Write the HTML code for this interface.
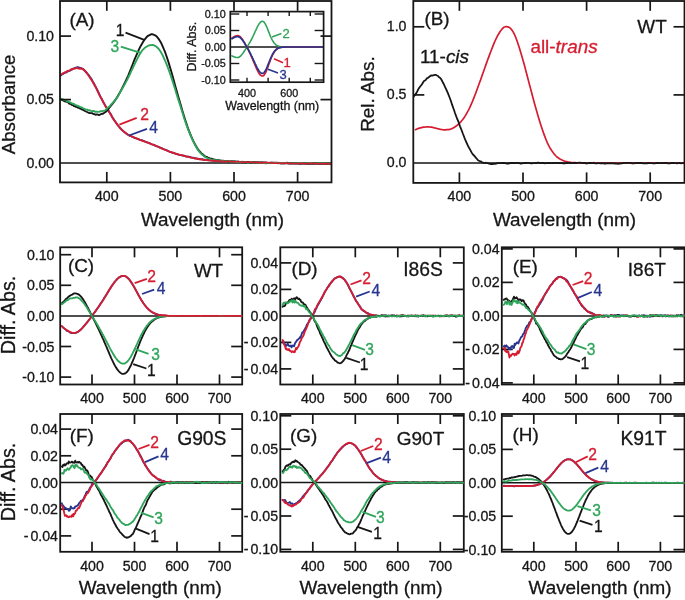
<!DOCTYPE html>
<html><head><meta charset="utf-8"><title>Figure</title>
<style>html,body{margin:0;padding:0;background:#fff}svg{display:block}</style>
</head><body>
<svg width="685" height="600" viewBox="0 0 685 600" font-family='"Liberation Sans", Arial, sans-serif'>
<rect width="685" height="600" fill="#fff"/>
<defs>
<clipPath id="cA"><rect x="60" y="1.0" width="271.5" height="181.4"/></clipPath>
<clipPath id="cB"><rect x="413.3" y="1.0" width="271.2" height="181.9"/></clipPath>
<clipPath id="cI"><rect x="230.3" y="11.6" width="93.30000000000001" height="70.60000000000001"/></clipPath>
<clipPath id="cC"><rect x="60.2" y="247.3" width="182.0" height="137.2"/></clipPath>
<clipPath id="cD"><rect x="280.3" y="247.3" width="183.5" height="137.2"/></clipPath>
<clipPath id="cE"><rect x="501.8" y="247.3" width="182.7" height="137.2"/></clipPath>
<clipPath id="cF"><rect x="60.2" y="414" width="182.0" height="137.79999999999995"/></clipPath>
<clipPath id="cG"><rect x="280.3" y="414" width="183.5" height="137.79999999999995"/></clipPath>
<clipPath id="cH"><rect x="501.8" y="414" width="182.7" height="137.79999999999995"/></clipPath>
<filter id="soft" x="0" y="0" width="100%" height="100%" filterUnits="userSpaceOnUse"><feGaussianBlur stdDeviation="0.45"/></filter>
</defs>
<g filter="url(#soft)">
<rect width="685" height="600" fill="#fff"/>
<line x1="60" x2="331.5" y1="163.1" y2="163.1" stroke="#161616" stroke-width="1.5"/>
<polyline points="60.0,75.6 61.0,75.3 62.0,74.3 63.0,74.0 64.0,73.3 65.0,72.6 66.0,72.6 67.0,72.0 68.0,71.3 69.0,70.9 70.0,70.6 71.0,69.9 72.0,69.5 73.0,68.7 74.0,68.4 75.0,68.0 76.0,67.6 77.0,67.3 78.0,67.2 79.0,67.6 80.0,67.8 81.0,68.1 82.0,68.7 83.0,69.0 84.0,70.0 85.0,71.1 86.0,72.3 87.0,73.2 88.0,74.4 89.0,75.4 90.0,77.1 91.0,78.3 92.0,79.9 93.0,82.2 94.0,83.4 95.0,85.6 96.0,87.5 97.0,89.4 98.0,91.5 99.0,93.6 100.0,95.9 101.0,97.7 102.0,99.6 103.0,101.5 104.0,103.2 105.0,105.2 106.0,106.7 107.0,108.8 108.0,109.9 109.0,111.4 110.0,113.1 111.0,114.4 112.0,116.9 113.0,118.3 114.0,119.8 115.0,121.3 116.0,122.8 117.0,124.0 118.0,125.5 119.0,126.7 120.0,127.8 121.0,128.9 122.0,130.0 123.0,130.9 124.0,131.7 125.0,132.6 126.0,133.4 127.0,133.9 128.0,134.7 129.0,135.3 130.0,135.7 131.0,136.2 132.0,136.6 133.0,137.2 134.0,137.6 135.0,138.0 136.0,138.3 137.0,138.7 138.0,139.1 139.0,139.4 140.0,140.0 141.0,140.1 142.0,140.2 143.0,140.7 144.0,141.1 145.0,141.6 146.0,141.9 147.0,142.3 148.0,142.7 149.0,143.1 150.0,143.4 151.0,143.8 152.0,144.3 153.0,144.7 154.0,145.0 155.0,145.7 156.0,146.1 157.0,146.4 158.0,146.7 159.0,147.2 160.0,147.6 161.0,148.0 162.0,148.4 163.0,148.8 164.0,149.3 165.0,149.7 166.0,150.0 167.0,150.5 168.0,150.9 169.0,151.4 170.0,151.8 171.0,152.1 172.0,152.5 173.0,152.8 174.0,153.0 175.0,153.5 176.0,153.9 177.0,154.2 178.0,154.4 179.0,154.7 180.0,154.9 181.0,155.1 182.0,155.4 183.0,155.6 184.0,155.8 185.0,156.0 186.0,156.3 187.0,156.6 188.0,156.7 189.0,156.8 190.0,157.1 191.0,157.5 192.0,157.6 193.0,157.8 194.0,158.0 195.0,158.3 196.0,158.4 197.0,158.7 198.0,158.8 199.0,159.0 200.0,159.2 201.0,159.3 202.0,159.3 203.0,159.4 204.0,159.6 205.0,159.8 206.0,160.0 207.0,160.0 208.0,160.2 209.0,160.4 210.0,160.4 211.0,160.4 212.0,160.5 213.0,160.6 214.0,160.8 215.0,160.7 216.0,160.8 217.0,160.8 218.0,160.8 219.0,161.1 220.0,161.2 221.0,161.1 222.0,161.2 223.0,161.3 224.0,161.2 225.0,161.3 226.0,161.4 227.0,161.3 228.0,161.4 229.0,161.6 230.0,161.7 231.0,161.5 232.0,161.6 233.0,161.6 234.0,161.7 235.0,161.8 236.0,161.9 237.0,161.8 238.0,161.8 239.0,162.0 240.0,161.9 241.0,162.0 242.0,162.1 243.0,162.1 244.0,162.4 245.0,162.3 246.0,162.5 247.0,162.2 248.0,161.9 249.0,162.2 250.0,162.3 251.0,162.3 252.0,162.3 253.0,162.1 254.0,162.2 255.0,162.2 256.0,162.3 257.0,162.5 258.0,162.5 259.0,162.6 260.0,162.5 261.0,162.5 262.0,162.6 263.0,162.6 264.0,162.8 265.0,162.7 266.0,162.9 267.0,162.8 268.0,162.9 269.0,162.8 270.0,163.0 271.0,163.0 272.0,163.0 273.0,163.1 274.0,163.0 275.0,162.9 276.0,162.7 277.0,163.0 278.0,162.9 279.0,162.9 280.0,163.0 281.0,163.3 282.0,163.1 283.0,163.1 284.0,163.1 285.0,163.2 286.0,163.0 287.0,163.1 288.0,163.3 289.0,163.5 290.0,163.6 291.0,163.4 292.0,163.4 293.0,163.4 294.0,163.2 295.0,163.1 296.0,163.3 297.0,163.4 298.0,163.4 299.0,163.6 300.0,163.4 301.0,163.5 302.0,163.5 303.0,163.5 304.0,163.6 305.0,163.6 306.0,163.6 307.0,163.6 308.0,163.8 309.0,163.7 310.0,163.8 311.0,163.8 312.0,163.7 313.0,163.8 314.0,163.6 315.0,163.8 316.0,163.6 317.0,163.6 318.0,163.7 319.0,163.8 320.0,163.9 321.0,163.9 322.0,163.8 323.0,163.7 324.0,163.8 325.0,163.8 326.0,163.7 327.0,163.8 328.0,163.8 329.0,163.7 330.0,163.8 331.0,163.6 332.0,163.6" fill="none" stroke="#28368f" stroke-width="1.9" stroke-linejoin="round" stroke-linecap="round" clip-path="url(#cA)"/>
<polyline points="60.0,75.7 61.0,74.6 62.0,74.2 63.0,73.3 64.0,73.1 65.0,72.4 66.0,72.0 67.0,71.2 68.0,70.8 69.0,70.7 70.0,70.3 71.0,69.3 72.0,69.2 73.0,69.0 74.0,68.5 75.0,68.6 76.0,68.0 77.0,68.0 78.0,68.3 79.0,68.6 80.0,68.8 81.0,68.5 82.0,68.5 83.0,69.3 84.0,69.8 85.0,70.9 86.0,71.7 87.0,73.3 88.0,74.8 89.0,76.3 90.0,77.7 91.0,79.3 92.0,80.8 93.0,82.5 94.0,84.2 95.0,86.0 96.0,87.6 97.0,90.0 98.0,91.8 99.0,94.1 100.0,96.2 101.0,97.7 102.0,99.3 103.0,101.8 104.0,103.6 105.0,105.4 106.0,107.0 107.0,108.7 108.0,110.0 109.0,111.8 110.0,113.4 111.0,115.1 112.0,116.7 113.0,118.4 114.0,120.0 115.0,121.3 116.0,122.6 117.0,124.1 118.0,125.5 119.0,126.7 120.0,128.0 121.0,129.1 122.0,130.0 123.0,130.9 124.0,131.8 125.0,132.5 126.0,133.3 127.0,134.1 128.0,134.7 129.0,135.3 130.0,135.8 131.0,136.2 132.0,136.6 133.0,137.0 134.0,137.4 135.0,137.8 136.0,138.2 137.0,138.5 138.0,139.0 139.0,139.4 140.0,139.8 141.0,140.3 142.0,140.7 143.0,141.1 144.0,141.3 145.0,141.5 146.0,142.0 147.0,142.4 148.0,142.7 149.0,143.1 150.0,143.5 151.0,143.9 152.0,144.3 153.0,144.6 154.0,144.8 155.0,145.3 156.0,145.9 157.0,146.2 158.0,146.8 159.0,147.2 160.0,147.6 161.0,148.1 162.0,148.5 163.0,148.9 164.0,149.3 165.0,149.7 166.0,150.2 167.0,150.5 168.0,151.0 169.0,151.5 170.0,152.0 171.0,152.1 172.0,152.5 173.0,152.7 174.0,153.1 175.0,153.5 176.0,153.7 177.0,153.9 178.0,154.3 179.0,154.7 180.0,154.9 181.0,155.1 182.0,155.2 183.0,155.5 184.0,155.8 185.0,156.1 186.0,156.5 187.0,156.6 188.0,156.7 189.0,157.0 190.0,157.2 191.0,157.4 192.0,157.7 193.0,157.9 194.0,158.2 195.0,158.5 196.0,158.4 197.0,158.6 198.0,159.0 199.0,159.0 200.0,159.3 201.0,159.4 202.0,159.5 203.0,159.8 204.0,160.0 205.0,160.0 206.0,160.1 207.0,160.0 208.0,160.0 209.0,160.3 210.0,160.4 211.0,160.3 212.0,160.5 213.0,160.6 214.0,160.8 215.0,161.0 216.0,160.9 217.0,160.9 218.0,160.9 219.0,161.0 220.0,161.2 221.0,161.4 222.0,161.5 223.0,161.5 224.0,161.4 225.0,161.5 226.0,161.5 227.0,161.5 228.0,161.3 229.0,161.4 230.0,161.7 231.0,161.5 232.0,161.4 233.0,161.5 234.0,161.8 235.0,162.0 236.0,161.9 237.0,161.9 238.0,161.9 239.0,161.8 240.0,161.9 241.0,161.9 242.0,161.8 243.0,161.9 244.0,161.9 245.0,161.9 246.0,161.9 247.0,162.2 248.0,162.4 249.0,162.3 250.0,162.3 251.0,162.4 252.0,162.4 253.0,162.3 254.0,162.5 255.0,162.4 256.0,162.3 257.0,162.3 258.0,162.3 259.0,162.4 260.0,162.6 261.0,162.8 262.0,162.8 263.0,162.8 264.0,162.6 265.0,162.7 266.0,162.6 267.0,162.7 268.0,162.9 269.0,162.9 270.0,162.9 271.0,162.8 272.0,162.8 273.0,162.9 274.0,162.8 275.0,162.8 276.0,163.0 277.0,162.8 278.0,162.9 279.0,162.8 280.0,163.1 281.0,163.2 282.0,163.3 283.0,163.3 284.0,163.3 285.0,163.3 286.0,163.1 287.0,163.2 288.0,163.3 289.0,163.1 290.0,163.3 291.0,163.4 292.0,163.2 293.0,163.2 294.0,163.2 295.0,163.2 296.0,163.4 297.0,163.2 298.0,163.3 299.0,163.4 300.0,163.5 301.0,163.5 302.0,163.5 303.0,163.6 304.0,163.3 305.0,163.5 306.0,163.5 307.0,163.4 308.0,163.4 309.0,163.3 310.0,163.2 311.0,163.3 312.0,163.4 313.0,163.6 314.0,163.5 315.0,163.4 316.0,163.4 317.0,163.7 318.0,163.7 319.0,163.6 320.0,163.6 321.0,163.5 322.0,163.6 323.0,163.7 324.0,163.9 325.0,164.0 326.0,163.9 327.0,163.8 328.0,163.7 329.0,163.4 330.0,163.5 331.0,163.7 332.0,163.7" fill="none" stroke="#d61d30" stroke-width="1.9" stroke-linejoin="round" stroke-linecap="round" clip-path="url(#cA)"/>
<polyline points="60.0,99.0 61.0,99.1 62.0,99.9 63.0,100.4 64.0,100.9 65.0,101.5 66.0,101.3 67.0,101.9 68.0,102.3 69.0,103.5 70.0,103.9 71.0,104.2 72.0,105.0 73.0,105.1 74.0,106.1 75.0,106.3 76.0,106.8 77.0,107.0 78.0,107.8 79.0,107.7 80.0,108.6 81.0,108.9 82.0,109.5 83.0,109.7 84.0,110.4 85.0,111.0 86.0,111.5 87.0,112.0 88.0,112.5 89.0,113.0 90.0,113.1 91.0,113.1 92.0,113.1 93.0,113.8 94.0,114.0 95.0,114.5 96.0,114.7 97.0,114.4 98.0,114.7 99.0,115.1 100.0,114.7 101.0,114.2 102.0,113.8 103.0,113.7 104.0,113.0 105.0,112.3 106.0,111.6 107.0,110.5 108.0,109.4 109.0,108.1 110.0,106.8 111.0,105.7 112.0,104.5 113.0,103.2 114.0,101.8 115.0,100.5 116.0,99.0 117.0,97.4 118.0,95.8 119.0,94.1 120.0,92.3 121.0,90.4 122.0,88.4 123.0,86.5 124.0,84.5 125.0,82.4 126.0,80.3 127.0,78.2 128.0,76.2 129.0,73.7 130.0,71.2 131.0,68.7 132.0,66.0 133.0,63.5 134.0,60.9 135.0,58.4 136.0,56.1 137.0,53.8 138.0,51.6 139.0,49.4 140.0,47.4 141.0,45.4 142.0,43.7 143.0,42.0 144.0,40.4 145.0,39.1 146.0,37.9 147.0,36.7 148.0,35.8 149.0,35.3 150.0,34.8 151.0,34.3 152.0,34.2 153.0,34.4 154.0,34.8 155.0,35.3 156.0,35.9 157.0,36.8 158.0,38.1 159.0,39.4 160.0,41.0 161.0,42.7 162.0,44.9 163.0,47.1 164.0,49.5 165.0,51.9 166.0,54.7 167.0,57.6 168.0,60.6 169.0,63.9 170.0,67.2 171.0,70.6 172.0,74.0 173.0,77.6 174.0,81.3 175.0,84.9 176.0,88.4 177.0,92.1 178.0,95.7 179.0,99.1 180.0,102.6 181.0,105.9 182.0,109.4 183.0,112.7 184.0,116.1 185.0,119.3 186.0,122.3 187.0,125.4 188.0,128.2 189.0,130.9 190.0,133.4 191.0,135.9 192.0,138.2 193.0,140.3 194.0,142.3 195.0,144.2 196.0,146.0 197.0,147.7 198.0,149.3 199.0,150.6 200.0,151.6 201.0,152.8 202.0,153.8 203.0,154.6 204.0,155.4 205.0,156.3 206.0,156.7 207.0,157.0 208.0,157.6 209.0,157.9 210.0,158.5 211.0,158.6 212.0,158.8 213.0,159.2 214.0,159.5 215.0,159.7 216.0,159.9 217.0,160.0 218.0,160.1 219.0,160.2 220.0,160.5 221.0,160.6 222.0,160.7 223.0,160.8 224.0,161.0 225.0,161.2 226.0,161.2 227.0,161.2 228.0,161.3 229.0,161.7 230.0,161.6 231.0,161.8 232.0,161.5 233.0,161.7 234.0,161.5 235.0,161.5 236.0,161.6 237.0,161.7 238.0,161.8 239.0,161.9 240.0,162.0 241.0,162.0 242.0,162.3 243.0,162.3 244.0,162.4 245.0,162.6 246.0,162.6 247.0,162.5 248.0,162.5 249.0,162.7 250.0,162.5 251.0,162.3 252.0,162.4 253.0,162.2 254.0,162.3 255.0,162.5 256.0,162.5 257.0,162.6 258.0,162.7 259.0,162.6 260.0,162.7 261.0,162.6 262.0,162.5 263.0,162.6 264.0,162.7 265.0,162.7 266.0,162.7 267.0,162.9 268.0,163.0 269.0,163.0 270.0,163.0 271.0,162.8 272.0,162.8 273.0,162.7 274.0,162.9 275.0,163.0 276.0,163.1 277.0,163.1 278.0,163.0 279.0,163.1 280.0,163.1 281.0,163.2 282.0,163.3 283.0,163.2 284.0,163.4 285.0,163.1 286.0,162.9 287.0,162.8 288.0,162.9 289.0,163.0 290.0,163.3 291.0,163.2 292.0,163.3 293.0,163.3 294.0,163.3 295.0,163.2 296.0,163.5 297.0,163.4 298.0,163.3 299.0,163.6 300.0,163.5 301.0,163.5 302.0,163.4 303.0,163.3 304.0,163.2 305.0,163.2 306.0,163.5 307.0,163.5 308.0,163.5 309.0,163.6 310.0,163.4 311.0,163.6 312.0,163.5 313.0,163.4 314.0,163.5 315.0,163.6 316.0,163.5 317.0,163.5 318.0,163.6 319.0,163.8 320.0,163.6 321.0,163.2 322.0,163.6 323.0,163.6 324.0,163.5 325.0,163.6 326.0,163.5 327.0,163.7 328.0,163.5 329.0,163.5 330.0,163.4 331.0,163.7 332.0,163.6" fill="none" stroke="#161616" stroke-width="1.9" stroke-linejoin="round" stroke-linecap="round" clip-path="url(#cA)"/>
<polyline points="60.0,98.8 61.0,99.3 62.0,99.1 63.0,99.4 64.0,99.9 65.0,100.2 66.0,100.5 67.0,101.1 68.0,101.7 69.0,101.9 70.0,102.3 71.0,102.9 72.0,103.4 73.0,103.8 74.0,104.0 75.0,104.9 76.0,105.2 77.0,105.6 78.0,106.0 79.0,106.4 80.0,106.9 81.0,107.1 82.0,107.6 83.0,108.3 84.0,108.7 85.0,109.1 86.0,109.4 87.0,109.6 88.0,110.3 89.0,110.2 90.0,110.5 91.0,110.9 92.0,111.1 93.0,111.0 94.0,111.0 95.0,111.8 96.0,111.6 97.0,111.7 98.0,111.9 99.0,111.9 100.0,111.4 101.0,111.1 102.0,111.2 103.0,110.9 104.0,110.7 105.0,110.4 106.0,109.8 107.0,108.6 108.0,107.4 109.0,107.0 110.0,105.8 111.0,104.5 112.0,103.6 113.0,102.5 114.0,101.3 115.0,100.1 116.0,98.9 117.0,97.5 118.0,96.0 119.0,94.3 120.0,92.5 121.0,90.8 122.0,89.1 123.0,87.3 124.0,85.6 125.0,83.8 126.0,81.9 127.0,80.1 128.0,78.1 129.0,76.0 130.0,74.0 131.0,71.7 132.0,69.7 133.0,67.6 134.0,65.3 135.0,63.3 136.0,61.3 137.0,59.3 138.0,57.4 139.0,55.5 140.0,53.8 141.0,52.2 142.0,50.7 143.0,49.7 144.0,48.7 145.0,47.7 146.0,47.0 147.0,46.5 148.0,45.8 149.0,45.4 150.0,45.2 151.0,45.1 152.0,45.0 153.0,45.0 154.0,45.4 155.0,45.8 156.0,46.3 157.0,47.3 158.0,48.2 159.0,49.4 160.0,50.8 161.0,52.3 162.0,54.1 163.0,56.0 164.0,58.3 165.0,60.5 166.0,62.9 167.0,65.4 168.0,68.0 169.0,70.6 170.0,73.5 171.0,76.5 172.0,79.4 173.0,82.5 174.0,85.7 175.0,88.8 176.0,92.3 177.0,95.4 178.0,98.6 179.0,101.6 180.0,104.8 181.0,108.0 182.0,111.2 183.0,114.4 184.0,117.7 185.0,120.7 186.0,123.7 187.0,126.5 188.0,129.3 189.0,131.7 190.0,134.0 191.0,136.4 192.0,138.7 193.0,140.8 194.0,142.8 195.0,144.8 196.0,146.8 197.0,148.4 198.0,150.0 199.0,151.4 200.0,152.6 201.0,153.6 202.0,154.6 203.0,155.2 204.0,156.3 205.0,156.9 206.0,157.5 207.0,158.0 208.0,158.4 209.0,158.6 210.0,159.2 211.0,159.5 212.0,159.6 213.0,160.2 214.0,160.0 215.0,160.2 216.0,160.3 217.0,160.2 218.0,160.6 219.0,160.5 220.0,160.6 221.0,160.8 222.0,160.9 223.0,160.9 224.0,161.2 225.0,161.3 226.0,161.2 227.0,161.2 228.0,161.4 229.0,161.3 230.0,161.5 231.0,161.7 232.0,161.7 233.0,161.5 234.0,161.5 235.0,161.7 236.0,161.8 237.0,162.1 238.0,162.1 239.0,162.1 240.0,162.2 241.0,162.3 242.0,162.3 243.0,162.4 244.0,162.4 245.0,162.4 246.0,162.4 247.0,162.7 248.0,162.6 249.0,162.7 250.0,162.3 251.0,162.3 252.0,162.3 253.0,162.5 254.0,162.5 255.0,162.5 256.0,162.5 257.0,162.7 258.0,162.9 259.0,162.8 260.0,162.9 261.0,162.8 262.0,162.9 263.0,162.8 264.0,163.0 265.0,163.2 266.0,163.1 267.0,163.2 268.0,162.9 269.0,162.9 270.0,163.2 271.0,163.1 272.0,163.1 273.0,162.9 274.0,163.0 275.0,162.9 276.0,163.1 277.0,163.0 278.0,163.4 279.0,163.1 280.0,163.2 281.0,162.9 282.0,162.9 283.0,163.2 284.0,163.2 285.0,163.0 286.0,163.1 287.0,163.3 288.0,163.3 289.0,163.4 290.0,163.1 291.0,163.4 292.0,163.4 293.0,163.1 294.0,163.4 295.0,163.3 296.0,163.3 297.0,163.1 298.0,163.1 299.0,163.0 300.0,163.2 301.0,163.2 302.0,163.1 303.0,163.2 304.0,163.4 305.0,163.3 306.0,163.4 307.0,163.2 308.0,163.1 309.0,163.1 310.0,163.2 311.0,163.3 312.0,163.5 313.0,163.4 314.0,163.4 315.0,163.5 316.0,163.5 317.0,163.5 318.0,163.5 319.0,163.2 320.0,163.2 321.0,163.1 322.0,163.2 323.0,163.4 324.0,163.2 325.0,163.5 326.0,163.4 327.0,163.4 328.0,163.4 329.0,163.5 330.0,163.4 331.0,163.2 332.0,163.4" fill="none" stroke="#2fa55a" stroke-width="1.9" stroke-linejoin="round" stroke-linecap="round" clip-path="url(#cA)"/>
<polyline points="205.5,159.9 206.5,160.1 207.5,160.2 208.5,160.1 209.5,160.3 210.5,160.4 211.5,160.4 212.5,160.5 213.5,160.7 214.5,160.6 215.5,160.7 216.5,160.9 217.5,160.8 218.5,160.9 219.5,160.9 220.5,160.9 221.5,161.0 222.5,161.1 223.5,161.4 224.5,161.4 225.5,161.5 226.5,161.6 227.5,161.6 228.5,161.2 229.5,161.4 230.5,161.5 231.5,161.5 232.5,161.6 233.5,161.8 234.5,161.7 235.5,161.7 236.5,161.9 237.5,161.7 238.5,161.7 239.5,161.8 240.5,162.0 241.5,162.2 242.5,162.2 243.5,162.5 244.5,162.4 245.5,162.2 246.5,162.2 247.5,162.3 248.5,162.3 249.5,162.1 250.5,162.2 251.5,162.2 252.5,162.3 253.5,162.5 254.5,162.5 255.5,162.4 256.5,162.4 257.5,162.4 258.5,162.7 259.5,162.8 260.5,162.8 261.5,162.7 262.5,162.6 263.5,162.7 264.5,162.4 265.5,162.7 266.5,162.6 267.5,162.7 268.5,162.8 269.5,162.7 270.5,162.8 271.5,163.0 272.5,163.2 273.5,163.1 274.5,163.3 275.5,163.3 276.5,163.2 277.5,163.2 278.5,163.1 279.5,163.1 280.5,163.2 281.5,163.3 282.5,163.3 283.5,163.1 284.5,163.3 285.5,163.3 286.5,163.3 287.5,163.2 288.5,163.3 289.5,163.3 290.5,163.4 291.5,163.4 292.5,163.6 293.5,163.5 294.5,163.5 295.5,163.5 296.5,163.6 297.5,163.4 298.5,163.4 299.5,163.4 300.5,163.4 301.5,163.3 302.5,163.3 303.5,163.5 304.5,163.7 305.5,163.5 306.5,163.6 307.5,163.5 308.5,163.4 309.5,163.5 310.5,163.5 311.5,163.6 312.5,163.4 313.5,163.4 314.5,163.5 315.5,163.5 316.5,163.9 317.5,163.8 318.5,163.7 319.5,163.8 320.5,163.5 321.5,163.4 322.5,163.8 323.5,163.7 324.5,163.8 325.5,163.7 326.5,163.6 327.5,163.7 328.5,163.6 329.5,163.8 330.5,163.9 331.5,163.9" fill="none" stroke="#d61d30" stroke-width="1.5" stroke-linejoin="round" stroke-linecap="round" clip-path="url(#cA)"/>
<rect x="60" y="1.0" width="271.5" height="181.4" fill="none" stroke="#161616" stroke-width="1.8"/>
<line x1="106.8" x2="106.8" y1="182.4" y2="171.9" stroke="#161616" stroke-width="1.7"/>
<line x1="106.8" x2="106.8" y1="1.0" y2="10.8" stroke="#161616" stroke-width="1.7"/>
<line x1="170.4" x2="170.4" y1="182.4" y2="171.9" stroke="#161616" stroke-width="1.7"/>
<line x1="170.4" x2="170.4" y1="1.0" y2="10.8" stroke="#161616" stroke-width="1.7"/>
<line x1="234.0" x2="234.0" y1="182.4" y2="171.9" stroke="#161616" stroke-width="1.7"/>
<line x1="234.0" x2="234.0" y1="1.0" y2="10.8" stroke="#161616" stroke-width="1.7"/>
<line x1="297.6" x2="297.6" y1="182.4" y2="171.9" stroke="#161616" stroke-width="1.7"/>
<line x1="297.6" x2="297.6" y1="1.0" y2="10.8" stroke="#161616" stroke-width="1.7"/>
<line x1="60" x2="71" y1="99.6" y2="99.6" stroke="#161616" stroke-width="1.7"/>
<line x1="331.5" x2="320.5" y1="99.6" y2="99.6" stroke="#161616" stroke-width="1.7"/>
<line x1="60" x2="71" y1="36.1" y2="36.1" stroke="#161616" stroke-width="1.7"/>
<line x1="331.5" x2="320.5" y1="36.1" y2="36.1" stroke="#161616" stroke-width="1.7"/>
<text x="106.8" y="201.3" font-size="14.2" text-anchor="middle" fill="#161616" stroke="#161616" stroke-width="0.3" >400</text>
<text x="170.4" y="201.3" font-size="14.2" text-anchor="middle" fill="#161616" stroke="#161616" stroke-width="0.3" >500</text>
<text x="234.0" y="201.3" font-size="14.2" text-anchor="middle" fill="#161616" stroke="#161616" stroke-width="0.3" >600</text>
<text x="297.6" y="201.3" font-size="14.2" text-anchor="middle" fill="#161616" stroke="#161616" stroke-width="0.3" >700</text>
<text x="54.0" y="167.9" font-size="14.2" text-anchor="end" fill="#161616" stroke="#161616" stroke-width="0.3" >0.00</text>
<text x="54.0" y="104.4" font-size="14.2" text-anchor="end" fill="#161616" stroke="#161616" stroke-width="0.3" >0.05</text>
<text x="54.0" y="40.9" font-size="14.2" text-anchor="end" fill="#161616" stroke="#161616" stroke-width="0.3" >0.10</text>
<text x="212.5" y="226.0" font-size="18.9" text-anchor="middle" fill="#161616" stroke="#161616" stroke-width="0.3" >Wavelength (nm)</text>
<text x="15.4" y="104.4" font-size="18.7" text-anchor="middle" fill="#161616" stroke="#161616" stroke-width="0.3" transform="rotate(-90 15.4 104.4)">Absorbance</text>
<text x="82.0" y="25.5" font-size="18.9" text-anchor="middle" fill="#161616" stroke="#161616" stroke-width="0.3" >(A)</text>
<text x="120.2" y="36.2" font-size="15.6" text-anchor="middle" fill="#161616" stroke="#161616" stroke-width="0.3" >1</text>
<line x1="125.5" y1="32.7" x2="144.3" y2="39.8" stroke="#161616" stroke-width="1.8"/>
<text x="114.9" y="52.0" font-size="15.6" text-anchor="middle" fill="#2fa55a" stroke="#2fa55a" stroke-width="0.3" >3</text>
<line x1="120.8" y1="46.6" x2="139.8" y2="52.7" stroke="#2fa55a" stroke-width="1.8"/>
<text x="144.5" y="119.7" font-size="15.6" text-anchor="middle" fill="#d61d30" stroke="#d61d30" stroke-width="0.3" >2</text>
<line x1="119.4" y1="124.6" x2="136.7" y2="117.9" stroke="#d61d30" stroke-width="1.8"/>
<text x="153.7" y="132.6" font-size="15.6" text-anchor="middle" fill="#28368f" stroke="#28368f" stroke-width="0.3" >4</text>
<line x1="129" y1="135.5" x2="147" y2="128.9" stroke="#28368f" stroke-width="1.8"/>
<line x1="230.3" x2="323.6" y1="47.0" y2="47.0" stroke="#161616" stroke-width="1.4"/>
<polyline points="232.0,55.8 232.3,56.0 232.7,56.2 233.0,56.3 233.3,56.5 233.6,56.6 233.9,56.8 234.2,56.9 234.6,57.0 234.9,57.1 235.2,57.2 235.5,57.3 235.8,57.4 236.1,57.5 236.4,57.5 236.8,57.5 237.1,57.5 237.4,57.5 237.7,57.5 238.0,57.5 238.3,57.4 238.7,57.3 239.0,57.2 239.3,57.0 239.6,56.8 239.9,56.5 240.2,56.3 240.6,56.0 240.9,55.7 241.2,55.3 241.5,55.0 241.8,54.6 242.1,54.2 242.5,53.8 242.8,53.4 243.1,52.9 243.4,52.5 243.7,52.0 244.0,51.5 244.4,51.1 244.7,50.6 245.0,50.1 245.3,49.6 245.6,49.2 245.9,48.7 246.3,48.2 246.6,47.7 246.9,47.2 247.2,46.7 247.5,46.2 247.8,45.7 248.2,45.2 248.5,44.7 248.8,44.2 249.1,43.7 249.4,43.1 249.7,42.6 250.1,42.0 250.4,41.5 250.7,40.9 251.0,40.3 251.3,39.7 251.6,39.1 252.0,38.5 252.3,37.8 252.6,37.2 252.9,36.5 253.2,35.9 253.5,35.2 253.9,34.5 254.2,33.8 254.5,33.1 254.8,32.4 255.1,31.7 255.4,31.0 255.8,30.3 256.1,29.6 256.4,28.9 256.7,28.3 257.0,27.6 257.3,27.0 257.7,26.3 258.0,25.7 258.3,25.2 258.6,24.6 258.9,24.1 259.2,23.7 259.6,23.2 259.9,22.8 260.2,22.5 260.5,22.1 260.8,21.9 261.1,21.7 261.5,21.5 261.8,21.4 262.1,21.3 262.4,21.3 262.7,21.3 263.0,21.4 263.4,21.6 263.7,21.8 264.0,22.1 264.3,22.5 264.6,22.9 264.9,23.4 265.3,23.9 265.6,24.5 265.9,25.1 266.2,25.8 266.5,26.5 266.8,27.2 267.2,28.0 267.5,28.7 267.8,29.5 268.1,30.3 268.4,31.1 268.7,31.9 269.0,32.7 269.4,33.5 269.7,34.3 270.0,35.1 270.3,35.8 270.6,36.6 270.9,37.3 271.3,38.0 271.6,38.6 271.9,39.3 272.2,39.9 272.5,40.5 272.8,41.0 273.2,41.5 273.5,42.0 273.8,42.5 274.1,42.9 274.4,43.3 274.7,43.6 275.1,44.0 275.4,44.3 275.7,44.6 276.0,44.8 276.3,45.1 276.6,45.3 277.0,45.5 277.3,45.7 277.6,45.8 277.9,46.0 278.2,46.1 278.5,46.2 278.9,46.3 279.2,46.4 279.5,46.5 279.8,46.5 280.1,46.6 280.4,46.7 280.8,46.7 281.1,46.8 281.4,46.8 281.7,46.8 282.0,46.8 282.3,46.9 282.7,46.9 283.0,46.9 283.3,46.9 283.6,46.9 283.9,46.9 284.2,47.0 284.6,47.0 284.9,47.0 285.2,47.0 285.5,47.0 285.8,47.0 286.1,47.0 286.5,47.0 286.8,47.0 287.1,47.0 287.4,47.0 287.7,47.0 288.0,47.0 288.4,47.0 288.7,47.0 289.0,47.0 289.3,47.0 289.6,47.0 289.9,47.0 290.3,47.0 290.6,47.0 290.9,47.0 291.2,47.0 291.5,47.0 291.8,47.0 292.2,47.0 292.5,47.0 292.8,47.0 293.1,47.0 293.4,47.0 293.7,47.0 294.1,47.0 294.4,47.0 294.7,47.0 295.0,47.0 295.3,47.0 295.6,47.0 296.0,47.0 296.3,47.0 296.6,47.0 296.9,47.0 297.2,47.0 297.5,47.0 297.9,47.0 298.2,47.0 298.5,47.0 298.8,47.0 299.1,47.0 299.4,47.0 299.8,47.0 300.1,47.0 300.4,47.0 300.7,47.0 301.0,47.0 301.3,47.0 301.6,47.0 302.0,47.0 302.3,47.0 302.6,47.0 302.9,47.0 303.2,47.0 303.5,47.0 303.9,47.0 304.2,47.0 304.5,47.0 304.8,47.0 305.1,47.0 305.4,47.0 305.8,47.0 306.1,47.0 306.4,47.0 306.7,47.0 307.0,47.0 307.3,47.0 307.7,47.0 308.0,47.0 308.3,47.0 308.6,47.0 308.9,47.0 309.2,47.0 309.6,47.0 309.9,47.0 310.2,47.0 310.5,47.0 310.8,47.0 311.1,47.0 311.5,47.0 311.8,47.0 312.1,47.0 312.4,47.0 312.7,47.0 313.0,47.0 313.4,47.0 313.7,47.0 314.0,47.0 314.3,47.0 314.6,47.0 314.9,47.0 315.3,47.0 315.6,47.0 315.9,47.0 316.2,47.0 316.5,47.0 316.8,47.0 317.2,47.0 317.5,47.0 317.8,47.0 318.1,47.0 318.4,47.0 318.7,47.0 319.1,47.0 319.4,47.0 319.7,47.0 320.0,47.0 320.3,47.0 320.6,47.0 321.0,47.0 321.3,47.0 321.6,47.0 321.9,47.0 322.2,47.0 322.5,47.0 322.9,47.0 323.2,47.0 323.5,47.0 323.8,47.0" fill="none" stroke="#2fa55a" stroke-width="1.6" stroke-linejoin="round" stroke-linecap="round" clip-path="url(#cI)"/>
<polyline points="232.0,38.1 232.3,37.8 232.7,37.6 233.0,37.4 233.3,37.2 233.6,37.0 233.9,36.8 234.2,36.6 234.6,36.5 234.9,36.3 235.2,36.2 235.5,36.1 235.8,36.0 236.1,35.9 236.4,35.8 236.8,35.8 237.1,35.7 237.4,35.7 237.7,35.7 238.0,35.7 238.3,35.8 238.7,35.9 239.0,36.0 239.3,36.2 239.6,36.3 239.9,36.6 240.2,36.8 240.6,37.1 240.9,37.5 241.2,37.8 241.5,38.2 241.8,38.6 242.1,39.0 242.5,39.5 242.8,39.9 243.1,40.4 243.4,40.9 243.7,41.5 244.0,42.0 244.4,42.5 244.7,43.1 245.0,43.7 245.3,44.2 245.6,44.8 245.9,45.4 246.3,46.0 246.6,46.6 246.9,47.2 247.2,47.8 247.5,48.4 247.8,49.0 248.2,49.6 248.5,50.2 248.8,50.9 249.1,51.5 249.4,52.2 249.7,52.8 250.1,53.5 250.4,54.2 250.7,54.9 251.0,55.6 251.3,56.3 251.6,57.0 252.0,57.7 252.3,58.4 252.6,59.2 252.9,59.9 253.2,60.7 253.5,61.4 253.9,62.2 254.2,62.9 254.5,63.7 254.8,64.5 255.1,65.2 255.4,66.0 255.8,66.7 256.1,67.4 256.4,68.2 256.7,68.9 257.0,69.6 257.3,70.2 257.7,70.9 258.0,71.5 258.3,72.1 258.6,72.6 258.9,73.1 259.2,73.6 259.6,74.1 259.9,74.5 260.2,74.8 260.5,75.1 260.8,75.4 261.1,75.6 261.5,75.8 261.8,75.9 262.1,76.0 262.4,76.0 262.7,76.0 263.0,75.9 263.4,75.7 263.7,75.5 264.0,75.1 264.3,74.8 264.6,74.3 264.9,73.8 265.3,73.2 265.6,72.6 265.9,72.0 266.2,71.3 266.5,70.5 266.8,69.7 267.2,68.9 267.5,68.1 267.8,67.2 268.1,66.4 268.4,65.5 268.7,64.6 269.0,63.7 269.4,62.9 269.7,62.0 270.0,61.1 270.3,60.3 270.6,59.5 270.9,58.7 271.3,57.9 271.6,57.1 271.9,56.4 272.2,55.7 272.5,55.1 272.8,54.4 273.2,53.8 273.5,53.3 273.8,52.7 274.1,52.2 274.4,51.8 274.7,51.3 275.1,50.9 275.4,50.6 275.7,50.2 276.0,49.9 276.3,49.6 276.6,49.3 277.0,49.1 277.3,48.8 277.6,48.6 277.9,48.4 278.2,48.3 278.5,48.1 278.9,48.0 279.2,47.9 279.5,47.8 279.8,47.7 280.1,47.6 280.4,47.5 280.8,47.4 281.1,47.4 281.4,47.3 281.7,47.3 282.0,47.2 282.3,47.2 282.7,47.2 283.0,47.1 283.3,47.1 283.6,47.1 283.9,47.1 284.2,47.1 284.6,47.1 284.9,47.1 285.2,47.0 285.5,47.0 285.8,47.0 286.1,47.0 286.5,47.0 286.8,47.0 287.1,47.0 287.4,47.0 287.7,47.0 288.0,47.0 288.4,47.0 288.7,47.0 289.0,47.0 289.3,47.0 289.6,47.0 289.9,47.0 290.3,47.0 290.6,47.0 290.9,47.0 291.2,47.0 291.5,47.0 291.8,47.0 292.2,47.0 292.5,47.0 292.8,47.0 293.1,47.0 293.4,47.0 293.7,47.0 294.1,47.0 294.4,47.0 294.7,47.0 295.0,47.0 295.3,47.0 295.6,47.0 296.0,47.0 296.3,47.0 296.6,47.0 296.9,47.0 297.2,47.0 297.5,47.0 297.9,47.0 298.2,47.0 298.5,47.0 298.8,47.0 299.1,47.0 299.4,47.0 299.8,47.0 300.1,47.0 300.4,47.0 300.7,47.0 301.0,47.0 301.3,47.0 301.6,47.0 302.0,47.0 302.3,47.0 302.6,47.0 302.9,47.0 303.2,47.0 303.5,47.0 303.9,47.0 304.2,47.0 304.5,47.0 304.8,47.0 305.1,47.0 305.4,47.0 305.8,47.0 306.1,47.0 306.4,47.0 306.7,47.0 307.0,47.0 307.3,47.0 307.7,47.0 308.0,47.0 308.3,47.0 308.6,47.0 308.9,47.0 309.2,47.0 309.6,47.0 309.9,47.0 310.2,47.0 310.5,47.0 310.8,47.0 311.1,47.0 311.5,47.0 311.8,47.0 312.1,47.0 312.4,47.0 312.7,47.0 313.0,47.0 313.4,47.0 313.7,47.0 314.0,47.0 314.3,47.0 314.6,47.0 314.9,47.0 315.3,47.0 315.6,47.0 315.9,47.0 316.2,47.0 316.5,47.0 316.8,47.0 317.2,47.0 317.5,47.0 317.8,47.0 318.1,47.0 318.4,47.0 318.7,47.0 319.1,47.0 319.4,47.0 319.7,47.0 320.0,47.0 320.3,47.0 320.6,47.0 321.0,47.0 321.3,47.0 321.6,47.0 321.9,47.0 322.2,47.0 322.5,47.0 322.9,47.0 323.2,47.0 323.5,47.0 323.8,47.0" fill="none" stroke="#d61d30" stroke-width="1.7" stroke-linejoin="round" stroke-linecap="round" clip-path="url(#cI)"/>
<polyline points="232.0,38.8 232.3,38.6 232.7,38.4 233.0,38.2 233.3,38.0 233.6,37.8 233.9,37.7 234.2,37.5 234.6,37.4 234.9,37.2 235.2,37.1 235.5,37.0 235.8,36.9 236.1,36.8 236.4,36.8 236.8,36.7 237.1,36.7 237.4,36.7 237.7,36.7 238.0,36.7 238.3,36.8 238.7,36.8 239.0,37.0 239.3,37.1 239.6,37.3 239.9,37.5 240.2,37.7 240.6,38.0 240.9,38.3 241.2,38.6 241.5,39.0 241.8,39.3 242.1,39.7 242.5,40.1 242.8,40.6 243.1,41.0 243.4,41.5 243.7,41.9 244.0,42.4 244.4,42.9 244.7,43.4 245.0,43.9 245.3,44.5 245.6,45.0 245.9,45.5 246.3,46.1 246.6,46.6 246.9,47.1 247.2,47.7 247.5,48.2 247.8,48.8 248.2,49.4 248.5,49.9 248.8,50.5 249.1,51.1 249.4,51.7 249.7,52.3 250.1,52.9 250.4,53.5 250.7,54.1 251.0,54.8 251.3,55.4 251.6,56.1 252.0,56.7 252.3,57.4 252.6,58.1 252.9,58.7 253.2,59.4 253.5,60.1 253.9,60.8 254.2,61.5 254.5,62.2 254.8,62.9 255.1,63.6 255.4,64.2 255.8,64.9 256.1,65.6 256.4,66.2 256.7,66.9 257.0,67.5 257.3,68.1 257.7,68.7 258.0,69.2 258.3,69.8 258.6,70.3 258.9,70.8 259.2,71.2 259.6,71.6 259.9,72.0 260.2,72.3 260.5,72.6 260.8,72.8 261.1,73.0 261.5,73.2 261.8,73.3 262.1,73.4 262.4,73.4 262.7,73.4 263.0,73.3 263.4,73.1 263.7,72.9 264.0,72.6 264.3,72.2 264.6,71.8 264.9,71.4 265.3,70.9 265.6,70.3 265.9,69.7 266.2,69.1 266.5,68.4 266.8,67.7 267.2,66.9 267.5,66.2 267.8,65.4 268.1,64.6 268.4,63.8 268.7,63.0 269.0,62.2 269.4,61.4 269.7,60.6 270.0,59.9 270.3,59.1 270.6,58.3 270.9,57.6 271.3,56.9 271.6,56.2 271.9,55.6 272.2,54.9 272.5,54.3 272.8,53.8 273.2,53.2 273.5,52.7 273.8,52.2 274.1,51.8 274.4,51.3 274.7,50.9 275.1,50.6 275.4,50.2 275.7,49.9 276.0,49.6 276.3,49.3 276.6,49.1 277.0,48.9 277.3,48.7 277.6,48.5 277.9,48.3 278.2,48.2 278.5,48.0 278.9,47.9 279.2,47.8 279.5,47.7 279.8,47.6 280.1,47.5 280.4,47.5 280.8,47.4 281.1,47.3 281.4,47.3 281.7,47.3 282.0,47.2 282.3,47.2 282.7,47.2 283.0,47.1 283.3,47.1 283.6,47.1 283.9,47.1 284.2,47.1 284.6,47.1 284.9,47.0 285.2,47.0 285.5,47.0 285.8,47.0 286.1,47.0 286.5,47.0 286.8,47.0 287.1,47.0 287.4,47.0 287.7,47.0 288.0,47.0 288.4,47.0 288.7,47.0 289.0,47.0 289.3,47.0 289.6,47.0 289.9,47.0 290.3,47.0 290.6,47.0 290.9,47.0 291.2,47.0 291.5,47.0 291.8,47.0 292.2,47.0 292.5,47.0 292.8,47.0 293.1,47.0 293.4,47.0 293.7,47.0 294.1,47.0 294.4,47.0 294.7,47.0 295.0,47.0 295.3,47.0 295.6,47.0 296.0,47.0 296.3,47.0 296.6,47.0 296.9,47.0 297.2,47.0 297.5,47.0 297.9,47.0 298.2,47.0 298.5,47.0 298.8,47.0 299.1,47.0 299.4,47.0 299.8,47.0 300.1,47.0 300.4,47.0 300.7,47.0 301.0,47.0 301.3,47.0 301.6,47.0 302.0,47.0 302.3,47.0 302.6,47.0 302.9,47.0 303.2,47.0 303.5,47.0 303.9,47.0 304.2,47.0 304.5,47.0 304.8,47.0 305.1,47.0 305.4,47.0 305.8,47.0 306.1,47.0 306.4,47.0 306.7,47.0 307.0,47.0 307.3,47.0 307.7,47.0 308.0,47.0 308.3,47.0 308.6,47.0 308.9,47.0 309.2,47.0 309.6,47.0 309.9,47.0 310.2,47.0 310.5,47.0 310.8,47.0 311.1,47.0 311.5,47.0 311.8,47.0 312.1,47.0 312.4,47.0 312.7,47.0 313.0,47.0 313.4,47.0 313.7,47.0 314.0,47.0 314.3,47.0 314.6,47.0 314.9,47.0 315.3,47.0 315.6,47.0 315.9,47.0 316.2,47.0 316.5,47.0 316.8,47.0 317.2,47.0 317.5,47.0 317.8,47.0 318.1,47.0 318.4,47.0 318.7,47.0 319.1,47.0 319.4,47.0 319.7,47.0 320.0,47.0 320.3,47.0 320.6,47.0 321.0,47.0 321.3,47.0 321.6,47.0 321.9,47.0 322.2,47.0 322.5,47.0 322.9,47.0 323.2,47.0 323.5,47.0 323.8,47.0" fill="none" stroke="#28368f" stroke-width="1.7" stroke-linejoin="round" stroke-linecap="round" clip-path="url(#cI)"/>
<rect x="230.3" y="11.6" width="93.30000000000001" height="70.60000000000001" fill="none" stroke="#161616" stroke-width="1.7"/>
<line x1="247.0" x2="247.0" y1="82.2" y2="77.7" stroke="#161616" stroke-width="1.4"/>
<line x1="247.0" x2="247.0" y1="11.6" y2="16.1" stroke="#161616" stroke-width="1.4"/>
<line x1="268.1" x2="268.1" y1="82.2" y2="77.7" stroke="#161616" stroke-width="1.4"/>
<line x1="268.1" x2="268.1" y1="11.6" y2="16.1" stroke="#161616" stroke-width="1.4"/>
<line x1="289.2" x2="289.2" y1="82.2" y2="77.7" stroke="#161616" stroke-width="1.4"/>
<line x1="289.2" x2="289.2" y1="11.6" y2="16.1" stroke="#161616" stroke-width="1.4"/>
<line x1="310.3" x2="310.3" y1="82.2" y2="77.7" stroke="#161616" stroke-width="1.4"/>
<line x1="310.3" x2="310.3" y1="11.6" y2="16.1" stroke="#161616" stroke-width="1.4"/>
<line x1="230.3" x2="239.3" y1="14.0" y2="14.0" stroke="#161616" stroke-width="1.4"/>
<line x1="323.6" x2="314.6" y1="14.0" y2="14.0" stroke="#161616" stroke-width="1.4"/>
<line x1="230.3" x2="239.3" y1="30.5" y2="30.5" stroke="#161616" stroke-width="1.4"/>
<line x1="323.6" x2="314.6" y1="30.5" y2="30.5" stroke="#161616" stroke-width="1.4"/>
<line x1="230.3" x2="239.3" y1="63.5" y2="63.5" stroke="#161616" stroke-width="1.4"/>
<line x1="323.6" x2="314.6" y1="63.5" y2="63.5" stroke="#161616" stroke-width="1.4"/>
<line x1="230.3" x2="239.3" y1="80.0" y2="80.0" stroke="#161616" stroke-width="1.4"/>
<line x1="323.6" x2="314.6" y1="80.0" y2="80.0" stroke="#161616" stroke-width="1.4"/>
<text x="247.0" y="96.5" font-size="10.8" text-anchor="middle" fill="#161616" stroke="#161616" stroke-width="0.3" >400</text>
<text x="289.2" y="96.5" font-size="10.8" text-anchor="middle" fill="#161616" stroke="#161616" stroke-width="0.3" >600</text>
<text x="225.8" y="17.9" font-size="10.8" text-anchor="end" fill="#161616" stroke="#161616" stroke-width="0.3" >0.10</text>
<text x="225.8" y="34.4" font-size="10.8" text-anchor="end" fill="#161616" stroke="#161616" stroke-width="0.3" >0.05</text>
<text x="225.8" y="50.9" font-size="10.8" text-anchor="end" fill="#161616" stroke="#161616" stroke-width="0.3" >0.00</text>
<text x="225.8" y="67.4" font-size="10.8" text-anchor="end" fill="#161616" stroke="#161616" stroke-width="0.3" >-0.05</text>
<text x="225.8" y="83.9" font-size="10.8" text-anchor="end" fill="#161616" stroke="#161616" stroke-width="0.3" >-0.10</text>
<text x="272.3" y="110.3" font-size="12.4" text-anchor="middle" fill="#161616" stroke="#161616" stroke-width="0.3" >Wavelength (nm)</text>
<text x="196.0" y="46.7" font-size="12.5" text-anchor="middle" fill="#161616" stroke="#161616" stroke-width="0.3" transform="rotate(-90 196 46.7)">Diff. Abs.</text>
<text x="286.0" y="37.5" font-size="13" text-anchor="middle" fill="#2fa55a" stroke="#2fa55a" stroke-width="0.3" >2</text>
<line x1="272" y1="37" x2="281.5" y2="33.5" stroke="#2fa55a" stroke-width="1.5"/>
<text x="287.0" y="66.7" font-size="13" text-anchor="middle" fill="#d61d30" stroke="#d61d30" stroke-width="0.3" >1</text>
<line x1="274" y1="58.8" x2="283" y2="62.8" stroke="#d61d30" stroke-width="1.5"/>
<text x="283.0" y="79.0" font-size="13" text-anchor="middle" fill="#28368f" stroke="#28368f" stroke-width="0.3" >3</text>
<line x1="268" y1="69.2" x2="278" y2="73" stroke="#28368f" stroke-width="1.5"/>
<line x1="413.3" x2="684.5" y1="163.0" y2="163.0" stroke="#161616" stroke-width="1.5"/>
<polyline points="415.5,129.7 416.5,129.2 417.5,128.7 418.5,128.4 419.5,128.1 420.5,127.8 421.5,127.6 422.5,127.4 423.5,127.2 424.5,127.1 425.5,127.0 426.5,126.9 427.5,126.9 428.5,126.9 429.5,127.0 430.5,127.1 431.5,127.2 432.5,127.3 433.5,127.6 434.5,127.8 435.5,128.1 436.5,128.3 437.5,128.6 438.5,128.8 439.5,129.1 440.5,129.3 441.5,129.5 442.5,129.7 443.5,129.8 444.5,129.8 445.5,129.8 446.5,129.7 447.5,129.7 448.5,129.6 449.5,129.4 450.5,129.1 451.5,128.8 452.5,128.4 453.5,127.8 454.5,127.2 455.5,126.5 456.5,125.8 457.5,125.0 458.5,124.1 459.5,123.2 460.5,122.2 461.5,121.0 462.5,119.8 463.5,118.4 464.5,117.0 465.5,115.4 466.5,113.7 467.5,111.9 468.5,110.1 469.5,108.1 470.5,105.9 471.5,103.7 472.5,101.4 473.5,98.9 474.5,96.3 475.5,93.7 476.5,91.0 477.5,88.2 478.5,85.5 479.5,82.8 480.5,80.1 481.5,77.2 482.5,74.4 483.5,71.5 484.5,68.7 485.5,65.9 486.5,63.1 487.5,60.3 488.5,57.6 489.5,54.9 490.5,52.3 491.5,49.7 492.5,47.1 493.5,44.6 494.5,42.2 495.5,40.0 496.5,37.9 497.5,35.9 498.5,34.2 499.5,32.5 500.5,31.0 501.5,29.8 502.5,28.5 503.5,27.6 504.5,27.0 505.5,26.7 506.5,26.6 507.5,26.8 508.5,27.1 509.5,27.6 510.5,28.4 511.5,29.5 512.5,30.9 513.5,32.6 514.5,34.5 515.5,36.8 516.5,39.5 517.5,42.2 518.5,45.2 519.5,48.3 520.5,51.7 521.5,55.1 522.5,58.5 523.5,62.1 524.5,65.6 525.5,69.4 526.5,73.2 527.5,77.0 528.5,80.9 529.5,84.7 530.5,88.4 531.5,92.2 532.5,96.0 533.5,99.8 534.5,103.5 535.5,107.1 536.5,110.6 537.5,114.0 538.5,117.4 539.5,120.7 540.5,123.9 541.5,127.0 542.5,130.0 543.5,132.9 544.5,135.6 545.5,138.2 546.5,140.7 547.5,143.1 548.5,145.2 549.5,147.1 550.5,148.7 551.5,150.3 552.5,151.7 553.5,153.1 554.5,154.4 555.5,155.5 556.5,156.5 557.5,157.3 558.5,158.0 559.5,158.7 560.5,159.3 561.5,159.8 562.5,160.3 563.5,160.7 564.5,161.1 565.5,161.4 566.5,161.6 567.5,161.9 568.5,162.1 569.5,162.2 570.5,162.4 571.5,162.5 572.5,162.5 573.5,162.6 574.5,162.7 575.5,162.7 576.5,162.8 577.5,162.8 578.5,162.9 579.5,162.9 580.5,162.9 581.5,162.9 582.5,162.9 583.5,162.9 584.5,162.9 585.5,162.9 586.5,163.0 587.5,163.0 588.5,163.0 589.5,163.0 590.5,163.0 591.5,163.0 592.5,163.0 593.5,163.0 594.5,163.0 595.5,163.0 596.5,163.0 597.5,163.0 598.5,163.0 599.5,163.0 600.5,163.0 601.5,163.0 602.5,163.0 603.5,163.0 604.5,163.0 605.5,163.0 606.5,163.0 607.5,163.0 608.5,163.0 609.5,163.0 610.5,163.0 611.5,163.0 612.5,163.0 613.5,163.0 614.5,163.0 615.5,163.0 616.5,163.0 617.5,163.0 618.5,163.0 619.5,163.0 620.5,163.0 621.5,163.0 622.5,163.0 623.5,163.0 624.5,163.0 625.5,163.0 626.5,163.0 627.5,163.0 628.5,163.0 629.5,163.0 630.5,163.0 631.5,163.0 632.5,163.0 633.5,163.0 634.5,163.0 635.5,163.0 636.5,163.0 637.5,163.0 638.5,163.0 639.5,163.0 640.5,163.0 641.5,163.0 642.5,163.0 643.5,163.0 644.5,163.0 645.5,163.0 646.5,163.0 647.5,163.0 648.5,163.0 649.5,163.0 650.5,163.0 651.5,163.0 652.5,163.0 653.5,163.0 654.5,163.0 655.5,163.0 656.5,163.0 657.5,163.0 658.5,163.0 659.5,163.0 660.5,163.0 661.5,163.0 662.5,163.0 663.5,163.0 664.5,163.0 665.5,163.0 666.5,163.0 667.5,163.0 668.5,163.0 669.5,163.0 670.5,163.0 671.5,163.0 672.5,163.0 673.5,163.0 674.5,163.0 675.5,163.0 676.5,163.0 677.5,163.0 678.5,163.0 679.5,163.0 680.5,163.0 681.5,163.0 682.5,163.0 683.5,163.0 684.5,163.0 685.5,163.0" fill="none" stroke="#d61d30" stroke-width="1.7" stroke-linejoin="round" stroke-linecap="round" clip-path="url(#cB)"/>
<polyline points="413.0,97.6 414.0,96.1 415.0,95.0 416.0,93.4 417.0,91.9 418.0,89.8 419.0,88.1 420.0,86.8 421.0,85.5 422.0,84.2 423.0,82.5 424.0,81.1 425.0,80.5 426.0,79.6 427.0,78.2 428.0,77.9 429.0,77.0 430.0,76.3 431.0,75.5 432.0,75.7 433.0,75.3 434.0,75.1 435.0,74.9 436.0,74.9 437.0,75.5 438.0,76.0 439.0,77.2 440.0,77.8 441.0,78.9 442.0,80.7 443.0,82.8 444.0,84.5 445.0,86.9 446.0,88.8 447.0,91.1 448.0,93.4 449.0,96.0 450.0,98.5 451.0,101.2 452.0,104.4 453.0,107.2 454.0,110.0 455.0,113.0 456.0,115.7 457.0,118.5 458.0,120.6 459.0,123.3 460.0,126.3 461.0,128.7 462.0,131.3 463.0,134.0 464.0,136.5 465.0,139.1 466.0,141.5 467.0,143.6 468.0,145.9 469.0,147.7 470.0,149.4 471.0,151.3 472.0,153.2 473.0,154.5 474.0,155.5 475.0,156.7 476.0,157.9 477.0,159.0 478.0,160.3 479.0,160.8 480.0,161.3 481.0,161.4 482.0,162.2 483.0,162.7 484.0,162.9 485.0,163.0 486.0,162.7 487.0,163.2 488.0,163.2 489.0,163.7 490.0,163.8 491.0,164.0 492.0,163.9 493.0,164.0 494.0,163.6 495.0,163.8 496.0,163.6 497.0,163.3 498.0,163.2 499.0,163.1 500.0,163.2 501.0,163.1 502.0,162.9 503.0,163.0 504.0,163.0 505.0,163.1 506.0,163.3 507.0,163.5 508.0,163.4 509.0,163.6 510.0,163.0 511.0,163.0 512.0,163.2 513.0,162.9 514.0,163.0 515.0,163.1 516.0,162.8 517.0,162.8 518.0,163.0 519.0,163.0 520.0,163.3 521.0,163.6 522.0,163.4 523.0,163.1 524.0,163.1 525.0,163.0 526.0,162.8 527.0,162.8 528.0,162.9 529.0,162.9 530.0,163.1 531.0,163.3 532.0,163.3 533.0,163.2 534.0,163.2 535.0,163.2 536.0,163.2 537.0,163.0 538.0,162.5 539.0,162.9 540.0,162.9 541.0,162.9 542.0,163.0 543.0,163.0 544.0,163.0 545.0,163.3 546.0,163.2 547.0,163.2 548.0,163.0 549.0,163.0 550.0,163.1 551.0,163.1 552.0,163.2 553.0,163.0 554.0,163.1 555.0,162.9 556.0,162.9 557.0,162.9 558.0,163.0 559.0,163.2 560.0,163.2 561.0,163.0 562.0,163.1 563.0,163.3 564.0,163.3 565.0,163.3 566.0,163.0 567.0,163.0 568.0,162.9 569.0,162.9 570.0,163.0 571.0,163.1 572.0,163.0 573.0,163.1 574.0,163.0 575.0,163.0 576.0,163.0 577.0,162.8 578.0,162.8 579.0,162.7 580.0,162.7 581.0,162.8 582.0,162.9 583.0,163.0 584.0,163.1 585.0,162.9 586.0,163.3 587.0,163.5 588.0,163.1 589.0,163.0 590.0,162.9 591.0,163.0 592.0,163.2 593.0,163.1 594.0,162.7 595.0,163.3 596.0,163.4 597.0,163.4 598.0,163.2 599.0,163.2 600.0,163.3 601.0,163.1 602.0,163.3 603.0,163.2 604.0,163.5 605.0,163.3 606.0,163.5 607.0,163.1 608.0,163.3 609.0,163.3 610.0,163.2 611.0,163.3 612.0,163.2 613.0,163.3 614.0,163.4 615.0,163.5 616.0,163.7 617.0,163.7 618.0,163.9 619.0,163.7 620.0,163.5 621.0,163.4 622.0,163.3 623.0,163.0 624.0,163.1 625.0,162.9 626.0,162.9 627.0,162.9 628.0,162.9 629.0,162.8 630.0,162.9 631.0,163.0 632.0,163.3 633.0,163.3 634.0,163.4 635.0,163.2 636.0,163.1 637.0,162.9 638.0,162.8 639.0,163.1 640.0,163.0 641.0,163.0 642.0,163.0 643.0,163.3 644.0,163.2 645.0,163.4 646.0,163.2 647.0,163.4 648.0,163.1 649.0,162.9 650.0,163.1 651.0,163.1 652.0,163.1 653.0,163.3 654.0,163.3 655.0,163.3 656.0,163.0 657.0,162.9 658.0,163.0 659.0,163.1 660.0,163.2 661.0,163.2 662.0,163.0 663.0,163.1 664.0,163.2 665.0,163.0 666.0,163.0 667.0,163.2 668.0,163.4 669.0,163.4 670.0,163.3 671.0,163.0 672.0,163.0 673.0,162.9 674.0,163.0 675.0,163.2 676.0,163.2 677.0,163.4 678.0,163.1 679.0,162.9 680.0,163.2 681.0,163.3 682.0,163.1 683.0,163.1 684.0,162.9 685.0,163.0 686.0,163.1" fill="none" stroke="#161616" stroke-width="1.8" stroke-linejoin="round" stroke-linecap="round" clip-path="url(#cB)"/>
<rect x="413.3" y="1.0" width="271.2" height="181.9" fill="none" stroke="#161616" stroke-width="1.8"/>
<line x1="459.4" x2="459.4" y1="182.9" y2="172.4" stroke="#161616" stroke-width="1.7"/>
<line x1="459.4" x2="459.4" y1="1.0" y2="10.8" stroke="#161616" stroke-width="1.7"/>
<line x1="523.0" x2="523.0" y1="182.9" y2="172.4" stroke="#161616" stroke-width="1.7"/>
<line x1="523.0" x2="523.0" y1="1.0" y2="10.8" stroke="#161616" stroke-width="1.7"/>
<line x1="586.6" x2="586.6" y1="182.9" y2="172.4" stroke="#161616" stroke-width="1.7"/>
<line x1="586.6" x2="586.6" y1="1.0" y2="10.8" stroke="#161616" stroke-width="1.7"/>
<line x1="650.2" x2="650.2" y1="182.9" y2="172.4" stroke="#161616" stroke-width="1.7"/>
<line x1="650.2" x2="650.2" y1="1.0" y2="10.8" stroke="#161616" stroke-width="1.7"/>
<line x1="413.3" x2="424.3" y1="94.9" y2="94.9" stroke="#161616" stroke-width="1.7"/>
<line x1="684.5" x2="673.5" y1="94.9" y2="94.9" stroke="#161616" stroke-width="1.7"/>
<line x1="413.3" x2="424.3" y1="26.8" y2="26.8" stroke="#161616" stroke-width="1.7"/>
<line x1="684.5" x2="673.5" y1="26.8" y2="26.8" stroke="#161616" stroke-width="1.7"/>
<text x="459.4" y="201.3" font-size="14.2" text-anchor="middle" fill="#161616" stroke="#161616" stroke-width="0.3" >400</text>
<text x="523.0" y="201.3" font-size="14.2" text-anchor="middle" fill="#161616" stroke="#161616" stroke-width="0.3" >500</text>
<text x="586.6" y="201.3" font-size="14.2" text-anchor="middle" fill="#161616" stroke="#161616" stroke-width="0.3" >600</text>
<text x="650.2" y="201.3" font-size="14.2" text-anchor="middle" fill="#161616" stroke="#161616" stroke-width="0.3" >700</text>
<text x="406.5" y="167.4" font-size="14.2" text-anchor="end" fill="#161616" stroke="#161616" stroke-width="0.3" >0.0</text>
<text x="406.5" y="99.3" font-size="14.2" text-anchor="end" fill="#161616" stroke="#161616" stroke-width="0.3" >0.5</text>
<text x="406.5" y="31.2" font-size="14.2" text-anchor="end" fill="#161616" stroke="#161616" stroke-width="0.3" >1.0</text>
<text x="564.5" y="226.0" font-size="18.9" text-anchor="middle" fill="#161616" stroke="#161616" stroke-width="0.3" >Wavelength (nm)</text>
<text x="374.0" y="94.0" font-size="18.9" text-anchor="middle" fill="#161616" stroke="#161616" stroke-width="0.3" transform="rotate(-90 374 94)">Rel. Abs.</text>
<text x="437.0" y="25.0" font-size="18.9" text-anchor="middle" fill="#161616" stroke="#161616" stroke-width="0.3" >(B)</text>
<text x="652.0" y="32.5" font-size="18.9" text-anchor="middle" fill="#161616" stroke="#161616" stroke-width="0.3" >WT</text>
<text x="444.5" y="62.5" font-size="18.9" text-anchor="middle" fill="#161616" stroke="#161616" stroke-width="0.3" >11-<tspan font-style="italic">cis</tspan></text>
<text x="564.0" y="53.0" font-size="18.9" text-anchor="middle" fill="#d61d30" stroke="#d61d30" stroke-width="0.3" >all-<tspan font-style="italic">trans</tspan></text>
<rect x="60.2" y="247.3" width="182.0" height="137.2" fill="none" stroke="#161616" stroke-width="1.8"/>
<line x1="92.0" x2="92.0" y1="384.5" y2="374.5" stroke="#161616" stroke-width="1.7"/>
<line x1="92.0" x2="92.0" y1="247.3" y2="257.3" stroke="#161616" stroke-width="1.7"/>
<line x1="134.5" x2="134.5" y1="384.5" y2="374.5" stroke="#161616" stroke-width="1.7"/>
<line x1="134.5" x2="134.5" y1="247.3" y2="257.3" stroke="#161616" stroke-width="1.7"/>
<line x1="177.0" x2="177.0" y1="384.5" y2="374.5" stroke="#161616" stroke-width="1.7"/>
<line x1="177.0" x2="177.0" y1="247.3" y2="257.3" stroke="#161616" stroke-width="1.7"/>
<line x1="219.5" x2="219.5" y1="384.5" y2="374.5" stroke="#161616" stroke-width="1.7"/>
<line x1="219.5" x2="219.5" y1="247.3" y2="257.3" stroke="#161616" stroke-width="1.7"/>
<line x1="60.2" x2="71.2" y1="254.7" y2="254.7" stroke="#161616" stroke-width="1.7"/>
<line x1="242.2" x2="231.2" y1="254.7" y2="254.7" stroke="#161616" stroke-width="1.7"/>
<line x1="60.2" x2="71.2" y1="285.3" y2="285.3" stroke="#161616" stroke-width="1.7"/>
<line x1="242.2" x2="231.2" y1="285.3" y2="285.3" stroke="#161616" stroke-width="1.7"/>
<line x1="60.2" x2="71.2" y1="346.5" y2="346.5" stroke="#161616" stroke-width="1.7"/>
<line x1="242.2" x2="231.2" y1="346.5" y2="346.5" stroke="#161616" stroke-width="1.7"/>
<line x1="60.2" x2="71.2" y1="377.1" y2="377.1" stroke="#161616" stroke-width="1.7"/>
<line x1="242.2" x2="231.2" y1="377.1" y2="377.1" stroke="#161616" stroke-width="1.7"/>
<line x1="60.2" x2="242.2" y1="315.9" y2="315.9" stroke="#161616" stroke-width="1.5"/>
<polyline points="61.8,326.2 62.5,326.9 63.1,327.6 63.7,328.0 64.4,328.5 65.0,328.9 65.7,329.6 66.3,330.1 66.9,330.9 67.6,331.0 68.2,331.2 68.8,331.6 69.5,332.0 70.1,332.6 70.8,332.9 71.4,333.0 72.0,332.8 72.7,332.9 73.3,333.1 73.9,333.1 74.6,333.0 75.2,332.9 75.8,332.9 76.5,332.7 77.1,332.3 77.8,331.9 78.4,331.6 79.0,331.0 79.7,330.5 80.3,330.1 81.0,329.4 81.6,328.8 82.2,328.2 82.9,327.4 83.5,326.7 84.1,326.0 84.8,325.2 85.4,324.4 86.0,323.7 86.7,322.9 87.3,322.1 88.0,321.3 88.6,320.4 89.2,319.7 89.9,318.8 90.5,318.0 91.2,317.1 91.8,316.2 92.4,315.2 93.1,314.3 93.7,313.5 94.3,312.7 95.0,311.9 95.6,311.0 96.2,310.1 96.9,309.1 97.5,308.2 98.2,307.3 98.8,306.4 99.4,305.5 100.1,304.6 100.7,303.6 101.3,302.7 102.0,301.7 102.6,300.7 103.3,299.7 103.9,298.6 104.5,297.6 105.2,296.5 105.8,295.5 106.5,294.5 107.1,293.4 107.7,292.4 108.4,291.4 109.0,290.3 109.6,289.3 110.3,288.4 110.9,287.3 111.5,286.3 112.2,285.4 112.8,284.5 113.5,283.5 114.1,282.7 114.7,281.8 115.4,281.0 116.0,280.3 116.7,279.6 117.3,279.0 117.9,278.4 118.6,277.8 119.2,277.3 119.8,277.0 120.5,276.6 121.1,276.3 121.8,276.1 122.4,275.9 123.0,275.8 123.7,275.8 124.3,275.8 124.9,276.1 125.6,276.3 126.2,276.7 126.8,277.2 127.5,277.7 128.1,278.3 128.8,279.0 129.4,279.7 130.0,280.6 130.7,281.4 131.3,282.4 131.9,283.4 132.6,284.4 133.2,285.5 133.9,286.6 134.5,287.6 135.1,288.8 135.8,289.9 136.4,291.1 137.1,292.3 137.7,293.5 138.3,294.7 139.0,295.9 139.6,297.0 140.2,298.1 140.9,299.2 141.5,300.3 142.2,301.3 142.8,302.3 143.4,303.2 144.1,304.1 144.7,305.0 145.3,305.8 146.0,306.7 146.6,307.3 147.2,308.1 147.9,308.7 148.5,309.4 149.2,309.9 149.8,310.4 150.4,310.9 151.1,311.4 151.7,311.9 152.3,312.3 153.0,312.7 153.6,313.0 154.3,313.3 154.9,313.5 155.5,313.8 156.2,314.0 156.8,314.2 157.4,314.4 158.1,314.6 158.7,314.8 159.4,315.0 160.0,315.1 160.6,315.2 161.3,315.3 161.9,315.3 162.6,315.4 163.2,315.4 163.8,315.5 164.5,315.6 165.1,315.6 165.7,315.7 166.4,315.7 167.0,315.8 167.7,315.8 168.3,315.8 168.9,315.8 169.6,315.8 170.2,315.9 170.8,315.9 171.5,315.8 172.1,315.8 172.8,315.8 173.4,315.9 174.0,315.9 174.7,315.9 175.3,315.9 175.9,315.9 176.6,315.9 177.2,315.9 177.8,315.9 178.5,315.9 179.1,315.9 179.8,315.9 180.4,315.9 181.0,315.9 181.7,315.9 182.3,315.9 182.9,315.9 183.6,315.9 184.2,315.9 184.9,315.9 185.5,315.9 186.1,315.9 186.8,315.9 187.4,315.9 188.1,315.9 188.7,315.9 189.3,316.0 190.0,316.0 190.6,316.0 191.2,316.0 191.9,315.9 192.5,315.9 193.1,315.9 193.8,315.9 194.4,315.9 195.1,315.9 195.7,315.9 196.3,315.9 197.0,315.9 197.6,315.9 198.2,315.9 198.9,315.9 199.5,315.9 200.2,315.9 200.8,315.9 201.4,315.9 202.1,315.9 202.7,315.9 203.4,315.8 204.0,315.9 204.6,315.9 205.3,315.9 205.9,315.9 206.5,315.9 207.2,315.9 207.8,315.9 208.4,315.9 209.1,315.9 209.7,315.9 210.4,315.9 211.0,315.9 211.6,315.9 212.3,315.9 212.9,315.9 213.6,315.9 214.2,315.9 214.8,315.9 215.5,315.9 216.1,315.9 216.7,315.9 217.4,315.9 218.0,315.9 218.7,315.9 219.3,315.9 219.9,315.9 220.6,315.9 221.2,315.9 221.8,315.9 222.5,315.9 223.1,315.9 223.8,315.9 224.4,315.9 225.0,315.9 225.7,315.9 226.3,315.9 226.9,315.9 227.6,315.9 228.2,315.9 228.8,315.9 229.5,315.9 230.1,315.9 230.8,315.9 231.4,315.9 232.0,316.0 232.7,315.9 233.3,315.8 233.9,315.8 234.6,315.8 235.2,315.9 235.9,315.9 236.5,316.0 237.1,315.9 237.8,315.9 238.4,315.9 239.1,315.9 239.7,315.9 240.3,315.8 241.0,315.8 241.6,315.8 242.2,315.9" fill="none" stroke="#28368f" stroke-width="1.85" stroke-linejoin="round" stroke-linecap="round" clip-path="url(#cC)"/>
<polyline points="61.8,326.1 62.5,326.7 63.1,327.5 63.7,327.9 64.4,328.5 65.0,328.9 65.7,329.3 66.3,330.0 66.9,330.3 67.6,330.5 68.2,331.1 68.8,331.3 69.5,331.8 70.1,332.1 70.8,332.2 71.4,332.5 72.0,332.9 72.7,333.0 73.3,332.8 73.9,332.9 74.6,332.9 75.2,332.8 75.8,332.6 76.5,332.4 77.1,332.1 77.8,331.7 78.4,331.3 79.0,331.0 79.7,330.5 80.3,329.9 81.0,329.4 81.6,328.6 82.2,328.1 82.9,327.4 83.5,326.6 84.1,325.8 84.8,325.3 85.4,324.5 86.0,323.7 86.7,322.9 87.3,322.0 88.0,321.1 88.6,320.2 89.2,319.6 89.9,318.8 90.5,318.0 91.2,317.0 91.8,316.1 92.4,315.3 93.1,314.5 93.7,313.6 94.3,312.8 95.0,311.9 95.6,311.1 96.2,310.1 96.9,309.2 97.5,308.3 98.2,307.4 98.8,306.5 99.4,305.6 100.1,304.6 100.7,303.6 101.3,302.7 102.0,301.7 102.6,300.7 103.3,299.7 103.9,298.7 104.5,297.7 105.2,296.7 105.8,295.6 106.5,294.6 107.1,293.5 107.7,292.5 108.4,291.5 109.0,290.5 109.6,289.4 110.3,288.4 110.9,287.4 111.5,286.4 112.2,285.4 112.8,284.5 113.5,283.6 114.1,282.7 114.7,281.9 115.4,281.1 116.0,280.3 116.7,279.6 117.3,278.9 117.9,278.4 118.6,277.9 119.2,277.4 119.8,277.0 120.5,276.6 121.1,276.3 121.8,276.0 122.4,275.9 123.0,275.9 123.7,275.8 124.3,275.9 124.9,276.0 125.6,276.3 126.2,276.7 126.8,277.1 127.5,277.7 128.1,278.3 128.8,279.0 129.4,279.7 130.0,280.5 130.7,281.4 131.3,282.3 131.9,283.4 132.6,284.3 133.2,285.4 133.9,286.5 134.5,287.7 135.1,288.8 135.8,290.0 136.4,291.2 137.1,292.4 137.7,293.6 138.3,294.8 139.0,295.9 139.6,297.1 140.2,298.2 140.9,299.2 141.5,300.3 142.2,301.3 142.8,302.2 143.4,303.2 144.1,304.1 144.7,305.0 145.3,305.8 146.0,306.5 146.6,307.3 147.2,308.0 147.9,308.7 148.5,309.3 149.2,309.9 149.8,310.5 150.4,310.9 151.1,311.5 151.7,311.9 152.3,312.2 153.0,312.6 153.6,313.0 154.3,313.2 154.9,313.5 155.5,313.8 156.2,314.1 156.8,314.3 157.4,314.5 158.1,314.7 158.7,314.8 159.4,315.0 160.0,315.0 160.6,315.2 161.3,315.3 161.9,315.3 162.6,315.4 163.2,315.5 163.8,315.5 164.5,315.5 165.1,315.5 165.7,315.7 166.4,315.7 167.0,315.8 167.7,315.8 168.3,315.8 168.9,315.8 169.6,315.8 170.2,315.8 170.8,315.8 171.5,315.9 172.1,315.8 172.8,315.9 173.4,315.9 174.0,315.9 174.7,315.9 175.3,315.9 175.9,315.9 176.6,315.9 177.2,315.9 177.8,315.9 178.5,315.9 179.1,315.9 179.8,315.9 180.4,315.9 181.0,315.9 181.7,316.0 182.3,315.9 182.9,315.9 183.6,315.8 184.2,315.9 184.9,315.8 185.5,315.8 186.1,315.8 186.8,315.9 187.4,315.9 188.1,315.9 188.7,315.9 189.3,315.9 190.0,315.9 190.6,315.9 191.2,315.8 191.9,315.8 192.5,315.8 193.1,315.8 193.8,315.8 194.4,315.8 195.1,315.8 195.7,315.9 196.3,316.0 197.0,315.9 197.6,315.9 198.2,315.9 198.9,315.8 199.5,315.8 200.2,315.9 200.8,315.9 201.4,315.9 202.1,315.9 202.7,315.9 203.4,315.9 204.0,315.9 204.6,315.9 205.3,315.9 205.9,316.0 206.5,316.0 207.2,316.0 207.8,315.9 208.4,316.0 209.1,316.0 209.7,315.9 210.4,315.9 211.0,315.9 211.6,315.9 212.3,315.8 212.9,315.9 213.6,315.9 214.2,315.9 214.8,315.9 215.5,315.9 216.1,315.9 216.7,315.9 217.4,315.9 218.0,315.9 218.7,316.0 219.3,316.0 219.9,315.9 220.6,316.0 221.2,316.0 221.8,316.0 222.5,316.0 223.1,315.9 223.8,315.9 224.4,316.0 225.0,315.9 225.7,316.0 226.3,315.9 226.9,315.9 227.6,315.9 228.2,315.9 228.8,315.9 229.5,315.9 230.1,316.0 230.8,315.9 231.4,315.9 232.0,315.9 232.7,315.8 233.3,315.9 233.9,315.9 234.6,315.9 235.2,315.9 235.9,315.9 236.5,315.9 237.1,315.9 237.8,315.9 238.4,315.9 239.1,315.9 239.7,315.9 240.3,316.0 241.0,315.9 241.6,316.0 242.2,315.9" fill="none" stroke="#d61d30" stroke-width="1.85" stroke-linejoin="round" stroke-linecap="round" clip-path="url(#cC)"/>
<polyline points="61.8,303.2 62.5,302.7 63.1,302.1 63.7,301.5 64.4,300.8 65.0,300.1 65.7,299.2 66.3,298.7 66.9,298.4 67.6,297.7 68.2,297.0 68.8,296.6 69.5,296.0 70.1,295.6 70.8,295.2 71.4,294.8 72.0,294.6 72.7,294.3 73.3,293.8 73.9,293.5 74.6,293.4 75.2,293.4 75.8,293.4 76.5,293.7 77.1,293.8 77.8,294.0 78.4,294.4 79.0,294.7 79.7,295.3 80.3,295.9 81.0,296.6 81.6,297.3 82.2,298.1 82.9,299.0 83.5,300.0 84.1,301.0 84.8,302.1 85.4,303.3 86.0,304.3 86.7,305.6 87.3,306.7 88.0,307.8 88.6,309.1 89.2,310.5 89.9,311.8 90.5,313.0 91.2,314.2 91.8,315.5 92.4,316.8 93.1,318.2 93.7,319.4 94.3,320.6 95.0,321.8 95.6,323.1 96.2,324.4 96.9,325.7 97.5,327.0 98.2,328.3 98.8,329.6 99.4,331.0 100.1,332.4 100.7,333.8 101.3,335.2 102.0,336.6 102.6,338.1 103.3,339.4 103.9,340.9 104.5,342.4 105.2,343.9 105.8,345.3 106.5,346.8 107.1,348.4 107.7,349.9 108.4,351.3 109.0,352.8 109.6,354.3 110.3,355.8 110.9,357.3 111.5,358.7 112.2,360.2 112.8,361.4 113.5,362.8 114.1,364.0 114.7,365.2 115.4,366.4 116.0,367.4 116.7,368.4 117.3,369.4 117.9,370.2 118.6,371.0 119.2,371.7 119.8,372.3 120.5,372.8 121.1,373.2 121.8,373.6 122.4,373.8 123.0,373.9 123.7,373.9 124.3,373.7 124.9,373.5 125.6,373.1 126.2,372.6 126.8,372.0 127.5,371.3 128.1,370.4 128.8,369.4 129.4,368.2 130.0,367.0 130.7,365.8 131.3,364.4 131.9,362.9 132.6,361.5 133.2,359.9 133.9,358.4 134.5,356.8 135.1,355.1 135.8,353.4 136.4,351.7 137.1,350.0 137.7,348.3 138.3,346.5 139.0,344.9 139.6,343.3 140.2,341.6 140.9,340.0 141.5,338.5 142.2,337.1 142.8,335.6 143.4,334.3 144.1,333.0 144.7,331.7 145.3,330.5 146.0,329.4 146.6,328.3 147.2,327.2 147.9,326.4 148.5,325.4 149.2,324.5 149.8,323.8 150.4,323.0 151.1,322.4 151.7,321.7 152.3,321.2 153.0,320.7 153.6,320.2 154.3,319.7 154.9,319.3 155.5,318.9 156.2,318.6 156.8,318.2 157.4,317.9 158.1,317.7 158.7,317.5 159.4,317.3 160.0,317.1 160.6,317.0 161.3,316.8 161.9,316.7 162.6,316.5 163.2,316.5 163.8,316.4 164.5,316.3 165.1,316.2 165.7,316.2 166.4,316.1 167.0,316.1 167.7,316.1 168.3,316.1 168.9,316.1 169.6,316.0 170.2,316.0 170.8,316.0 171.5,316.0 172.1,316.0 172.8,316.0 173.4,316.0 174.0,316.0 174.7,315.9 175.3,315.9 175.9,315.9 176.6,315.9 177.2,316.0 177.8,315.9 178.5,315.9 179.1,315.9 179.8,315.9 180.4,315.9 181.0,315.9 181.7,315.9 182.3,315.9 182.9,315.9 183.6,315.8 184.2,315.8 184.9,315.8 185.5,315.9 186.1,315.9 186.8,315.9 187.4,315.9 188.1,315.9 188.7,315.9 189.3,315.9 190.0,315.9 190.6,315.9 191.2,315.9 191.9,315.9 192.5,315.9 193.1,315.9 193.8,315.9 194.4,315.9 195.1,315.9 195.7,315.9 196.3,315.9 197.0,315.9 197.6,316.0 198.2,315.9 198.9,315.9 199.5,315.9 200.2,315.9 200.8,315.9 201.4,315.9 202.1,315.9 202.7,315.9 203.4,315.9 204.0,315.9 204.6,315.8 205.3,315.9 205.9,315.9 206.5,315.9 207.2,315.9 207.8,315.9 208.4,315.9 209.1,315.9 209.7,315.9 210.4,316.0 211.0,315.9 211.6,315.9 212.3,315.9 212.9,315.9 213.6,315.9 214.2,315.9 214.8,315.9 215.5,315.9 216.1,315.9 216.7,315.9 217.4,315.8 218.0,315.9 218.7,315.9 219.3,315.9 219.9,315.9 220.6,315.9 221.2,315.9 221.8,315.9 222.5,315.9 223.1,315.8 223.8,315.9 224.4,315.9 225.0,315.9 225.7,315.9 226.3,315.9 226.9,315.9 227.6,315.9 228.2,315.9 228.8,315.9 229.5,315.9 230.1,315.9 230.8,315.9 231.4,315.9 232.0,315.9 232.7,315.9 233.3,316.0 233.9,315.9 234.6,315.9 235.2,315.9 235.9,315.9 236.5,315.9 237.1,315.9 237.8,315.8 238.4,315.9 239.1,315.9 239.7,315.9 240.3,315.9 241.0,315.9 241.6,315.9 242.2,315.9" fill="none" stroke="#161616" stroke-width="1.85" stroke-linejoin="round" stroke-linecap="round" clip-path="url(#cC)"/>
<polyline points="61.8,304.2 62.5,303.9 63.1,303.4 63.7,302.7 64.4,302.2 65.0,301.9 65.7,301.1 66.3,300.7 66.9,300.4 67.6,300.0 68.2,299.8 68.8,299.2 69.5,298.7 70.1,298.3 70.8,298.3 71.4,298.3 72.0,298.3 72.7,298.1 73.3,297.9 73.9,297.8 74.6,297.8 75.2,297.5 75.8,297.5 76.5,297.4 77.1,297.4 77.8,297.7 78.4,298.0 79.0,298.3 79.7,298.8 80.3,299.3 81.0,300.0 81.6,300.6 82.2,301.3 82.9,302.0 83.5,302.8 84.1,303.5 84.8,304.5 85.4,305.4 86.0,306.3 86.7,307.3 87.3,308.4 88.0,309.4 88.6,310.4 89.2,311.4 89.9,312.5 90.5,313.6 91.2,314.5 91.8,315.6 92.4,316.7 93.1,317.7 93.7,318.7 94.3,319.7 95.0,320.8 95.6,321.8 96.2,322.9 96.9,324.0 97.5,325.0 98.2,326.2 98.8,327.3 99.4,328.4 100.1,329.6 100.7,330.7 101.3,331.8 102.0,332.9 102.6,334.1 103.3,335.3 103.9,336.5 104.5,337.7 105.2,338.9 105.8,340.2 106.5,341.4 107.1,342.7 107.7,343.8 108.4,345.1 109.0,346.4 109.6,347.6 110.3,348.8 110.9,350.0 111.5,351.1 112.2,352.2 112.8,353.4 113.5,354.4 114.1,355.4 114.7,356.4 115.4,357.4 116.0,358.3 116.7,359.2 117.3,359.9 117.9,360.7 118.6,361.3 119.2,361.8 119.8,362.4 120.5,362.8 121.1,363.1 121.8,363.4 122.4,363.5 123.0,363.6 123.7,363.6 124.3,363.5 124.9,363.3 125.6,363.0 126.2,362.6 126.8,362.0 127.5,361.4 128.1,360.7 128.8,359.8 129.4,359.0 130.0,358.0 130.7,357.0 131.3,355.8 131.9,354.7 132.6,353.4 133.2,352.1 133.9,350.8 134.5,349.5 135.1,348.1 135.8,346.7 136.4,345.3 137.1,343.9 137.7,342.5 138.3,341.1 139.0,339.8 139.6,338.5 140.2,337.1 140.9,335.8 141.5,334.5 142.2,333.3 142.8,332.1 143.4,331.1 144.1,330.0 144.7,328.9 145.3,327.9 146.0,327.0 146.6,326.1 147.2,325.3 147.9,324.5 148.5,323.7 149.2,323.0 149.8,322.4 150.4,321.8 151.1,321.2 151.7,320.7 152.3,320.2 153.0,319.8 153.6,319.4 154.3,319.1 154.9,318.7 155.5,318.4 156.2,318.2 156.8,317.9 157.4,317.6 158.1,317.4 158.7,317.2 159.4,317.0 160.0,316.9 160.6,316.8 161.3,316.7 161.9,316.6 162.6,316.5 163.2,316.5 163.8,316.4 164.5,316.4 165.1,316.4 165.7,316.3 166.4,316.1 167.0,316.1 167.7,316.1 168.3,316.1 168.9,316.0 169.6,316.0 170.2,316.1 170.8,316.0 171.5,316.0 172.1,316.0 172.8,316.0 173.4,316.0 174.0,315.9 174.7,315.9 175.3,315.9 175.9,315.9 176.6,315.9 177.2,315.9 177.8,315.9 178.5,315.9 179.1,315.9 179.8,315.9 180.4,315.8 181.0,315.9 181.7,315.8 182.3,315.9 182.9,315.9 183.6,315.9 184.2,315.9 184.9,316.0 185.5,315.9 186.1,315.9 186.8,315.9 187.4,315.9 188.1,315.9 188.7,315.9 189.3,315.9 190.0,315.9 190.6,315.9 191.2,315.9 191.9,315.9 192.5,315.9 193.1,315.9 193.8,315.9 194.4,315.9 195.1,315.8 195.7,315.9 196.3,315.9 197.0,315.9 197.6,315.8 198.2,315.9 198.9,315.9 199.5,315.9 200.2,316.0 200.8,316.0 201.4,315.9 202.1,316.0 202.7,315.9 203.4,315.9 204.0,315.8 204.6,315.9 205.3,315.9 205.9,315.9 206.5,315.9 207.2,315.9 207.8,315.9 208.4,315.9 209.1,315.9 209.7,315.9 210.4,316.0 211.0,315.9 211.6,315.9 212.3,315.9 212.9,315.9 213.6,315.9 214.2,315.9 214.8,315.9 215.5,315.9 216.1,315.9 216.7,315.9 217.4,315.9 218.0,315.9 218.7,316.0 219.3,315.9 219.9,315.9 220.6,315.9 221.2,316.0 221.8,316.0 222.5,316.0 223.1,315.9 223.8,316.0 224.4,315.9 225.0,315.9 225.7,315.9 226.3,315.9 226.9,315.9 227.6,315.9 228.2,316.0 228.8,315.9 229.5,315.9 230.1,316.0 230.8,316.0 231.4,315.9 232.0,315.9 232.7,315.9 233.3,315.9 233.9,315.9 234.6,315.9 235.2,315.9 235.9,315.9 236.5,315.9 237.1,315.9 237.8,315.9 238.4,315.9 239.1,315.9 239.7,315.9 240.3,315.9 241.0,315.9 241.6,315.9 242.2,315.9" fill="none" stroke="#2fa55a" stroke-width="1.85" stroke-linejoin="round" stroke-linecap="round" clip-path="url(#cC)"/>
<polyline points="160.0,315.0 160.6,315.1 161.3,315.2 161.9,315.4 162.6,315.5 163.2,315.5 163.8,315.6 164.5,315.7 165.1,315.7 165.7,315.7 166.4,315.7 167.0,315.7 167.7,315.7 168.3,315.8 168.9,315.8 169.6,315.8 170.2,315.8 170.8,315.9 171.5,315.9 172.1,315.9 172.8,315.8 173.4,315.9 174.0,315.9 174.7,315.9 175.3,315.9 175.9,315.9 176.6,315.9 177.2,315.9 177.8,315.9 178.5,315.9 179.1,315.9 179.8,315.9 180.4,315.9 181.0,315.9 181.7,315.9 182.3,315.9 182.9,315.9 183.6,315.9 184.2,315.9 184.9,315.9 185.5,316.0 186.1,315.9 186.8,315.9 187.4,316.0 188.1,315.9 188.7,315.9 189.3,315.9 190.0,315.8 190.6,315.8 191.2,315.9 191.9,315.9 192.5,315.8 193.1,315.8 193.8,315.8 194.4,315.9 195.1,315.8 195.7,315.9 196.3,315.9 197.0,315.9 197.6,315.9 198.2,315.9 198.9,315.9 199.5,315.9 200.2,315.8 200.8,315.8 201.4,315.8 202.1,315.9 202.7,315.9 203.4,315.9 204.0,315.9 204.6,315.9 205.3,315.9 205.9,315.9 206.5,315.9 207.2,315.9 207.8,315.9 208.4,315.9 209.1,316.0 209.7,315.9 210.4,315.9 211.0,315.9 211.6,315.9 212.3,315.9 212.9,315.9 213.6,315.9 214.2,315.9 214.8,315.9 215.5,315.9 216.1,315.9 216.7,315.9 217.4,315.9 218.0,315.9 218.7,316.0 219.3,316.0 219.9,316.0 220.6,316.0 221.2,316.0 221.8,315.9 222.5,316.0 223.1,316.0 223.8,316.0 224.4,316.0 225.0,315.9 225.7,315.9 226.3,315.9 226.9,315.9 227.6,315.9 228.2,315.9 228.8,315.9 229.5,315.9 230.1,315.8 230.8,315.9 231.4,315.9 232.0,315.8 232.7,315.9 233.3,315.9 233.9,315.8 234.6,315.9 235.2,315.9 235.9,315.8 236.5,315.8 237.1,315.9 237.8,315.9 238.4,315.9 239.1,315.9 239.7,315.9 240.3,315.9 241.0,315.9 241.6,315.9 242.2,315.9" fill="none" stroke="#d61d30" stroke-width="1.7" stroke-linejoin="round" stroke-linecap="round" clip-path="url(#cC)"/>
<text x="92.0" y="403.2" font-size="14.2" text-anchor="middle" fill="#161616" stroke="#161616" stroke-width="0.3" >400</text>
<text x="134.5" y="403.2" font-size="14.2" text-anchor="middle" fill="#161616" stroke="#161616" stroke-width="0.3" >500</text>
<text x="177.0" y="403.2" font-size="14.2" text-anchor="middle" fill="#161616" stroke="#161616" stroke-width="0.3" >600</text>
<text x="219.5" y="403.2" font-size="14.2" text-anchor="middle" fill="#161616" stroke="#161616" stroke-width="0.3" >700</text>
<text x="54.5" y="259.7" font-size="14.2" text-anchor="end" fill="#161616" stroke="#161616" stroke-width="0.3" >0.10</text>
<text x="54.5" y="290.3" font-size="14.2" text-anchor="end" fill="#161616" stroke="#161616" stroke-width="0.3" >0.05</text>
<text x="54.5" y="320.9" font-size="14.2" text-anchor="end" fill="#161616" stroke="#161616" stroke-width="0.3" >0.00</text>
<text x="54.5" y="351.5" font-size="14.2" text-anchor="end" fill="#161616" stroke="#161616" stroke-width="0.3" >-0.05</text>
<text x="54.5" y="382.1" font-size="14.2" text-anchor="end" fill="#161616" stroke="#161616" stroke-width="0.3" >-0.10</text>
<text x="81.0" y="272.0" font-size="18.9" text-anchor="middle" fill="#161616" stroke="#161616" stroke-width="0.3" >(C)</text>
<text x="208.5" y="276.5" font-size="18.8" text-anchor="middle" fill="#161616" stroke="#161616" stroke-width="0.3" >WT</text>
<text x="151.6" y="281.8" font-size="15.6" text-anchor="middle" fill="#d61d30" stroke="#d61d30" stroke-width="0.3" >2</text>
<line x1="134.7" y1="283.2" x2="146.9" y2="278.8" stroke="#d61d30" stroke-width="1.8"/>
<text x="161.2" y="293.9" font-size="15.6" text-anchor="middle" fill="#28368f" stroke="#28368f" stroke-width="0.3" >4</text>
<line x1="142.0" y1="294.0" x2="154.2" y2="289.6" stroke="#28368f" stroke-width="1.8"/>
<text x="155.7" y="360.4" font-size="15.6" text-anchor="middle" fill="#2fa55a" stroke="#2fa55a" stroke-width="0.3" >3</text>
<line x1="135.2" y1="349.2" x2="148.5" y2="353.8" stroke="#2fa55a" stroke-width="1.8"/>
<text x="151.3" y="376.2" font-size="15.6" text-anchor="middle" fill="#161616" stroke="#161616" stroke-width="0.3" >1</text>
<line x1="133.2" y1="364.1" x2="146.4" y2="368.5" stroke="#161616" stroke-width="1.8"/>
<rect x="280.3" y="247.3" width="183.5" height="137.2" fill="none" stroke="#161616" stroke-width="1.8"/>
<line x1="312.8" x2="312.8" y1="384.5" y2="374.5" stroke="#161616" stroke-width="1.7"/>
<line x1="312.8" x2="312.8" y1="247.3" y2="257.3" stroke="#161616" stroke-width="1.7"/>
<line x1="355.3" x2="355.3" y1="384.5" y2="374.5" stroke="#161616" stroke-width="1.7"/>
<line x1="355.3" x2="355.3" y1="247.3" y2="257.3" stroke="#161616" stroke-width="1.7"/>
<line x1="397.8" x2="397.8" y1="384.5" y2="374.5" stroke="#161616" stroke-width="1.7"/>
<line x1="397.8" x2="397.8" y1="247.3" y2="257.3" stroke="#161616" stroke-width="1.7"/>
<line x1="440.3" x2="440.3" y1="384.5" y2="374.5" stroke="#161616" stroke-width="1.7"/>
<line x1="440.3" x2="440.3" y1="247.3" y2="257.3" stroke="#161616" stroke-width="1.7"/>
<line x1="280.3" x2="291.3" y1="262.9" y2="262.9" stroke="#161616" stroke-width="1.7"/>
<line x1="463.8" x2="452.8" y1="262.9" y2="262.9" stroke="#161616" stroke-width="1.7"/>
<line x1="280.3" x2="291.3" y1="289.4" y2="289.4" stroke="#161616" stroke-width="1.7"/>
<line x1="463.8" x2="452.8" y1="289.4" y2="289.4" stroke="#161616" stroke-width="1.7"/>
<line x1="280.3" x2="291.3" y1="342.4" y2="342.4" stroke="#161616" stroke-width="1.7"/>
<line x1="463.8" x2="452.8" y1="342.4" y2="342.4" stroke="#161616" stroke-width="1.7"/>
<line x1="280.3" x2="291.3" y1="368.9" y2="368.9" stroke="#161616" stroke-width="1.7"/>
<line x1="463.8" x2="452.8" y1="368.9" y2="368.9" stroke="#161616" stroke-width="1.7"/>
<line x1="280.3" x2="463.8" y1="315.9" y2="315.9" stroke="#161616" stroke-width="1.5"/>
<polyline points="282.6,342.6 283.3,341.6 283.9,342.5 284.5,343.5 285.2,345.0 285.8,344.9 286.4,345.8 287.1,345.0 287.7,343.7 288.4,344.9 289.0,345.9 289.6,346.0 290.3,346.2 290.9,345.5 291.6,347.3 292.2,346.0 292.8,345.5 293.5,345.6 294.1,346.3 294.7,344.2 295.4,342.5 296.0,341.9 296.7,340.9 297.3,339.8 297.9,339.8 298.6,338.8 299.2,338.7 299.8,337.3 300.5,337.7 301.1,335.7 301.8,333.8 302.4,332.4 303.0,332.1 303.7,331.2 304.3,329.8 304.9,329.2 305.6,327.7 306.2,326.6 306.9,324.6 307.5,324.0 308.1,323.2 308.8,321.6 309.4,320.0 310.0,319.2 310.7,318.9 311.3,318.1 311.9,317.4 312.6,315.6 313.2,314.6 313.9,313.1 314.5,312.4 315.1,310.9 315.8,309.2 316.4,308.5 317.1,306.5 317.7,305.4 318.3,304.4 319.0,303.3 319.6,302.1 320.2,301.0 320.9,299.9 321.5,298.6 322.2,297.8 322.8,295.9 323.4,294.7 324.1,293.4 324.7,291.9 325.3,291.0 326.0,290.1 326.6,289.2 327.2,288.1 327.9,286.8 328.5,286.2 329.2,284.8 329.8,284.1 330.4,283.5 331.1,282.3 331.7,281.7 332.4,280.8 333.0,280.4 333.6,279.5 334.3,279.0 334.9,278.2 335.5,278.1 336.2,277.8 336.8,277.5 337.4,277.0 338.1,277.0 338.7,276.8 339.4,276.6 340.0,276.7 340.6,276.7 341.3,276.8 341.9,277.5 342.6,277.6 343.2,278.4 343.8,279.2 344.5,279.4 345.1,280.5 345.7,281.4 346.4,282.3 347.0,283.5 347.7,284.6 348.3,285.8 348.9,287.0 349.6,288.5 350.2,289.4 350.8,290.7 351.5,291.8 352.1,293.2 352.8,294.6 353.4,295.6 354.0,297.1 354.7,298.1 355.3,299.5 355.9,300.8 356.6,301.8 357.2,302.3 357.9,303.3 358.5,304.5 359.1,305.4 359.8,306.1 360.4,307.2 361.0,308.5 361.7,309.3 362.3,309.8 362.9,310.5 363.6,311.0 364.2,311.1 364.9,311.7 365.5,312.3 366.1,312.7 366.8,312.8 367.4,312.9 368.1,313.2 368.7,313.7 369.3,314.2 370.0,314.6 370.6,314.9 371.2,314.7 371.9,314.8 372.5,314.9 373.1,315.3 373.8,315.4 374.4,315.6 375.1,315.3 375.7,315.4 376.3,315.5 377.0,315.6 377.6,315.7 378.2,315.7 378.9,315.8 379.5,315.8 380.2,315.8 380.8,315.6 381.4,315.6 382.1,315.6 382.7,315.8 383.4,315.8 384.0,316.3 384.6,316.3 385.3,316.3 385.9,316.6 386.5,316.1 387.2,315.8 387.8,315.8 388.5,315.4 389.1,315.9 389.7,315.9 390.4,315.9 391.0,316.0 391.6,315.6 392.3,315.5 392.9,315.6 393.6,315.9 394.2,315.9 394.8,315.9 395.5,315.8 396.1,316.1 396.7,316.3 397.4,315.9 398.0,315.9 398.6,315.9 399.3,315.9 399.9,316.5 400.6,316.0 401.2,316.3 401.8,316.4 402.5,316.1 403.1,315.7 403.8,315.5 404.4,315.8 405.0,316.0 405.7,315.8 406.3,315.8 406.9,316.2 407.6,315.8 408.2,316.3 408.9,316.1 409.5,315.9 410.1,315.8 410.8,315.8 411.4,315.7 412.0,315.7 412.7,316.0 413.3,316.1 413.9,315.7 414.6,316.2 415.2,315.9 415.9,316.1 416.5,316.4 417.1,316.4 417.8,316.1 418.4,316.6 419.1,316.1 419.7,315.8 420.3,315.9 421.0,316.0 421.6,316.0 422.2,315.8 422.9,316.0 423.5,316.1 424.2,315.9 424.8,316.3 425.4,316.1 426.1,316.0 426.7,315.8 427.3,316.1 428.0,316.0 428.6,315.9 429.2,315.9 429.9,316.1 430.5,315.8 431.2,315.9 431.8,315.9 432.4,315.9 433.1,315.7 433.7,315.8 434.4,316.0 435.0,315.8 435.6,315.8 436.3,315.9 436.9,315.8 437.5,316.1 438.2,316.0 438.8,315.9 439.5,316.2 440.1,316.2 440.7,316.1 441.4,315.9 442.0,315.9 442.6,315.9 443.3,315.8 443.9,316.1 444.6,316.2 445.2,316.1 445.8,315.9 446.5,315.6 447.1,315.7 447.7,315.8 448.4,315.9 449.0,315.9 449.6,315.6 450.3,315.7 450.9,315.9 451.6,315.6 452.2,315.7 452.8,315.8 453.5,316.0 454.1,315.8 454.8,315.9 455.4,316.3 456.0,316.6 456.7,316.2 457.3,316.2 457.9,316.0 458.6,315.8 459.2,315.5 459.9,315.4 460.5,315.8 461.1,315.9 461.8,316.1 462.4,315.8 463.0,316.2 463.7,315.9 464.3,316.3" fill="none" stroke="#28368f" stroke-width="1.85" stroke-linejoin="round" stroke-linecap="round" clip-path="url(#cD)"/>
<polyline points="282.6,340.1 283.3,340.7 283.9,344.1 284.5,345.1 285.2,346.7 285.8,349.0 286.4,348.4 287.1,349.9 287.7,349.4 288.4,349.9 289.0,349.0 289.6,350.8 290.3,350.7 290.9,351.3 291.6,352.2 292.2,351.3 292.8,351.5 293.5,352.0 294.1,351.4 294.7,352.2 295.4,350.1 296.0,347.9 296.7,349.2 297.3,348.0 297.9,347.0 298.6,346.2 299.2,344.4 299.8,342.3 300.5,341.1 301.1,340.2 301.8,338.0 302.4,337.2 303.0,336.2 303.7,335.0 304.3,332.9 304.9,331.4 305.6,329.9 306.2,328.8 306.9,327.0 307.5,325.6 308.1,323.3 308.8,322.2 309.4,321.5 310.0,319.2 310.7,318.0 311.3,316.9 311.9,315.5 312.6,314.3 313.2,314.3 313.9,312.7 314.5,310.6 315.1,309.0 315.8,308.5 316.4,307.4 317.1,306.0 317.7,304.4 318.3,303.4 319.0,302.3 319.6,301.4 320.2,300.3 320.9,299.3 321.5,298.1 322.2,297.1 322.8,296.0 323.4,295.0 324.1,293.5 324.7,292.2 325.3,291.2 326.0,290.2 326.6,289.0 327.2,288.0 327.9,287.1 328.5,286.7 329.2,285.9 329.8,284.5 330.4,283.5 331.1,282.7 331.7,282.2 332.4,281.1 333.0,280.5 333.6,279.7 334.3,279.0 334.9,278.5 335.5,278.2 336.2,277.6 336.8,277.5 337.4,277.2 338.1,276.9 338.7,276.4 339.4,276.5 340.0,276.4 340.6,276.5 341.3,277.3 341.9,277.6 342.6,278.0 343.2,278.6 343.8,278.9 344.5,279.8 345.1,280.4 345.7,281.2 346.4,282.3 347.0,283.3 347.7,284.2 348.3,285.3 348.9,286.6 349.6,288.3 350.2,289.7 350.8,290.9 351.5,292.0 352.1,293.2 352.8,294.5 353.4,296.0 354.0,297.0 354.7,298.0 355.3,299.3 355.9,300.5 356.6,301.5 357.2,302.7 357.9,303.6 358.5,304.5 359.1,305.6 359.8,306.5 360.4,307.5 361.0,308.5 361.7,309.5 362.3,309.8 362.9,309.8 363.6,310.6 364.2,310.9 364.9,311.3 365.5,312.0 366.1,312.3 366.8,312.9 367.4,313.7 368.1,313.7 368.7,314.0 369.3,314.3 370.0,314.3 370.6,314.3 371.2,314.6 371.9,314.8 372.5,314.9 373.1,315.2 373.8,315.1 374.4,315.4 375.1,315.4 375.7,315.3 376.3,315.2 377.0,315.8 377.6,315.9 378.2,315.9 378.9,316.0 379.5,316.0 380.2,315.9 380.8,315.9 381.4,315.4 382.1,315.5 382.7,315.6 383.4,315.9 384.0,315.9 384.6,315.9 385.3,315.8 385.9,316.1 386.5,316.0 387.2,316.2 387.8,316.4 388.5,316.1 389.1,316.0 389.7,315.9 390.4,315.5 391.0,315.4 391.6,315.6 392.3,315.6 392.9,315.8 393.6,315.9 394.2,316.2 394.8,315.9 395.5,315.9 396.1,315.7 396.7,315.4 397.4,315.8 398.0,315.8 398.6,315.9 399.3,315.6 399.9,315.8 400.6,315.5 401.2,315.1 401.8,315.0 402.5,314.9 403.1,315.2 403.8,315.5 404.4,315.9 405.0,315.9 405.7,316.2 406.3,316.3 406.9,315.9 407.6,315.7 408.2,316.0 408.9,315.5 409.5,315.9 410.1,316.1 410.8,315.7 411.4,315.4 412.0,315.7 412.7,315.6 413.3,316.1 413.9,315.8 414.6,316.0 415.2,315.7 415.9,315.9 416.5,316.0 417.1,315.8 417.8,315.7 418.4,315.9 419.1,316.2 419.7,316.0 420.3,315.7 421.0,315.6 421.6,316.0 422.2,315.9 422.9,315.9 423.5,315.5 424.2,315.7 424.8,315.8 425.4,315.5 426.1,315.9 426.7,316.1 427.3,316.2 428.0,315.8 428.6,316.0 429.2,315.8 429.9,316.0 430.5,315.7 431.2,315.6 431.8,315.9 432.4,315.7 433.1,315.7 433.7,315.8 434.4,316.0 435.0,315.6 435.6,315.7 436.3,315.8 436.9,315.8 437.5,315.9 438.2,316.1 438.8,315.8 439.5,316.2 440.1,315.9 440.7,316.3 441.4,316.4 442.0,316.0 442.6,316.2 443.3,316.1 443.9,316.0 444.6,315.6 445.2,315.4 445.8,315.4 446.5,315.5 447.1,315.4 447.7,315.4 448.4,315.9 449.0,315.8 449.6,316.0 450.3,315.4 450.9,315.3 451.6,315.7 452.2,315.4 452.8,315.8 453.5,315.7 454.1,316.0 454.8,316.1 455.4,315.9 456.0,316.2 456.7,316.0 457.3,315.7 457.9,315.4 458.6,315.4 459.2,315.5 459.9,315.5 460.5,315.8 461.1,316.0 461.8,315.6 462.4,316.0 463.0,316.1 463.7,315.8 464.3,315.9" fill="none" stroke="#d61d30" stroke-width="1.85" stroke-linejoin="round" stroke-linecap="round" clip-path="url(#cD)"/>
<polyline points="282.6,306.7 283.3,306.3 283.9,305.9 284.5,306.0 285.2,305.3 285.8,303.4 286.4,303.3 287.1,302.4 287.7,302.4 288.4,301.9 289.0,300.6 289.6,300.0 290.3,300.0 290.9,300.0 291.6,298.7 292.2,299.2 292.8,300.4 293.5,299.1 294.1,298.3 294.7,298.6 295.4,299.2 296.0,297.9 296.7,297.2 297.3,297.7 297.9,298.9 298.6,299.0 299.2,298.6 299.8,299.8 300.5,300.0 301.1,301.8 301.8,302.3 302.4,302.3 303.0,302.8 303.7,304.1 304.3,304.2 304.9,304.6 305.6,305.1 306.2,306.4 306.9,307.5 307.5,308.5 308.1,309.3 308.8,310.3 309.4,311.4 310.0,312.1 310.7,312.8 311.3,314.2 311.9,314.9 312.6,317.3 313.2,317.1 313.9,319.3 314.5,320.8 315.1,321.9 315.8,322.7 316.4,324.2 317.1,326.3 317.7,327.6 318.3,329.2 319.0,330.2 319.6,331.7 320.2,333.6 320.9,334.9 321.5,336.1 322.2,337.7 322.8,338.8 323.4,340.6 324.1,341.9 324.7,342.9 325.3,344.3 326.0,345.9 326.6,347.3 327.2,348.3 327.9,349.5 328.5,350.7 329.2,351.9 329.8,353.2 330.4,354.3 331.1,355.5 331.7,356.6 332.4,357.3 333.0,358.4 333.6,358.8 334.3,359.5 334.9,360.4 335.5,360.8 336.2,361.1 336.8,361.7 337.4,362.5 338.1,362.7 338.7,362.9 339.4,363.1 340.0,363.3 340.6,363.2 341.3,362.8 341.9,362.3 342.6,361.5 343.2,361.1 343.8,360.1 344.5,359.4 345.1,358.2 345.7,357.1 346.4,355.6 347.0,354.4 347.7,353.2 348.3,351.8 348.9,350.8 349.6,349.2 350.2,347.5 350.8,346.0 351.5,344.6 352.1,342.9 352.8,341.4 353.4,339.8 354.0,338.6 354.7,336.9 355.3,335.5 355.9,334.4 356.6,333.1 357.2,331.5 357.9,330.0 358.5,329.0 359.1,328.2 359.8,327.2 360.4,326.0 361.0,324.8 361.7,324.1 362.3,323.4 362.9,322.4 363.6,321.7 364.2,321.4 364.9,320.9 365.5,320.1 366.1,319.8 366.8,319.3 367.4,319.1 368.1,318.5 368.7,317.9 369.3,317.5 370.0,317.5 370.6,317.6 371.2,317.0 371.9,316.8 372.5,317.1 373.1,316.6 373.8,316.6 374.4,316.7 375.1,316.5 375.7,316.7 376.3,316.7 377.0,316.2 377.6,316.2 378.2,316.1 378.9,315.8 379.5,315.8 380.2,315.9 380.8,315.8 381.4,315.5 382.1,315.6 382.7,315.8 383.4,315.4 384.0,315.3 384.6,315.8 385.3,315.8 385.9,315.3 386.5,315.9 387.2,316.2 387.8,315.9 388.5,316.0 389.1,316.3 389.7,315.8 390.4,315.9 391.0,315.8 391.6,315.6 392.3,315.6 392.9,315.9 393.6,315.4 394.2,315.4 394.8,315.6 395.5,315.8 396.1,316.1 396.7,315.9 397.4,316.2 398.0,315.7 398.6,316.2 399.3,315.9 399.9,316.1 400.6,316.2 401.2,315.9 401.8,315.9 402.5,315.7 403.1,316.0 403.8,316.0 404.4,316.0 405.0,315.9 405.7,315.7 406.3,315.8 406.9,316.0 407.6,316.0 408.2,316.3 408.9,316.3 409.5,315.8 410.1,316.0 410.8,315.8 411.4,315.9 412.0,316.1 412.7,316.0 413.3,315.8 413.9,315.9 414.6,315.8 415.2,315.5 415.9,315.7 416.5,315.7 417.1,315.9 417.8,315.7 418.4,316.0 419.1,315.9 419.7,316.0 420.3,315.8 421.0,315.7 421.6,315.6 422.2,315.7 422.9,315.6 423.5,315.3 424.2,315.8 424.8,316.0 425.4,315.8 426.1,315.8 426.7,315.8 427.3,316.4 428.0,316.2 428.6,315.9 429.2,315.8 429.9,315.8 430.5,315.9 431.2,316.0 431.8,316.1 432.4,316.0 433.1,316.3 433.7,315.9 434.4,316.1 435.0,315.8 435.6,315.7 436.3,315.9 436.9,316.0 437.5,315.9 438.2,315.7 438.8,315.9 439.5,315.8 440.1,315.7 440.7,315.8 441.4,315.8 442.0,315.9 442.6,316.0 443.3,316.2 443.9,316.3 444.6,316.0 445.2,315.8 445.8,315.8 446.5,315.9 447.1,315.8 447.7,315.7 448.4,316.0 449.0,316.2 449.6,316.3 450.3,316.1 450.9,316.0 451.6,315.6 452.2,315.5 452.8,316.2 453.5,316.1 454.1,316.1 454.8,315.8 455.4,316.1 456.0,316.3 456.7,316.4 457.3,316.1 457.9,316.1 458.6,315.9 459.2,315.5 459.9,315.9 460.5,316.0 461.1,315.9 461.8,315.8 462.4,316.0 463.0,316.0 463.7,316.2 464.3,315.7" fill="none" stroke="#161616" stroke-width="1.85" stroke-linejoin="round" stroke-linecap="round" clip-path="url(#cD)"/>
<polyline points="282.6,305.2 283.3,303.4 283.9,302.6 284.5,302.9 285.2,302.6 285.8,302.4 286.4,302.8 287.1,303.1 287.7,303.4 288.4,302.8 289.0,302.5 289.6,301.3 290.3,301.5 290.9,301.5 291.6,300.1 292.2,301.3 292.8,302.5 293.5,300.1 294.1,301.9 294.7,302.6 295.4,300.9 296.0,301.7 296.7,302.6 297.3,302.6 297.9,302.9 298.6,303.6 299.2,304.6 299.8,304.9 300.5,305.4 301.1,305.5 301.8,305.9 302.4,305.5 303.0,305.6 303.7,306.5 304.3,306.1 304.9,306.0 305.6,308.1 306.2,309.3 306.9,308.8 307.5,309.6 308.1,310.6 308.8,311.7 309.4,312.5 310.0,312.8 310.7,313.6 311.3,314.8 311.9,316.1 312.6,317.2 313.2,317.5 313.9,318.9 314.5,319.9 315.1,320.9 315.8,321.9 316.4,323.6 317.1,323.7 317.7,324.8 318.3,325.8 319.0,327.4 319.6,329.0 320.2,330.0 320.9,331.2 321.5,332.6 322.2,333.3 322.8,334.8 323.4,336.3 324.1,336.9 324.7,338.1 325.3,339.6 326.0,340.5 326.6,341.9 327.2,343.1 327.9,344.2 328.5,345.2 329.2,345.8 329.8,347.1 330.4,348.3 331.1,349.4 331.7,350.1 332.4,351.1 333.0,351.7 333.6,352.0 334.3,352.3 334.9,353.1 335.5,353.7 336.2,354.4 336.8,354.8 337.4,354.9 338.1,355.6 338.7,355.8 339.4,355.9 340.0,356.0 340.6,355.8 341.3,355.3 341.9,355.0 342.6,353.9 343.2,353.2 343.8,353.0 344.5,352.3 345.1,351.7 345.7,350.7 346.4,349.6 347.0,348.4 347.7,347.4 348.3,346.0 348.9,344.9 349.6,343.7 350.2,342.4 350.8,341.2 351.5,339.9 352.1,338.5 352.8,337.2 353.4,335.9 354.0,334.6 354.7,333.6 355.3,332.5 355.9,331.1 356.6,329.8 357.2,329.0 357.9,327.7 358.5,327.0 359.1,325.8 359.8,324.9 360.4,324.2 361.0,323.4 361.7,323.0 362.3,322.4 362.9,321.8 363.6,321.0 364.2,320.4 364.9,320.0 365.5,319.6 366.1,319.4 366.8,319.0 367.4,318.8 368.1,318.1 368.7,317.7 369.3,317.7 370.0,317.6 370.6,317.0 371.2,316.9 371.9,317.0 372.5,317.0 373.1,316.9 373.8,316.7 374.4,316.8 375.1,316.5 375.7,316.5 376.3,316.0 377.0,315.9 377.6,316.3 378.2,316.4 378.9,316.2 379.5,316.5 380.2,316.6 380.8,316.0 381.4,316.1 382.1,316.2 382.7,316.1 383.4,315.9 384.0,315.9 384.6,315.7 385.3,315.9 385.9,315.7 386.5,315.5 387.2,315.7 387.8,315.8 388.5,315.9 389.1,316.0 389.7,316.2 390.4,316.0 391.0,316.2 391.6,316.2 392.3,316.3 392.9,316.1 393.6,316.2 394.2,315.9 394.8,316.3 395.5,316.4 396.1,316.2 396.7,316.2 397.4,316.3 398.0,315.7 398.6,315.8 399.3,316.2 399.9,316.1 400.6,315.6 401.2,315.5 401.8,315.7 402.5,315.8 403.1,315.4 403.8,315.6 404.4,315.7 405.0,316.0 405.7,316.1 406.3,315.9 406.9,316.4 407.6,316.1 408.2,316.1 408.9,316.1 409.5,316.0 410.1,315.9 410.8,315.6 411.4,316.0 412.0,315.8 412.7,315.9 413.3,315.9 413.9,315.9 414.6,315.9 415.2,315.7 415.9,315.9 416.5,315.8 417.1,315.9 417.8,316.3 418.4,316.4 419.1,315.9 419.7,316.0 420.3,315.8 421.0,315.8 421.6,315.9 422.2,315.3 422.9,315.3 423.5,315.7 424.2,315.8 424.8,315.8 425.4,316.3 426.1,316.4 426.7,315.9 427.3,315.6 428.0,315.4 428.6,315.8 429.2,315.7 429.9,315.7 430.5,315.8 431.2,315.9 431.8,315.8 432.4,316.2 433.1,316.7 433.7,316.5 434.4,315.9 435.0,316.2 435.6,316.2 436.3,316.0 436.9,316.2 437.5,316.0 438.2,316.1 438.8,316.1 439.5,316.3 440.1,316.1 440.7,315.9 441.4,315.6 442.0,315.8 442.6,316.1 443.3,316.0 443.9,315.8 444.6,316.1 445.2,315.9 445.8,315.4 446.5,315.4 447.1,315.9 447.7,316.0 448.4,316.3 449.0,316.4 449.6,315.7 450.3,315.8 450.9,316.0 451.6,315.9 452.2,316.1 452.8,315.6 453.5,315.6 454.1,315.7 454.8,315.5 455.4,315.5 456.0,315.5 456.7,316.0 457.3,316.1 457.9,315.6 458.6,315.8 459.2,316.0 459.9,316.1 460.5,315.9 461.1,316.0 461.8,316.0 462.4,315.7 463.0,316.0 463.7,315.7 464.3,315.7" fill="none" stroke="#2fa55a" stroke-width="1.85" stroke-linejoin="round" stroke-linecap="round" clip-path="url(#cD)"/>
<text x="312.8" y="403.2" font-size="14.2" text-anchor="middle" fill="#161616" stroke="#161616" stroke-width="0.3" >400</text>
<text x="355.3" y="403.2" font-size="14.2" text-anchor="middle" fill="#161616" stroke="#161616" stroke-width="0.3" >500</text>
<text x="397.8" y="403.2" font-size="14.2" text-anchor="middle" fill="#161616" stroke="#161616" stroke-width="0.3" >600</text>
<text x="440.3" y="403.2" font-size="14.2" text-anchor="middle" fill="#161616" stroke="#161616" stroke-width="0.3" >700</text>
<text x="278.1" y="267.9" font-size="14.2" text-anchor="end" fill="#161616" stroke="#161616" stroke-width="0.3" >0.04</text>
<text x="278.1" y="294.4" font-size="14.2" text-anchor="end" fill="#161616" stroke="#161616" stroke-width="0.3" >0.02</text>
<text x="278.1" y="320.9" font-size="14.2" text-anchor="end" fill="#161616" stroke="#161616" stroke-width="0.3" >0.00</text>
<text x="278.1" y="347.4" font-size="14.2" text-anchor="end" fill="#161616" stroke="#161616" stroke-width="0.3" >-<tspan dx="2.0">0.02</tspan></text>
<text x="278.1" y="373.9" font-size="14.2" text-anchor="end" fill="#161616" stroke="#161616" stroke-width="0.3" >-<tspan dx="2.0">0.04</tspan></text>
<text x="304.5" y="275.3" font-size="18.9" text-anchor="middle" fill="#161616" stroke="#161616" stroke-width="0.3" >(D)</text>
<text x="423.0" y="275.5" font-size="19.3" text-anchor="middle" fill="#161616" stroke="#161616" stroke-width="0.3" >I86S</text>
<text x="366.6" y="283.7" font-size="15.6" text-anchor="middle" fill="#d61d30" stroke="#d61d30" stroke-width="0.3" >2</text>
<line x1="350.5" y1="284.5" x2="361.5" y2="280.3" stroke="#d61d30" stroke-width="1.8"/>
<text x="375.8" y="296.1" font-size="15.6" text-anchor="middle" fill="#28368f" stroke="#28368f" stroke-width="0.3" >4</text>
<line x1="356.1" y1="296.7" x2="369.7" y2="291.5" stroke="#28368f" stroke-width="1.8"/>
<text x="369.5" y="355.4" font-size="15.6" text-anchor="middle" fill="#2fa55a" stroke="#2fa55a" stroke-width="0.3" >3</text>
<line x1="352.2" y1="345.2" x2="365" y2="349.9" stroke="#2fa55a" stroke-width="1.8"/>
<text x="364.0" y="370.0" font-size="15.6" text-anchor="middle" fill="#161616" stroke="#161616" stroke-width="0.3" >1</text>
<line x1="346.3" y1="357.8" x2="359.9" y2="362.5" stroke="#161616" stroke-width="1.8"/>
<rect x="501.8" y="247.3" width="182.7" height="137.2" fill="none" stroke="#161616" stroke-width="1.8"/>
<line x1="533.8" x2="533.8" y1="384.5" y2="374.5" stroke="#161616" stroke-width="1.7"/>
<line x1="533.8" x2="533.8" y1="247.3" y2="257.3" stroke="#161616" stroke-width="1.7"/>
<line x1="576.0" x2="576.0" y1="384.5" y2="374.5" stroke="#161616" stroke-width="1.7"/>
<line x1="576.0" x2="576.0" y1="247.3" y2="257.3" stroke="#161616" stroke-width="1.7"/>
<line x1="618.2" x2="618.2" y1="384.5" y2="374.5" stroke="#161616" stroke-width="1.7"/>
<line x1="618.2" x2="618.2" y1="247.3" y2="257.3" stroke="#161616" stroke-width="1.7"/>
<line x1="660.4" x2="660.4" y1="384.5" y2="374.5" stroke="#161616" stroke-width="1.7"/>
<line x1="660.4" x2="660.4" y1="247.3" y2="257.3" stroke="#161616" stroke-width="1.7"/>
<line x1="501.8" x2="512.8" y1="248.9" y2="248.9" stroke="#161616" stroke-width="1.7"/>
<line x1="684.5" x2="673.5" y1="248.9" y2="248.9" stroke="#161616" stroke-width="1.7"/>
<line x1="501.8" x2="512.8" y1="282.4" y2="282.4" stroke="#161616" stroke-width="1.7"/>
<line x1="684.5" x2="673.5" y1="282.4" y2="282.4" stroke="#161616" stroke-width="1.7"/>
<line x1="501.8" x2="512.8" y1="349.4" y2="349.4" stroke="#161616" stroke-width="1.7"/>
<line x1="684.5" x2="673.5" y1="349.4" y2="349.4" stroke="#161616" stroke-width="1.7"/>
<line x1="501.8" x2="512.8" y1="382.9" y2="382.9" stroke="#161616" stroke-width="1.7"/>
<line x1="684.5" x2="673.5" y1="382.9" y2="382.9" stroke="#161616" stroke-width="1.7"/>
<line x1="501.8" x2="684.5" y1="315.9" y2="315.9" stroke="#161616" stroke-width="1.5"/>
<polyline points="503.8,346.3 504.5,345.6 505.1,346.3 505.7,346.9 506.4,345.3 507.0,346.5 507.6,346.5 508.3,347.5 508.9,348.7 509.5,347.8 510.2,349.3 510.8,347.8 511.4,346.4 512.1,345.9 512.7,346.5 513.3,348.0 514.0,347.8 514.6,343.6 515.2,345.1 515.9,343.6 516.5,343.0 517.1,342.3 517.8,343.1 518.4,343.5 519.0,341.4 519.7,340.0 520.3,338.9 520.9,337.3 521.6,336.8 522.2,336.4 522.8,334.6 523.5,333.4 524.1,333.5 524.7,331.0 525.4,329.3 526.0,327.5 526.6,326.7 527.3,325.5 527.9,325.3 528.5,324.9 529.2,322.4 529.8,321.9 530.4,321.9 531.1,320.7 531.7,319.2 532.3,317.9 533.0,317.1 533.6,315.2 534.2,313.9 534.9,311.8 535.5,311.2 536.1,309.2 536.8,308.3 537.4,307.6 538.0,307.0 538.7,305.7 539.3,304.7 539.9,304.1 540.6,302.8 541.2,301.9 541.8,300.6 542.5,299.8 543.1,298.4 543.7,296.6 544.3,295.8 545.0,294.3 545.6,293.4 546.2,292.7 546.9,291.5 547.5,289.9 548.1,289.4 548.8,288.5 549.4,287.0 550.0,286.2 550.7,285.2 551.3,284.9 551.9,283.8 552.6,283.3 553.2,282.4 553.8,281.2 554.5,280.9 555.1,280.3 555.7,279.0 556.4,278.3 557.0,277.9 557.6,277.5 558.3,277.2 558.9,276.8 559.5,277.1 560.2,276.7 560.8,276.8 561.4,277.1 562.1,277.3 562.7,278.1 563.3,278.1 564.0,278.6 564.6,278.5 565.2,279.3 565.9,279.4 566.5,280.1 567.1,280.4 567.8,281.5 568.4,282.6 569.0,284.2 569.7,285.3 570.3,286.3 570.9,287.5 571.6,288.5 572.2,289.7 572.8,290.7 573.5,291.6 574.1,292.7 574.7,293.8 575.4,294.9 576.0,295.7 576.6,297.2 577.3,298.4 577.9,299.6 578.5,300.7 579.2,301.5 579.8,302.5 580.4,303.3 581.1,304.8 581.7,305.7 582.3,306.4 583.0,306.8 583.6,307.5 584.2,307.9 584.9,308.4 585.5,309.2 586.1,310.2 586.8,310.9 587.4,311.2 588.0,312.1 588.7,312.1 589.3,312.1 589.9,312.4 590.6,312.4 591.2,312.6 591.8,313.2 592.5,313.1 593.1,313.8 593.7,313.8 594.4,314.8 595.0,314.9 595.6,315.2 596.3,315.1 596.9,315.4 597.5,315.3 598.2,315.1 598.8,315.4 599.4,315.3 600.1,315.3 600.7,315.5 601.3,316.1 602.0,316.5 602.6,316.6 603.2,316.2 603.9,315.4 604.5,315.6 605.1,315.8 605.8,315.6 606.4,315.5 607.0,315.9 607.6,315.7 608.3,315.8 608.9,316.0 609.5,316.0 610.2,315.7 610.8,315.6 611.4,315.5 612.1,315.8 612.7,316.0 613.3,315.7 614.0,315.4 614.6,315.2 615.2,315.2 615.9,315.6 616.5,315.9 617.1,315.4 617.8,315.5 618.4,315.2 619.0,315.4 619.7,316.0 620.3,316.1 620.9,315.9 621.6,315.5 622.2,315.7 622.8,315.4 623.5,315.2 624.1,315.6 624.7,315.6 625.4,315.6 626.0,316.1 626.6,315.8 627.3,315.7 627.9,316.1 628.5,316.2 629.2,316.2 629.8,316.3 630.4,316.1 631.1,315.8 631.7,315.9 632.3,316.1 633.0,315.7 633.6,315.7 634.2,315.7 634.9,316.2 635.5,315.9 636.1,316.1 636.8,315.8 637.4,316.0 638.0,315.6 638.7,315.7 639.3,315.5 639.9,315.7 640.6,315.8 641.2,316.1 641.8,315.5 642.5,315.6 643.1,315.3 643.7,315.2 644.4,315.4 645.0,315.9 645.6,315.7 646.3,315.7 646.9,315.8 647.5,316.3 648.2,315.8 648.8,316.4 649.4,316.2 650.1,316.8 650.7,316.6 651.3,315.9 652.0,315.6 652.6,315.7 653.2,315.6 653.9,316.0 654.5,316.0 655.1,315.3 655.8,315.6 656.4,315.7 657.0,316.0 657.7,315.9 658.3,315.6 658.9,315.8 659.6,315.7 660.2,315.7 660.8,315.6 661.5,315.8 662.1,315.7 662.7,316.0 663.4,315.4 664.0,315.4 664.6,315.9 665.3,315.3 665.9,315.7 666.5,315.7 667.2,315.7 667.8,316.0 668.4,315.7 669.1,315.7 669.7,315.8 670.3,316.0 670.9,316.4 671.6,316.2 672.2,315.6 672.8,315.7 673.5,315.8 674.1,316.0 674.7,316.2 675.4,316.1 676.0,316.2 676.6,316.1 677.3,316.0 677.9,315.7 678.5,315.7 679.2,316.0 679.8,315.7 680.4,315.6 681.1,314.8 681.7,315.5 682.3,315.5 683.0,316.0 683.6,315.5 684.2,315.4 684.9,315.0" fill="none" stroke="#28368f" stroke-width="1.85" stroke-linejoin="round" stroke-linecap="round" clip-path="url(#cE)"/>
<polyline points="503.8,348.5 504.5,347.5 505.1,350.9 505.7,351.1 506.4,352.0 507.0,350.9 507.6,352.2 508.3,351.5 508.9,354.7 509.5,357.5 510.2,355.1 510.8,356.0 511.4,355.4 512.1,354.2 512.7,353.7 513.3,353.8 514.0,354.4 514.6,355.5 515.2,353.6 515.9,353.6 516.5,354.8 517.1,352.7 517.8,351.1 518.4,353.4 519.0,352.5 519.7,350.7 520.3,347.9 520.9,347.0 521.6,346.2 522.2,343.0 522.8,342.7 523.5,339.9 524.1,338.7 524.7,336.2 525.4,334.2 526.0,332.6 526.6,330.3 527.3,329.3 527.9,327.8 528.5,326.9 529.2,325.1 529.8,324.1 530.4,321.8 531.1,319.8 531.7,318.7 532.3,317.6 533.0,315.9 533.6,314.7 534.2,314.6 534.9,313.4 535.5,311.7 536.1,310.6 536.8,308.3 537.4,306.6 538.0,306.2 538.7,305.1 539.3,303.7 539.9,302.5 540.6,301.4 541.2,300.5 541.8,299.3 542.5,298.5 543.1,297.4 543.7,296.5 544.3,295.4 545.0,294.2 545.6,293.3 546.2,292.5 546.9,291.3 547.5,290.7 548.1,289.5 548.8,288.4 549.4,287.4 550.0,286.3 550.7,285.2 551.3,284.6 551.9,284.2 552.6,282.9 553.2,281.7 553.8,281.0 554.5,280.8 555.1,279.7 555.7,279.1 556.4,278.8 557.0,279.0 557.6,278.1 558.3,277.1 558.9,277.1 559.5,277.2 560.2,277.1 560.8,276.9 561.4,277.1 562.1,277.5 562.7,277.7 563.3,277.8 564.0,278.4 564.6,279.2 565.2,279.2 565.9,280.0 566.5,281.6 567.1,281.8 567.8,282.4 568.4,283.3 569.0,284.5 569.7,285.0 570.3,286.2 570.9,286.9 571.6,288.0 572.2,289.2 572.8,289.9 573.5,291.0 574.1,292.9 574.7,293.7 575.4,294.7 576.0,295.7 576.6,296.2 577.3,297.5 577.9,298.6 578.5,299.9 579.2,301.3 579.8,302.4 580.4,303.4 581.1,304.0 581.7,304.9 582.3,305.5 583.0,306.3 583.6,307.4 584.2,308.7 584.9,309.1 585.5,309.3 586.1,310.0 586.8,310.7 587.4,311.2 588.0,311.3 588.7,311.7 589.3,312.4 589.9,312.7 590.6,313.2 591.2,313.5 591.8,313.5 592.5,313.7 593.1,313.8 593.7,314.5 594.4,314.3 595.0,315.0 595.6,315.7 596.3,315.6 596.9,315.2 597.5,315.2 598.2,315.0 598.8,314.8 599.4,314.8 600.1,315.2 600.7,315.3 601.3,315.7 602.0,315.7 602.6,315.6 603.2,315.5 603.9,316.1 604.5,316.8 605.1,316.6 605.8,316.4 606.4,315.9 607.0,315.9 607.6,315.8 608.3,315.6 608.9,315.9 609.5,315.8 610.2,315.5 610.8,315.1 611.4,315.0 612.1,315.5 612.7,315.3 613.3,315.7 614.0,315.8 614.6,316.1 615.2,316.3 615.9,316.6 616.5,316.4 617.1,316.7 617.8,316.6 618.4,316.5 619.0,316.0 619.7,316.5 620.3,316.3 620.9,316.0 621.6,315.7 622.2,315.8 622.8,315.8 623.5,315.7 624.1,315.6 624.7,315.5 625.4,315.4 626.0,315.0 626.6,315.3 627.3,315.5 627.9,315.4 628.5,315.8 629.2,315.8 629.8,316.1 630.4,315.9 631.1,315.9 631.7,315.8 632.3,315.9 633.0,316.1 633.6,315.9 634.2,316.1 634.9,316.2 635.5,316.0 636.1,316.1 636.8,316.8 637.4,316.6 638.0,317.0 638.7,316.7 639.3,315.8 639.9,315.7 640.6,316.5 641.2,315.7 641.8,315.8 642.5,316.1 643.1,316.0 643.7,316.1 644.4,316.5 645.0,316.3 645.6,316.1 646.3,315.9 646.9,315.8 647.5,316.0 648.2,315.9 648.8,316.2 649.4,315.9 650.1,315.4 650.7,315.8 651.3,315.7 652.0,315.1 652.6,315.9 653.2,316.3 653.9,315.5 654.5,315.3 655.1,315.2 655.8,315.7 656.4,315.9 657.0,316.1 657.7,315.9 658.3,316.0 658.9,316.2 659.6,316.4 660.2,316.1 660.8,316.1 661.5,315.9 662.1,316.4 662.7,316.2 663.4,316.1 664.0,315.8 664.6,315.7 665.3,315.9 665.9,315.7 666.5,315.8 667.2,315.7 667.8,315.4 668.4,315.4 669.1,315.8 669.7,315.8 670.3,315.7 670.9,315.4 671.6,315.6 672.2,315.7 672.8,316.0 673.5,316.4 674.1,316.1 674.7,316.2 675.4,316.4 676.0,316.1 676.6,316.1 677.3,315.6 677.9,315.8 678.5,316.0 679.2,315.6 679.8,315.8 680.4,315.6 681.1,315.5 681.7,316.1 682.3,316.4 683.0,316.5 683.6,316.1 684.2,316.2 684.9,315.5" fill="none" stroke="#d61d30" stroke-width="1.85" stroke-linejoin="round" stroke-linecap="round" clip-path="url(#cE)"/>
<polyline points="503.8,299.9 504.5,299.1 505.1,299.2 505.7,298.6 506.4,298.4 507.0,299.1 507.6,299.8 508.3,301.1 508.9,300.6 509.5,301.5 510.2,303.0 510.8,301.8 511.4,301.3 512.1,301.4 512.7,299.6 513.3,298.3 514.0,296.7 514.6,298.5 515.2,298.0 515.9,298.2 516.5,297.3 517.1,298.0 517.8,299.1 518.4,300.3 519.0,299.9 519.7,299.3 520.3,299.3 520.9,300.2 521.6,301.1 522.2,300.1 522.8,300.7 523.5,300.4 524.1,301.8 524.7,303.1 525.4,304.9 526.0,304.4 526.6,306.0 527.3,306.8 527.9,306.9 528.5,307.9 529.2,309.0 529.8,311.1 530.4,311.0 531.1,312.4 531.7,312.8 532.3,314.8 533.0,315.2 533.6,316.6 534.2,318.2 534.9,320.6 535.5,320.7 536.1,323.5 536.8,323.2 537.4,324.6 538.0,325.5 538.7,326.6 539.3,327.6 539.9,329.6 540.6,330.8 541.2,332.1 541.8,333.5 542.5,334.6 543.1,335.9 543.7,336.7 544.3,338.3 545.0,339.5 545.6,340.3 546.2,341.9 546.9,342.8 547.5,343.8 548.1,345.3 548.8,346.5 549.4,347.7 550.0,348.5 550.7,349.5 551.3,351.2 551.9,351.7 552.6,353.2 553.2,354.1 553.8,355.2 554.5,355.9 555.1,356.3 555.7,356.7 556.4,357.2 557.0,358.0 557.6,358.2 558.3,358.3 558.9,359.1 559.5,359.0 560.2,359.2 560.8,359.4 561.4,359.4 562.1,359.1 562.7,358.9 563.3,358.3 564.0,357.8 564.6,357.3 565.2,356.7 565.9,356.0 566.5,354.8 567.1,353.7 567.8,352.8 568.4,352.2 569.0,350.8 569.7,350.0 570.3,349.2 570.9,348.0 571.6,346.6 572.2,345.4 572.8,344.1 573.5,343.1 574.1,341.5 574.7,340.3 575.4,339.1 576.0,337.7 576.6,336.2 577.3,335.3 577.9,334.2 578.5,333.0 579.2,331.9 579.8,330.9 580.4,329.8 581.1,328.9 581.7,327.9 582.3,327.6 583.0,326.6 583.6,325.2 584.2,324.6 584.9,324.1 585.5,323.8 586.1,322.6 586.8,322.0 587.4,321.1 588.0,320.3 588.7,320.0 589.3,319.5 589.9,319.3 590.6,319.0 591.2,319.0 591.8,318.8 592.5,318.2 593.1,317.8 593.7,317.8 594.4,317.2 595.0,317.0 595.6,317.3 596.3,317.3 596.9,317.2 597.5,316.9 598.2,316.8 598.8,316.8 599.4,316.6 600.1,316.3 600.7,316.1 601.3,316.1 602.0,316.2 602.6,316.4 603.2,316.5 603.9,316.2 604.5,316.2 605.1,315.7 605.8,315.7 606.4,315.9 607.0,316.1 607.6,316.7 608.3,316.9 608.9,316.7 609.5,316.2 610.2,315.7 610.8,315.6 611.4,315.6 612.1,315.7 612.7,315.8 613.3,315.8 614.0,316.1 614.6,316.3 615.2,315.8 615.9,315.9 616.5,315.3 617.1,315.3 617.8,314.9 618.4,315.1 619.0,315.6 619.7,315.3 620.3,315.7 620.9,315.6 621.6,315.8 622.2,316.0 622.8,315.9 623.5,316.2 624.1,316.0 624.7,315.8 625.4,316.0 626.0,316.2 626.6,316.1 627.3,316.1 627.9,316.0 628.5,316.3 629.2,316.2 629.8,316.6 630.4,316.6 631.1,316.5 631.7,316.3 632.3,315.9 633.0,316.0 633.6,315.8 634.2,315.6 634.9,315.8 635.5,316.0 636.1,316.0 636.8,315.8 637.4,316.1 638.0,316.1 638.7,316.0 639.3,316.1 639.9,316.1 640.6,316.1 641.2,316.0 641.8,315.8 642.5,316.1 643.1,316.4 643.7,316.6 644.4,316.2 645.0,315.9 645.6,316.4 646.3,316.4 646.9,316.4 647.5,316.6 648.2,316.1 648.8,316.1 649.4,315.8 650.1,315.2 650.7,315.5 651.3,315.9 652.0,316.3 652.6,315.7 653.2,315.6 653.9,315.9 654.5,316.0 655.1,316.1 655.8,315.6 656.4,315.3 657.0,315.8 657.7,315.5 658.3,315.6 658.9,315.8 659.6,315.7 660.2,315.4 660.8,315.5 661.5,315.7 662.1,315.5 662.7,316.3 663.4,316.1 664.0,316.1 664.6,315.7 665.3,316.0 665.9,316.3 666.5,316.0 667.2,316.1 667.8,316.0 668.4,316.0 669.1,316.4 669.7,316.1 670.3,315.8 670.9,316.0 671.6,316.1 672.2,316.4 672.8,315.8 673.5,315.7 674.1,315.7 674.7,315.9 675.4,316.0 676.0,315.7 676.6,315.2 677.3,315.7 677.9,315.7 678.5,315.5 679.2,315.6 679.8,315.7 680.4,315.6 681.1,315.1 681.7,315.3 682.3,315.6 683.0,316.0 683.6,316.2 684.2,316.6 684.9,316.1" fill="none" stroke="#161616" stroke-width="1.85" stroke-linejoin="round" stroke-linecap="round" clip-path="url(#cE)"/>
<polyline points="503.8,304.7 504.5,304.3 505.1,302.5 505.7,301.5 506.4,302.2 507.0,304.1 507.6,302.0 508.3,301.3 508.9,301.6 509.5,304.5 510.2,302.3 510.8,303.1 511.4,305.0 512.1,303.8 512.7,301.8 513.3,300.2 514.0,301.5 514.6,300.5 515.2,301.0 515.9,301.5 516.5,302.9 517.1,300.7 517.8,303.3 518.4,301.4 519.0,302.0 519.7,302.6 520.3,303.2 520.9,303.1 521.6,303.7 522.2,304.6 522.8,304.7 523.5,304.7 524.1,304.7 524.7,305.5 525.4,306.7 526.0,307.9 526.6,308.2 527.3,308.4 527.9,309.2 528.5,309.9 529.2,310.3 529.8,310.8 530.4,311.4 531.1,311.9 531.7,313.3 532.3,315.2 533.0,315.8 533.6,316.9 534.2,318.2 534.9,318.6 535.5,320.7 536.1,321.7 536.8,322.6 537.4,322.8 538.0,324.3 538.7,325.2 539.3,325.9 539.9,327.0 540.6,328.0 541.2,329.2 541.8,330.4 542.5,331.3 543.1,332.7 543.7,334.3 544.3,335.0 545.0,336.4 545.6,337.3 546.2,338.3 546.9,339.0 547.5,339.7 548.1,341.1 548.8,342.0 549.4,343.2 550.0,344.0 550.7,344.9 551.3,345.7 551.9,346.9 552.6,347.6 553.2,348.3 553.8,349.0 554.5,349.4 555.1,350.1 555.7,351.1 556.4,352.0 557.0,352.5 557.6,352.4 558.3,352.5 558.9,353.1 559.5,353.3 560.2,353.3 560.8,353.4 561.4,353.6 562.1,353.4 562.7,352.6 563.3,352.3 564.0,351.8 564.6,351.6 565.2,350.8 565.9,350.4 566.5,349.6 567.1,348.5 567.8,348.0 568.4,347.2 569.0,346.2 569.7,345.5 570.3,345.1 570.9,343.9 571.6,343.1 572.2,341.3 572.8,340.3 573.5,339.0 574.1,337.8 574.7,337.1 575.4,335.8 576.0,334.5 576.6,333.3 577.3,332.5 577.9,331.8 578.5,331.0 579.2,330.1 579.8,329.2 580.4,328.4 581.1,327.1 581.7,326.4 582.3,325.5 583.0,324.7 583.6,324.1 584.2,323.5 584.9,322.8 585.5,322.5 586.1,322.0 586.8,321.1 587.4,320.4 588.0,320.3 588.7,320.1 589.3,319.4 589.9,319.3 590.6,319.0 591.2,318.7 591.8,318.6 592.5,318.2 593.1,317.7 593.7,317.7 594.4,317.4 595.0,317.1 595.6,316.8 596.3,317.1 596.9,316.4 597.5,316.7 598.2,316.6 598.8,316.8 599.4,316.5 600.1,315.9 600.7,315.9 601.3,316.8 602.0,316.6 602.6,316.5 603.2,316.5 603.9,316.2 604.5,316.1 605.1,316.0 605.8,315.9 606.4,315.8 607.0,315.8 607.6,315.7 608.3,315.9 608.9,316.1 609.5,316.0 610.2,316.0 610.8,315.9 611.4,316.0 612.1,315.8 612.7,316.0 613.3,316.8 614.0,316.3 614.6,315.9 615.2,316.5 615.9,316.8 616.5,316.1 617.1,315.8 617.8,316.1 618.4,315.9 619.0,316.0 619.7,316.4 620.3,316.5 620.9,316.0 621.6,316.1 622.2,316.1 622.8,316.0 623.5,315.8 624.1,315.6 624.7,316.2 625.4,315.9 626.0,315.6 626.6,315.6 627.3,315.7 627.9,315.9 628.5,316.2 629.2,316.4 629.8,316.0 630.4,316.2 631.1,316.0 631.7,316.1 632.3,315.4 633.0,315.3 633.6,315.4 634.2,315.5 634.9,315.4 635.5,315.5 636.1,315.6 636.8,315.8 637.4,315.9 638.0,316.2 638.7,315.9 639.3,316.0 639.9,316.0 640.6,316.2 641.2,316.0 641.8,315.8 642.5,316.3 643.1,316.5 643.7,316.5 644.4,316.9 645.0,316.1 645.6,316.2 646.3,316.6 646.9,316.1 647.5,315.7 648.2,316.0 648.8,316.3 649.4,316.0 650.1,316.1 650.7,315.8 651.3,315.6 652.0,315.6 652.6,315.0 653.2,315.1 653.9,315.6 654.5,315.6 655.1,316.1 655.8,315.7 656.4,316.0 657.0,315.7 657.7,315.0 658.3,315.4 658.9,315.4 659.6,315.6 660.2,316.1 660.8,315.9 661.5,316.0 662.1,315.5 662.7,315.9 663.4,315.9 664.0,316.0 664.6,315.9 665.3,316.2 665.9,315.9 666.5,315.7 667.2,315.6 667.8,315.8 668.4,316.4 669.1,316.1 669.7,316.1 670.3,316.2 670.9,316.3 671.6,315.8 672.2,316.3 672.8,316.2 673.5,316.2 674.1,316.2 674.7,315.8 675.4,316.2 676.0,316.2 676.6,316.1 677.3,316.5 677.9,316.1 678.5,316.1 679.2,315.8 679.8,316.0 680.4,316.4 681.1,316.0 681.7,316.2 682.3,316.1 683.0,316.2 683.6,315.7 684.2,315.7 684.9,315.7" fill="none" stroke="#2fa55a" stroke-width="1.85" stroke-linejoin="round" stroke-linecap="round" clip-path="url(#cE)"/>
<text x="533.8" y="403.2" font-size="14.2" text-anchor="middle" fill="#161616" stroke="#161616" stroke-width="0.3" >400</text>
<text x="576.0" y="403.2" font-size="14.2" text-anchor="middle" fill="#161616" stroke="#161616" stroke-width="0.3" >500</text>
<text x="618.2" y="403.2" font-size="14.2" text-anchor="middle" fill="#161616" stroke="#161616" stroke-width="0.3" >600</text>
<text x="660.4" y="403.2" font-size="14.2" text-anchor="middle" fill="#161616" stroke="#161616" stroke-width="0.3" >700</text>
<text x="499.6" y="253.9" font-size="14.2" text-anchor="end" fill="#161616" stroke="#161616" stroke-width="0.3" >0.04</text>
<text x="499.6" y="287.4" font-size="14.2" text-anchor="end" fill="#161616" stroke="#161616" stroke-width="0.3" >0.02</text>
<text x="499.6" y="320.9" font-size="14.2" text-anchor="end" fill="#161616" stroke="#161616" stroke-width="0.3" >0.00</text>
<text x="499.6" y="354.4" font-size="14.2" text-anchor="end" fill="#161616" stroke="#161616" stroke-width="0.3" >-<tspan dx="2.0">0.02</tspan></text>
<text x="499.6" y="387.9" font-size="14.2" text-anchor="end" fill="#161616" stroke="#161616" stroke-width="0.3" >-<tspan dx="2.0">0.04</tspan></text>
<text x="525.3" y="273.0" font-size="18.9" text-anchor="middle" fill="#161616" stroke="#161616" stroke-width="0.3" >(E)</text>
<text x="646.8" y="276.0" font-size="19.0" text-anchor="middle" fill="#161616" stroke="#161616" stroke-width="0.3" >I86T</text>
<text x="588.0" y="284.4" font-size="15.6" text-anchor="middle" fill="#d61d30" stroke="#d61d30" stroke-width="0.3" >2</text>
<line x1="572.6" y1="285.0" x2="583.2" y2="281.1" stroke="#d61d30" stroke-width="1.8"/>
<text x="597.9" y="296.0" font-size="15.6" text-anchor="middle" fill="#28368f" stroke="#28368f" stroke-width="0.3" >4</text>
<line x1="578.0" y1="297.8" x2="591.8" y2="292.0" stroke="#28368f" stroke-width="1.8"/>
<text x="591.2" y="355.4" font-size="15.6" text-anchor="middle" fill="#2fa55a" stroke="#2fa55a" stroke-width="0.3" >3</text>
<line x1="573.5" y1="344.4" x2="586.4" y2="349.2" stroke="#2fa55a" stroke-width="1.8"/>
<text x="584.8" y="368.8" font-size="15.6" text-anchor="middle" fill="#161616" stroke="#161616" stroke-width="0.3" >1</text>
<line x1="567.1" y1="357.2" x2="580.0" y2="361.4" stroke="#161616" stroke-width="1.8"/>
<rect x="60.2" y="414" width="182.0" height="137.79999999999995" fill="none" stroke="#161616" stroke-width="1.8"/>
<line x1="92.0" x2="92.0" y1="551.8" y2="541.8" stroke="#161616" stroke-width="1.7"/>
<line x1="92.0" x2="92.0" y1="414" y2="424" stroke="#161616" stroke-width="1.7"/>
<line x1="134.5" x2="134.5" y1="551.8" y2="541.8" stroke="#161616" stroke-width="1.7"/>
<line x1="134.5" x2="134.5" y1="414" y2="424" stroke="#161616" stroke-width="1.7"/>
<line x1="177.0" x2="177.0" y1="551.8" y2="541.8" stroke="#161616" stroke-width="1.7"/>
<line x1="177.0" x2="177.0" y1="414" y2="424" stroke="#161616" stroke-width="1.7"/>
<line x1="219.5" x2="219.5" y1="551.8" y2="541.8" stroke="#161616" stroke-width="1.7"/>
<line x1="219.5" x2="219.5" y1="414" y2="424" stroke="#161616" stroke-width="1.7"/>
<line x1="60.2" x2="71.2" y1="429.1" y2="429.1" stroke="#161616" stroke-width="1.7"/>
<line x1="242.2" x2="231.2" y1="429.1" y2="429.1" stroke="#161616" stroke-width="1.7"/>
<line x1="60.2" x2="71.2" y1="455.8" y2="455.8" stroke="#161616" stroke-width="1.7"/>
<line x1="242.2" x2="231.2" y1="455.8" y2="455.8" stroke="#161616" stroke-width="1.7"/>
<line x1="60.2" x2="71.2" y1="509.2" y2="509.2" stroke="#161616" stroke-width="1.7"/>
<line x1="242.2" x2="231.2" y1="509.2" y2="509.2" stroke="#161616" stroke-width="1.7"/>
<line x1="60.2" x2="71.2" y1="535.9" y2="535.9" stroke="#161616" stroke-width="1.7"/>
<line x1="242.2" x2="231.2" y1="535.9" y2="535.9" stroke="#161616" stroke-width="1.7"/>
<line x1="60.2" x2="242.2" y1="482.5" y2="482.5" stroke="#161616" stroke-width="1.5"/>
<polyline points="61.8,503.3 62.5,505.2 63.1,505.4 63.7,506.5 64.4,507.6 65.0,507.5 65.7,508.5 66.3,508.3 66.9,508.9 67.6,509.0 68.2,509.1 68.8,510.8 69.5,510.7 70.1,509.3 70.8,506.5 71.4,507.5 72.0,508.0 72.7,508.4 73.3,508.5 73.9,508.0 74.6,508.2 75.2,506.4 75.8,506.3 76.5,506.3 77.1,505.7 77.8,505.4 78.4,504.6 79.0,503.3 79.7,502.4 80.3,501.8 81.0,500.7 81.6,501.7 82.2,500.3 82.9,499.7 83.5,498.8 84.1,497.7 84.8,495.9 85.4,495.2 86.0,493.2 86.7,491.8 87.3,491.9 88.0,491.8 88.6,490.3 89.2,489.7 89.9,487.9 90.5,487.0 91.2,486.5 91.8,484.4 92.4,483.3 93.1,484.0 93.7,483.6 94.3,482.1 95.0,482.1 95.6,480.8 96.2,479.8 96.9,479.2 97.5,477.9 98.2,477.1 98.8,476.4 99.4,475.2 100.1,474.1 100.7,473.3 101.3,472.5 102.0,471.7 102.6,470.7 103.3,469.8 103.9,468.8 104.5,467.9 105.2,466.8 105.8,465.3 106.5,464.3 107.1,463.2 107.7,462.0 108.4,461.3 109.0,460.6 109.6,459.7 110.3,458.5 110.9,457.5 111.5,456.2 112.2,455.1 112.8,454.0 113.5,453.3 114.1,452.3 114.7,451.2 115.4,450.4 116.0,449.7 116.7,448.9 117.3,448.0 117.9,447.3 118.6,446.5 119.2,445.5 119.8,444.7 120.5,444.1 121.1,443.8 121.8,443.2 122.4,442.7 123.0,442.0 123.7,441.6 124.3,441.5 124.9,441.2 125.6,440.6 126.2,440.3 126.8,440.5 127.5,440.3 128.1,439.7 128.8,440.3 129.4,440.4 130.0,440.6 130.7,441.2 131.3,442.3 131.9,443.0 132.6,443.6 133.2,444.2 133.9,445.1 134.5,445.8 135.1,446.8 135.8,448.0 136.4,448.9 137.1,450.4 137.7,450.7 138.3,451.8 139.0,453.0 139.6,454.2 140.2,455.2 140.9,456.4 141.5,457.7 142.2,459.1 142.8,460.9 143.4,462.1 144.1,463.1 144.7,464.2 145.3,465.7 146.0,466.4 146.6,467.1 147.2,468.3 147.9,469.3 148.5,470.2 149.2,471.3 149.8,471.8 150.4,472.5 151.1,473.3 151.7,474.1 152.3,474.8 153.0,475.3 153.6,475.6 154.3,476.3 154.9,476.7 155.5,477.1 156.2,477.9 156.8,478.4 157.4,478.9 158.1,479.5 158.7,479.8 159.4,480.3 160.0,480.4 160.6,480.3 161.3,480.4 161.9,480.9 162.6,480.8 163.2,481.1 163.8,480.8 164.5,481.6 165.1,481.6 165.7,481.9 166.4,481.9 167.0,482.1 167.7,482.1 168.3,482.3 168.9,482.3 169.6,482.4 170.2,481.6 170.8,481.6 171.5,482.0 172.1,482.5 172.8,482.6 173.4,482.7 174.0,482.7 174.7,483.0 175.3,482.8 175.9,482.4 176.6,482.4 177.2,482.2 177.8,482.1 178.5,482.1 179.1,482.2 179.8,482.2 180.4,482.2 181.0,482.1 181.7,482.3 182.3,482.6 182.9,482.3 183.6,482.3 184.2,482.3 184.9,482.6 185.5,482.4 186.1,482.4 186.8,482.3 187.4,482.2 188.1,482.3 188.7,482.6 189.3,482.4 190.0,482.5 190.6,482.2 191.2,482.3 191.9,482.6 192.5,482.6 193.1,482.9 193.8,482.4 194.4,482.6 195.1,482.8 195.7,482.9 196.3,483.1 197.0,482.5 197.6,482.4 198.2,482.3 198.9,482.2 199.5,482.1 200.2,482.0 200.8,482.4 201.4,482.0 202.1,482.2 202.7,482.2 203.4,482.2 204.0,482.4 204.6,482.4 205.3,482.4 205.9,482.7 206.5,482.3 207.2,482.5 207.8,482.6 208.4,482.5 209.1,482.6 209.7,482.3 210.4,482.3 211.0,482.5 211.6,482.8 212.3,482.7 212.9,482.6 213.6,482.2 214.2,482.4 214.8,482.2 215.5,482.2 216.1,481.8 216.7,481.9 217.4,482.1 218.0,482.5 218.7,482.6 219.3,482.5 219.9,482.3 220.6,482.6 221.2,482.5 221.8,482.6 222.5,482.5 223.1,482.6 223.8,482.7 224.4,482.6 225.0,482.7 225.7,482.5 226.3,482.6 226.9,482.9 227.6,483.2 228.2,483.0 228.8,482.5 229.5,482.5 230.1,482.5 230.8,482.7 231.4,482.7 232.0,482.3 232.7,482.2 233.3,482.5 233.9,483.0 234.6,482.6 235.2,482.4 235.9,482.6 236.5,482.7 237.1,482.5 237.8,482.3 238.4,482.6 239.1,482.5 239.7,482.7 240.3,482.5 241.0,482.8 241.6,482.7 242.2,482.6" fill="none" stroke="#28368f" stroke-width="1.85" stroke-linejoin="round" stroke-linecap="round" clip-path="url(#cF)"/>
<polyline points="61.8,505.4 62.5,506.4 63.1,509.8 63.7,510.4 64.4,513.8 65.0,515.9 65.7,515.5 66.3,515.3 66.9,516.5 67.6,516.2 68.2,517.3 68.8,517.2 69.5,516.8 70.1,516.3 70.8,516.6 71.4,516.9 72.0,515.3 72.7,514.4 73.3,516.4 73.9,513.8 74.6,514.0 75.2,513.0 75.8,510.6 76.5,510.6 77.1,509.9 77.8,508.5 78.4,507.8 79.0,508.1 79.7,506.8 80.3,505.2 81.0,503.5 81.6,501.4 82.2,501.4 82.9,501.2 83.5,499.6 84.1,498.6 84.8,497.6 85.4,495.5 86.0,495.3 86.7,493.9 87.3,493.1 88.0,493.0 88.6,491.9 89.2,489.9 89.9,489.8 90.5,487.8 91.2,486.7 91.8,486.1 92.4,485.0 93.1,484.4 93.7,483.4 94.3,482.7 95.0,481.2 95.6,480.8 96.2,479.7 96.9,479.1 97.5,478.1 98.2,477.1 98.8,476.1 99.4,475.2 100.1,474.3 100.7,473.9 101.3,472.9 102.0,471.8 102.6,470.3 103.3,469.7 103.9,468.5 104.5,467.6 105.2,466.9 105.8,466.3 106.5,465.1 107.1,463.7 107.7,462.6 108.4,461.7 109.0,460.4 109.6,459.7 110.3,458.7 110.9,457.7 111.5,456.1 112.2,454.9 112.8,454.2 113.5,453.5 114.1,452.7 114.7,451.3 115.4,450.3 116.0,449.6 116.7,448.6 117.3,447.8 117.9,447.1 118.6,446.1 119.2,445.4 119.8,444.7 120.5,443.7 121.1,443.1 121.8,442.5 122.4,442.2 123.0,441.9 123.7,441.2 124.3,440.7 124.9,440.4 125.6,440.5 126.2,440.5 126.8,440.5 127.5,440.1 128.1,440.5 128.8,440.5 129.4,441.0 130.0,441.3 130.7,441.4 131.3,442.3 131.9,442.6 132.6,443.2 133.2,444.0 133.9,445.0 134.5,445.9 135.1,446.7 135.8,447.5 136.4,449.0 137.1,449.9 137.7,450.8 138.3,452.0 139.0,453.4 139.6,454.7 140.2,456.0 140.9,457.2 141.5,458.1 142.2,459.5 142.8,460.6 143.4,461.5 144.1,462.7 144.7,463.9 145.3,464.7 146.0,465.9 146.6,467.2 147.2,468.2 147.9,469.1 148.5,469.9 149.2,470.9 149.8,472.1 150.4,473.0 151.1,473.6 151.7,474.3 152.3,474.9 153.0,475.7 153.6,476.0 154.3,476.1 154.9,476.8 155.5,477.2 156.2,477.8 156.8,478.4 157.4,478.6 158.1,479.1 158.7,479.2 159.4,479.2 160.0,479.6 160.6,479.7 161.3,480.4 161.9,480.8 162.6,481.1 163.2,481.4 163.8,481.7 164.5,481.6 165.1,481.9 165.7,481.9 166.4,482.1 167.0,481.9 167.7,482.0 168.3,481.9 168.9,482.0 169.6,482.0 170.2,482.0 170.8,481.8 171.5,482.1 172.1,482.3 172.8,482.3 173.4,482.3 174.0,482.4 174.7,482.4 175.3,482.6 175.9,482.6 176.6,482.5 177.2,482.7 177.8,483.0 178.5,483.2 179.1,482.8 179.8,482.6 180.4,482.4 181.0,482.5 181.7,482.5 182.3,482.2 182.9,482.3 183.6,482.1 184.2,482.3 184.9,482.2 185.5,482.2 186.1,482.2 186.8,482.5 187.4,482.6 188.1,482.1 188.7,482.3 189.3,481.9 190.0,482.0 190.6,482.2 191.2,482.0 191.9,482.2 192.5,482.7 193.1,482.7 193.8,482.8 194.4,482.2 195.1,482.4 195.7,482.0 196.3,482.7 197.0,482.6 197.6,482.2 198.2,482.4 198.9,482.3 199.5,482.2 200.2,482.1 200.8,482.4 201.4,482.4 202.1,482.2 202.7,482.3 203.4,482.3 204.0,482.4 204.6,482.5 205.3,482.6 205.9,482.5 206.5,482.4 207.2,482.6 207.8,482.9 208.4,482.6 209.1,482.4 209.7,482.3 210.4,482.3 211.0,482.2 211.6,482.1 212.3,482.7 212.9,482.3 213.6,482.5 214.2,482.3 214.8,482.3 215.5,482.5 216.1,482.4 216.7,482.7 217.4,482.6 218.0,482.3 218.7,482.3 219.3,482.1 219.9,482.1 220.6,482.0 221.2,482.3 221.8,482.3 222.5,483.0 223.1,482.6 223.8,482.7 224.4,482.8 225.0,482.8 225.7,482.9 226.3,482.8 226.9,482.5 227.6,482.5 228.2,482.0 228.8,482.1 229.5,482.3 230.1,482.4 230.8,482.7 231.4,483.0 232.0,483.0 232.7,483.0 233.3,483.0 233.9,482.8 234.6,482.7 235.2,482.6 235.9,482.6 236.5,482.4 237.1,482.6 237.8,482.5 238.4,482.7 239.1,482.0 239.7,482.2 240.3,482.1 241.0,482.2 241.6,482.5 242.2,482.2" fill="none" stroke="#d61d30" stroke-width="1.85" stroke-linejoin="round" stroke-linecap="round" clip-path="url(#cF)"/>
<polyline points="61.8,466.4 62.5,467.0 63.1,464.9 63.7,465.3 64.4,464.2 65.0,465.5 65.7,464.9 66.3,464.0 66.9,463.4 67.6,463.1 68.2,463.6 68.8,461.5 69.5,462.4 70.1,462.6 70.8,462.3 71.4,462.0 72.0,461.6 72.7,462.6 73.3,462.7 73.9,462.3 74.6,462.8 75.2,460.7 75.8,462.1 76.5,462.4 77.1,462.6 77.8,462.0 78.4,462.5 79.0,461.7 79.7,462.5 80.3,462.7 81.0,463.3 81.6,464.8 82.2,464.6 82.9,466.0 83.5,467.0 84.1,466.5 84.8,467.6 85.4,468.9 86.0,470.2 86.7,470.7 87.3,470.5 88.0,472.1 88.6,474.2 89.2,475.9 89.9,475.5 90.5,476.0 91.2,476.9 91.8,477.2 92.4,479.0 93.1,480.0 93.7,480.8 94.3,482.0 95.0,482.6 95.6,484.3 96.2,486.0 96.9,487.1 97.5,488.1 98.2,489.5 98.8,490.1 99.4,491.4 100.1,493.0 100.7,494.3 101.3,495.5 102.0,496.5 102.6,497.7 103.3,499.0 103.9,500.2 104.5,501.6 105.2,502.8 105.8,504.3 106.5,505.5 107.1,506.8 107.7,508.5 108.4,509.6 109.0,511.1 109.6,512.6 110.3,513.7 110.9,515.2 111.5,516.7 112.2,518.1 112.8,519.9 113.5,521.1 114.1,522.5 114.7,523.6 115.4,524.7 116.0,526.1 116.7,527.2 117.3,528.1 117.9,529.0 118.6,529.8 119.2,530.9 119.8,531.8 120.5,532.7 121.1,533.1 121.8,533.8 122.4,534.7 123.0,535.3 123.7,535.9 124.3,536.5 124.9,537.0 125.6,537.3 126.2,537.3 126.8,537.8 127.5,537.5 128.1,537.5 128.8,537.2 129.4,536.8 130.0,536.4 130.7,536.1 131.3,535.3 131.9,534.7 132.6,534.2 133.2,533.4 133.9,531.9 134.5,530.4 135.1,529.0 135.8,527.9 136.4,526.5 137.1,524.8 137.7,523.5 138.3,522.1 139.0,520.5 139.6,519.1 140.2,517.6 140.9,516.1 141.5,514.8 142.2,513.0 142.8,511.4 143.4,509.6 144.1,508.0 144.7,506.6 145.3,505.7 146.0,504.5 146.6,502.6 147.2,501.0 147.9,499.6 148.5,498.7 149.2,497.4 149.8,496.3 150.4,495.3 151.1,494.1 151.7,493.2 152.3,491.9 153.0,491.3 153.6,490.7 154.3,490.0 154.9,489.6 155.5,489.1 156.2,488.5 156.8,488.0 157.4,487.2 158.1,486.9 158.7,486.5 159.4,486.0 160.0,485.4 160.6,485.0 161.3,484.5 161.9,484.7 162.6,484.6 163.2,484.5 163.8,484.4 164.5,484.0 165.1,483.6 165.7,483.2 166.4,482.9 167.0,482.7 167.7,483.0 168.3,483.2 168.9,483.1 169.6,483.3 170.2,483.2 170.8,483.3 171.5,483.1 172.1,482.8 172.8,482.7 173.4,483.1 174.0,483.0 174.7,482.9 175.3,482.5 175.9,482.6 176.6,482.5 177.2,482.6 177.8,482.3 178.5,482.5 179.1,482.4 179.8,482.7 180.4,482.7 181.0,482.9 181.7,482.9 182.3,482.5 182.9,482.7 183.6,483.1 184.2,483.0 184.9,483.1 185.5,482.7 186.1,482.4 186.8,482.3 187.4,482.8 188.1,482.9 188.7,482.6 189.3,482.5 190.0,482.5 190.6,482.9 191.2,482.8 191.9,482.8 192.5,482.4 193.1,482.6 193.8,482.3 194.4,482.7 195.1,482.8 195.7,482.9 196.3,482.8 197.0,482.8 197.6,482.7 198.2,483.1 198.9,483.1 199.5,483.1 200.2,482.8 200.8,483.0 201.4,482.6 202.1,482.2 202.7,482.3 203.4,482.5 204.0,482.6 204.6,482.6 205.3,482.6 205.9,482.3 206.5,482.8 207.2,482.6 207.8,482.3 208.4,482.5 209.1,482.6 209.7,482.4 210.4,482.2 211.0,482.2 211.6,482.5 212.3,482.3 212.9,482.7 213.6,482.4 214.2,482.5 214.8,482.7 215.5,482.9 216.1,482.8 216.7,482.6 217.4,482.2 218.0,482.2 218.7,482.2 219.3,482.6 219.9,482.4 220.6,482.8 221.2,482.4 221.8,482.5 222.5,482.1 223.1,482.3 223.8,482.5 224.4,482.6 225.0,482.2 225.7,482.6 226.3,482.7 226.9,482.5 227.6,482.6 228.2,482.3 228.8,481.8 229.5,482.2 230.1,482.0 230.8,482.2 231.4,482.2 232.0,482.2 232.7,482.6 233.3,482.6 233.9,482.5 234.6,482.5 235.2,482.7 235.9,482.6 236.5,482.7 237.1,482.5 237.8,482.5 238.4,482.6 239.1,482.4 239.7,482.7 240.3,482.9 241.0,482.5 241.6,482.3 242.2,482.2" fill="none" stroke="#161616" stroke-width="1.85" stroke-linejoin="round" stroke-linecap="round" clip-path="url(#cF)"/>
<polyline points="61.8,473.3 62.5,473.0 63.1,473.8 63.7,473.2 64.4,470.2 65.0,469.9 65.7,470.8 66.3,470.1 66.9,469.2 67.6,468.2 68.2,469.2 68.8,469.7 69.5,469.1 70.1,467.9 70.8,467.6 71.4,465.6 72.0,465.4 72.7,465.1 73.3,466.2 73.9,467.3 74.6,468.0 75.2,465.0 75.8,466.2 76.5,465.0 77.1,465.5 77.8,466.6 78.4,467.4 79.0,467.6 79.7,468.0 80.3,467.9 81.0,469.4 81.6,469.1 82.2,469.3 82.9,468.6 83.5,469.8 84.1,471.5 84.8,472.7 85.4,472.4 86.0,472.7 86.7,473.3 87.3,474.1 88.0,474.9 88.6,475.3 89.2,477.4 89.9,478.5 90.5,479.6 91.2,479.6 91.8,479.4 92.4,479.9 93.1,479.5 93.7,481.1 94.3,482.2 95.0,482.8 95.6,484.0 96.2,484.5 96.9,485.4 97.5,486.4 98.2,487.5 98.8,488.2 99.4,489.2 100.1,490.4 100.7,491.2 101.3,492.4 102.0,493.2 102.6,494.3 103.3,495.4 103.9,496.3 104.5,497.3 105.2,498.2 105.8,499.0 106.5,500.2 107.1,500.9 107.7,502.2 108.4,502.9 109.0,503.8 109.6,504.9 110.3,506.4 110.9,507.5 111.5,508.1 112.2,509.4 112.8,510.0 113.5,511.2 114.1,512.4 114.7,513.8 115.4,514.2 116.0,515.2 116.7,516.4 117.3,517.7 117.9,518.1 118.6,518.8 119.2,519.6 119.8,520.4 120.5,521.3 121.1,522.0 121.8,522.6 122.4,523.3 123.0,523.5 123.7,523.8 124.3,524.2 124.9,524.9 125.6,525.1 126.2,524.9 126.8,524.9 127.5,524.9 128.1,524.8 128.8,524.4 129.4,524.1 130.0,523.6 130.7,523.4 131.3,522.8 131.9,522.3 132.6,521.9 133.2,521.1 133.9,520.3 134.5,519.2 135.1,518.2 135.8,517.3 136.4,516.0 137.1,515.4 137.7,514.0 138.3,513.1 139.0,512.0 139.6,510.6 140.2,509.3 140.9,508.0 141.5,506.9 142.2,505.7 142.8,504.2 143.4,503.2 144.1,501.8 144.7,500.9 145.3,499.8 146.0,498.7 146.6,497.5 147.2,496.5 147.9,495.7 148.5,495.1 149.2,493.6 149.8,492.8 150.4,492.1 151.1,491.6 151.7,490.6 152.3,490.4 153.0,489.7 153.6,488.8 154.3,488.1 154.9,487.7 155.5,487.1 156.2,486.3 156.8,486.1 157.4,486.0 158.1,485.7 158.7,485.5 159.4,485.0 160.0,484.7 160.6,484.3 161.3,484.6 161.9,484.3 162.6,483.9 163.2,484.0 163.8,483.7 164.5,483.6 165.1,483.7 165.7,483.4 166.4,483.1 167.0,483.1 167.7,483.1 168.3,482.9 168.9,482.7 169.6,482.7 170.2,482.7 170.8,483.0 171.5,482.9 172.1,482.9 172.8,482.3 173.4,482.5 174.0,482.3 174.7,482.6 175.3,482.8 175.9,482.7 176.6,482.6 177.2,482.5 177.8,482.5 178.5,482.3 179.1,482.3 179.8,482.7 180.4,482.7 181.0,482.5 181.7,482.7 182.3,482.9 182.9,482.8 183.6,482.6 184.2,482.4 184.9,482.5 185.5,482.4 186.1,482.6 186.8,482.7 187.4,482.4 188.1,482.5 188.7,482.5 189.3,482.7 190.0,482.6 190.6,482.3 191.2,482.9 191.9,482.9 192.5,482.7 193.1,482.6 193.8,482.2 194.4,482.1 195.1,481.8 195.7,481.9 196.3,481.9 197.0,481.7 197.6,482.3 198.2,482.0 198.9,482.4 199.5,482.4 200.2,482.2 200.8,482.3 201.4,482.9 202.1,482.6 202.7,483.0 203.4,482.8 204.0,483.0 204.6,482.7 205.3,482.7 205.9,482.7 206.5,482.9 207.2,482.9 207.8,482.9 208.4,482.7 209.1,482.5 209.7,482.3 210.4,482.1 211.0,482.4 211.6,482.4 212.3,482.2 212.9,482.3 213.6,482.8 214.2,482.5 214.8,482.3 215.5,482.2 216.1,482.3 216.7,482.5 217.4,482.5 218.0,482.2 218.7,482.1 219.3,482.2 219.9,481.9 220.6,482.1 221.2,482.2 221.8,482.2 222.5,481.9 223.1,482.0 223.8,482.1 224.4,482.5 225.0,482.6 225.7,482.4 226.3,482.6 226.9,482.2 227.6,482.2 228.2,482.6 228.8,482.4 229.5,482.3 230.1,481.9 230.8,482.1 231.4,482.4 232.0,482.5 232.7,482.4 233.3,482.3 233.9,482.4 234.6,482.6 235.2,482.5 235.9,482.8 236.5,482.6 237.1,482.6 237.8,482.3 238.4,482.4 239.1,482.6 239.7,482.4 240.3,482.4 241.0,483.0 241.6,483.0 242.2,482.8" fill="none" stroke="#2fa55a" stroke-width="1.85" stroke-linejoin="round" stroke-linecap="round" clip-path="url(#cF)"/>
<text x="92.0" y="570.5" font-size="14.2" text-anchor="middle" fill="#161616" stroke="#161616" stroke-width="0.3" >400</text>
<text x="134.5" y="570.5" font-size="14.2" text-anchor="middle" fill="#161616" stroke="#161616" stroke-width="0.3" >500</text>
<text x="177.0" y="570.5" font-size="14.2" text-anchor="middle" fill="#161616" stroke="#161616" stroke-width="0.3" >600</text>
<text x="219.5" y="570.5" font-size="14.2" text-anchor="middle" fill="#161616" stroke="#161616" stroke-width="0.3" >700</text>
<text x="58.0" y="434.1" font-size="14.2" text-anchor="end" fill="#161616" stroke="#161616" stroke-width="0.3" >0.04</text>
<text x="58.0" y="460.8" font-size="14.2" text-anchor="end" fill="#161616" stroke="#161616" stroke-width="0.3" >0.02</text>
<text x="58.0" y="487.5" font-size="14.2" text-anchor="end" fill="#161616" stroke="#161616" stroke-width="0.3" >0.00</text>
<text x="58.0" y="514.2" font-size="14.2" text-anchor="end" fill="#161616" stroke="#161616" stroke-width="0.3" >-<tspan dx="2.0">0.02</tspan></text>
<text x="58.0" y="540.9" font-size="14.2" text-anchor="end" fill="#161616" stroke="#161616" stroke-width="0.3" >-<tspan dx="2.0">0.04</tspan></text>
<text x="81.8" y="442.0" font-size="18.9" text-anchor="middle" fill="#161616" stroke="#161616" stroke-width="0.3" >(F)</text>
<text x="201.8" y="445.1" font-size="19.3" text-anchor="middle" fill="#161616" stroke="#161616" stroke-width="0.3" >G90S</text>
<text x="154.6" y="448.1" font-size="15.6" text-anchor="middle" fill="#d61d30" stroke="#d61d30" stroke-width="0.3" >2</text>
<line x1="138.5" y1="449.0" x2="149.5" y2="444.8" stroke="#d61d30" stroke-width="1.8"/>
<text x="164.7" y="459.9" font-size="15.6" text-anchor="middle" fill="#28368f" stroke="#28368f" stroke-width="0.3" >4</text>
<line x1="145.0" y1="462.2" x2="158.5" y2="456.4" stroke="#28368f" stroke-width="1.8"/>
<text x="158.5" y="523.7" font-size="15.6" text-anchor="middle" fill="#2fa55a" stroke="#2fa55a" stroke-width="0.3" >3</text>
<line x1="140.8" y1="512.6" x2="153.6" y2="517.4" stroke="#2fa55a" stroke-width="1.8"/>
<text x="154.6" y="542.0" font-size="15.6" text-anchor="middle" fill="#161616" stroke="#161616" stroke-width="0.3" >1</text>
<line x1="136.0" y1="528.6" x2="149.5" y2="534.1" stroke="#161616" stroke-width="1.8"/>
<text x="150.2" y="594.2" font-size="18.9" text-anchor="middle" fill="#161616" stroke="#161616" stroke-width="0.3" >Wavelength (nm)</text>
<rect x="280.3" y="414" width="183.5" height="137.79999999999995" fill="none" stroke="#161616" stroke-width="1.8"/>
<line x1="312.8" x2="312.8" y1="551.8" y2="541.8" stroke="#161616" stroke-width="1.7"/>
<line x1="312.8" x2="312.8" y1="414" y2="424" stroke="#161616" stroke-width="1.7"/>
<line x1="355.3" x2="355.3" y1="551.8" y2="541.8" stroke="#161616" stroke-width="1.7"/>
<line x1="355.3" x2="355.3" y1="414" y2="424" stroke="#161616" stroke-width="1.7"/>
<line x1="397.8" x2="397.8" y1="551.8" y2="541.8" stroke="#161616" stroke-width="1.7"/>
<line x1="397.8" x2="397.8" y1="414" y2="424" stroke="#161616" stroke-width="1.7"/>
<line x1="440.3" x2="440.3" y1="551.8" y2="541.8" stroke="#161616" stroke-width="1.7"/>
<line x1="440.3" x2="440.3" y1="414" y2="424" stroke="#161616" stroke-width="1.7"/>
<line x1="280.3" x2="291.3" y1="415.8" y2="415.8" stroke="#161616" stroke-width="1.7"/>
<line x1="463.8" x2="452.8" y1="415.8" y2="415.8" stroke="#161616" stroke-width="1.7"/>
<line x1="280.3" x2="291.3" y1="449.2" y2="449.2" stroke="#161616" stroke-width="1.7"/>
<line x1="463.8" x2="452.8" y1="449.2" y2="449.2" stroke="#161616" stroke-width="1.7"/>
<line x1="280.3" x2="291.3" y1="516.0" y2="516.0" stroke="#161616" stroke-width="1.7"/>
<line x1="463.8" x2="452.8" y1="516.0" y2="516.0" stroke="#161616" stroke-width="1.7"/>
<line x1="280.3" x2="291.3" y1="549.4" y2="549.4" stroke="#161616" stroke-width="1.7"/>
<line x1="463.8" x2="452.8" y1="549.4" y2="549.4" stroke="#161616" stroke-width="1.7"/>
<line x1="280.3" x2="463.8" y1="482.6" y2="482.6" stroke="#161616" stroke-width="1.5"/>
<polyline points="282.6,499.9 283.3,500.4 283.9,500.6 284.5,500.0 285.2,500.2 285.8,501.4 286.4,502.3 287.1,503.0 287.7,502.8 288.4,502.8 289.0,502.8 289.6,501.9 290.3,502.5 290.9,503.8 291.6,503.6 292.2,503.4 292.8,504.2 293.5,504.9 294.1,504.1 294.7,504.3 295.4,503.8 296.0,503.2 296.7,502.9 297.3,502.6 297.9,501.8 298.6,501.4 299.2,500.7 299.8,500.3 300.5,499.5 301.1,498.9 301.8,498.3 302.4,497.1 303.0,496.1 303.7,495.9 304.3,494.7 304.9,494.0 305.6,493.3 306.2,492.6 306.9,491.8 307.5,490.6 308.1,490.2 308.8,489.6 309.4,488.9 310.0,487.7 310.7,486.9 311.3,486.2 311.9,485.3 312.6,484.4 313.2,483.9 313.9,483.4 314.5,482.7 315.1,481.9 315.8,481.3 316.4,480.3 317.1,479.7 317.7,479.1 318.3,478.2 319.0,477.6 319.6,476.8 320.2,476.1 320.9,475.5 321.5,474.7 322.2,474.0 322.8,473.1 323.4,472.3 324.1,471.6 324.7,470.8 325.3,470.1 326.0,469.2 326.6,468.0 327.2,467.3 327.9,466.7 328.5,465.9 329.2,464.8 329.8,463.9 330.4,462.8 331.1,462.1 331.7,461.2 332.4,460.5 333.0,459.3 333.6,458.4 334.3,457.4 334.9,456.3 335.5,455.4 336.2,454.3 336.8,453.5 337.4,452.5 338.1,451.9 338.7,451.3 339.4,450.4 340.0,449.5 340.6,449.2 341.3,448.4 341.9,447.7 342.6,447.2 343.2,446.3 343.8,445.7 344.5,445.3 345.1,444.9 345.7,444.6 346.4,444.1 347.0,443.8 347.7,443.5 348.3,443.2 348.9,443.1 349.6,443.0 350.2,443.1 350.8,443.2 351.5,443.3 352.1,443.6 352.8,443.9 353.4,444.4 354.0,444.7 354.7,445.2 355.3,445.8 355.9,446.6 356.6,447.6 357.2,448.1 357.9,449.2 358.5,450.0 359.1,451.0 359.8,451.9 360.4,452.8 361.0,453.8 361.7,455.1 362.3,456.3 362.9,457.3 363.6,458.4 364.2,459.4 364.9,460.5 365.5,461.3 366.1,462.7 366.8,463.7 367.4,464.8 368.1,465.9 368.7,467.0 369.3,467.8 370.0,468.9 370.6,469.8 371.2,470.5 371.9,471.2 372.5,472.1 373.1,473.0 373.8,473.9 374.4,474.4 375.1,475.1 375.7,475.8 376.3,476.2 377.0,476.6 377.6,477.2 378.2,477.7 378.9,478.1 379.5,478.3 380.2,479.0 380.8,479.3 381.4,479.4 382.1,479.7 382.7,480.1 383.4,480.5 384.0,480.7 384.6,481.1 385.3,481.1 385.9,480.9 386.5,481.1 387.2,481.3 387.8,481.4 388.5,481.8 389.1,481.8 389.7,481.6 390.4,481.7 391.0,481.9 391.6,482.0 392.3,482.2 392.9,482.3 393.6,482.2 394.2,482.4 394.8,482.5 395.5,482.5 396.1,482.3 396.7,482.6 397.4,482.5 398.0,482.5 398.6,482.5 399.3,482.5 399.9,482.7 400.6,482.7 401.2,482.8 401.8,482.7 402.5,482.6 403.1,482.5 403.8,482.6 404.4,482.7 405.0,482.5 405.7,482.5 406.3,482.2 406.9,482.4 407.6,482.6 408.2,482.6 408.9,482.7 409.5,482.7 410.1,482.6 410.8,482.5 411.4,482.4 412.0,482.8 412.7,482.6 413.3,482.7 413.9,482.5 414.6,482.4 415.2,482.7 415.9,482.8 416.5,482.9 417.1,483.0 417.8,483.0 418.4,482.9 419.1,482.9 419.7,482.9 420.3,482.9 421.0,482.9 421.6,482.9 422.2,482.6 422.9,482.6 423.5,482.5 424.2,482.8 424.8,482.8 425.4,482.8 426.1,482.7 426.7,482.6 427.3,482.6 428.0,482.6 428.6,482.7 429.2,482.6 429.9,483.0 430.5,482.6 431.2,482.4 431.8,482.4 432.4,482.5 433.1,482.6 433.7,482.5 434.4,482.5 435.0,482.5 435.6,482.4 436.3,482.3 436.9,482.8 437.5,482.9 438.2,482.8 438.8,482.8 439.5,482.8 440.1,482.8 440.7,482.8 441.4,482.8 442.0,482.7 442.6,482.9 443.3,482.8 443.9,482.8 444.6,482.8 445.2,482.8 445.8,482.6 446.5,482.7 447.1,482.6 447.7,482.7 448.4,482.8 449.0,482.7 449.6,482.4 450.3,482.6 450.9,482.8 451.6,483.0 452.2,482.7 452.8,482.7 453.5,482.5 454.1,482.6 454.8,482.6 455.4,483.0 456.0,482.8 456.7,482.5 457.3,482.5 457.9,482.4 458.6,482.4 459.2,482.5 459.9,482.7 460.5,482.5 461.1,482.8 461.8,482.6 462.4,482.6 463.0,482.6 463.7,482.8 464.3,482.8" fill="none" stroke="#28368f" stroke-width="1.85" stroke-linejoin="round" stroke-linecap="round" clip-path="url(#cG)"/>
<polyline points="282.6,500.0 283.3,500.4 283.9,500.6 284.5,502.4 285.2,502.8 285.8,503.1 286.4,502.6 287.1,503.7 287.7,504.6 288.4,504.5 289.0,505.2 289.6,505.2 290.3,505.8 290.9,505.7 291.6,506.3 292.2,506.5 292.8,505.1 293.5,505.9 294.1,504.8 294.7,505.0 295.4,504.7 296.0,504.5 296.7,503.7 297.3,503.2 297.9,502.8 298.6,502.6 299.2,502.1 299.8,501.4 300.5,500.9 301.1,499.3 301.8,498.5 302.4,497.9 303.0,497.8 303.7,497.0 304.3,495.8 304.9,494.7 305.6,493.9 306.2,493.2 306.9,492.3 307.5,491.6 308.1,490.0 308.8,489.0 309.4,488.7 310.0,487.6 310.7,486.8 311.3,485.6 311.9,485.5 312.6,484.5 313.2,483.8 313.9,483.3 314.5,482.6 315.1,482.1 315.8,481.0 316.4,480.4 317.1,479.5 317.7,478.8 318.3,478.2 319.0,477.7 319.6,477.0 320.2,476.1 320.9,475.2 321.5,474.8 322.2,474.1 322.8,473.5 323.4,472.7 324.1,471.8 324.7,471.0 325.3,470.1 326.0,469.4 326.6,468.6 327.2,467.7 327.9,466.8 328.5,465.9 329.2,465.2 329.8,464.0 330.4,463.0 331.1,462.0 331.7,461.1 332.4,460.2 333.0,459.1 333.6,458.2 334.3,457.2 334.9,456.3 335.5,455.5 336.2,454.6 336.8,453.8 337.4,452.6 338.1,451.9 338.7,450.9 339.4,450.3 340.0,449.6 340.6,448.7 341.3,448.1 341.9,447.2 342.6,446.6 343.2,446.2 343.8,445.7 344.5,445.3 345.1,444.7 345.7,444.3 346.4,443.8 347.0,443.4 347.7,443.5 348.3,443.1 348.9,442.7 349.6,442.9 350.2,443.0 350.8,442.9 351.5,443.4 352.1,443.4 352.8,444.1 353.4,444.4 354.0,444.8 354.7,445.2 355.3,445.9 355.9,446.2 356.6,447.1 357.2,448.0 357.9,449.0 358.5,449.8 359.1,450.8 359.8,451.9 360.4,452.8 361.0,453.8 361.7,454.8 362.3,456.0 362.9,457.2 363.6,458.3 364.2,459.5 364.9,460.3 365.5,461.2 366.1,462.4 366.8,463.6 367.4,464.8 368.1,465.9 368.7,467.2 369.3,468.1 370.0,469.0 370.6,469.6 371.2,470.5 371.9,471.4 372.5,472.3 373.1,473.1 373.8,473.7 374.4,474.4 375.1,474.9 375.7,475.4 376.3,475.9 377.0,476.4 377.6,477.2 378.2,477.5 378.9,478.2 379.5,478.7 380.2,479.0 380.8,479.4 381.4,479.6 382.1,479.9 382.7,480.0 383.4,480.3 384.0,480.5 384.6,480.8 385.3,481.1 385.9,481.2 386.5,481.4 387.2,481.7 387.8,482.1 388.5,482.1 389.1,482.1 389.7,481.9 390.4,482.0 391.0,481.8 391.6,481.8 392.3,482.0 392.9,482.1 393.6,482.2 394.2,482.2 394.8,482.3 395.5,482.4 396.1,482.3 396.7,482.4 397.4,482.4 398.0,482.6 398.6,482.4 399.3,482.4 399.9,482.3 400.6,482.3 401.2,482.5 401.8,482.5 402.5,482.5 403.1,482.4 403.8,482.4 404.4,482.5 405.0,482.8 405.7,482.7 406.3,482.7 406.9,482.9 407.6,482.9 408.2,483.0 408.9,482.8 409.5,482.8 410.1,482.8 410.8,482.7 411.4,482.7 412.0,482.9 412.7,482.6 413.3,482.4 413.9,482.3 414.6,482.5 415.2,482.6 415.9,482.3 416.5,482.6 417.1,482.5 417.8,482.5 418.4,482.4 419.1,482.4 419.7,482.6 420.3,482.6 421.0,482.6 421.6,482.7 422.2,482.5 422.9,482.5 423.5,482.6 424.2,482.5 424.8,482.6 425.4,482.8 426.1,482.6 426.7,482.6 427.3,482.4 428.0,482.4 428.6,482.3 429.2,482.5 429.9,482.8 430.5,482.6 431.2,482.7 431.8,482.7 432.4,482.4 433.1,482.4 433.7,482.7 434.4,482.7 435.0,482.7 435.6,482.6 436.3,482.6 436.9,482.4 437.5,482.7 438.2,482.6 438.8,482.8 439.5,482.7 440.1,482.4 440.7,482.3 441.4,482.4 442.0,482.3 442.6,482.5 443.3,482.5 443.9,482.5 444.6,482.6 445.2,482.6 445.8,482.6 446.5,482.7 447.1,482.8 447.7,482.7 448.4,482.7 449.0,482.7 449.6,482.5 450.3,482.5 450.9,482.8 451.6,482.5 452.2,482.7 452.8,482.5 453.5,482.5 454.1,482.7 454.8,482.9 455.4,482.9 456.0,482.8 456.7,482.6 457.3,482.6 457.9,482.5 458.6,482.4 459.2,482.3 459.9,482.2 460.5,482.3 461.1,482.3 461.8,482.4 462.4,482.4 463.0,482.4 463.7,482.4 464.3,482.4" fill="none" stroke="#d61d30" stroke-width="1.85" stroke-linejoin="round" stroke-linecap="round" clip-path="url(#cG)"/>
<polyline points="282.6,471.3 283.3,470.8 283.9,469.8 284.5,469.4 285.2,467.4 285.8,466.2 286.4,465.7 287.1,465.3 287.7,465.8 288.4,465.3 289.0,464.3 289.6,464.2 290.3,464.5 290.9,463.4 291.6,462.5 292.2,462.2 292.8,462.3 293.5,461.4 294.1,462.0 294.7,461.5 295.4,460.3 296.0,461.3 296.7,460.9 297.3,461.7 297.9,462.1 298.6,462.6 299.2,462.8 299.8,463.4 300.5,464.7 301.1,464.7 301.8,465.1 302.4,466.1 303.0,466.5 303.7,467.6 304.3,468.0 304.9,468.6 305.6,469.6 306.2,470.3 306.9,470.9 307.5,472.4 308.1,473.7 308.8,475.1 309.4,475.7 310.0,475.7 310.7,476.8 311.3,478.5 311.9,478.5 312.6,480.1 313.2,481.2 313.9,481.9 314.5,482.8 315.1,483.1 315.8,484.2 316.4,485.5 317.1,486.5 317.7,487.4 318.3,488.2 319.0,489.2 319.6,490.0 320.2,491.1 320.9,491.9 321.5,492.8 322.2,494.0 322.8,494.8 323.4,495.7 324.1,496.9 324.7,498.2 325.3,499.2 326.0,500.2 326.6,501.0 327.2,502.0 327.9,503.3 328.5,504.7 329.2,505.8 329.8,507.0 330.4,508.1 331.1,509.4 331.7,510.3 332.4,511.6 333.0,512.9 333.6,514.2 334.3,515.5 334.9,517.0 335.5,517.9 336.2,519.2 336.8,520.2 337.4,521.5 338.1,522.8 338.7,523.8 339.4,524.7 340.0,525.6 340.6,526.8 341.3,527.5 341.9,528.3 342.6,529.1 343.2,530.3 343.8,530.9 344.5,531.8 345.1,532.3 345.7,532.6 346.4,532.9 347.0,533.3 347.7,533.6 348.3,533.8 348.9,534.1 349.6,534.3 350.2,534.2 350.8,533.7 351.5,533.6 352.1,533.6 352.8,533.4 353.4,532.7 354.0,531.9 354.7,531.2 355.3,530.6 355.9,529.9 356.6,528.7 357.2,527.4 357.9,526.5 358.5,525.3 359.1,524.1 359.8,523.0 360.4,521.7 361.0,520.1 361.7,518.5 362.3,517.0 362.9,515.5 363.6,514.2 364.2,512.8 364.9,511.5 365.5,509.9 366.1,508.6 366.8,507.1 367.4,505.9 368.1,504.5 368.7,503.4 369.3,502.0 370.0,500.8 370.6,499.7 371.2,498.2 371.9,497.2 372.5,496.2 373.1,495.2 373.8,494.2 374.4,493.1 375.1,492.4 375.7,491.5 376.3,491.1 377.0,490.5 377.6,489.7 378.2,489.1 378.9,488.8 379.5,487.9 380.2,487.5 380.8,487.1 381.4,486.7 382.1,486.4 382.7,485.7 383.4,485.3 384.0,485.0 384.6,484.6 385.3,484.5 385.9,484.3 386.5,484.0 387.2,483.8 387.8,483.7 388.5,483.7 389.1,483.8 389.7,483.5 390.4,483.5 391.0,483.5 391.6,483.4 392.3,483.3 392.9,483.0 393.6,483.0 394.2,482.9 394.8,482.6 395.5,482.9 396.1,482.7 396.7,482.8 397.4,482.8 398.0,482.8 398.6,482.7 399.3,482.8 399.9,482.7 400.6,482.6 401.2,482.6 401.8,482.7 402.5,482.8 403.1,482.7 403.8,482.5 404.4,482.5 405.0,482.3 405.7,482.2 406.3,482.4 406.9,482.7 407.6,482.5 408.2,482.6 408.9,482.6 409.5,482.9 410.1,482.8 410.8,482.7 411.4,482.9 412.0,482.8 412.7,482.5 413.3,482.5 413.9,482.7 414.6,482.6 415.2,482.7 415.9,482.6 416.5,482.4 417.1,482.4 417.8,482.7 418.4,482.6 419.1,482.9 419.7,482.7 420.3,483.0 421.0,482.9 421.6,482.8 422.2,482.8 422.9,482.6 423.5,482.7 424.2,482.6 424.8,482.4 425.4,482.4 426.1,482.6 426.7,482.7 427.3,482.7 428.0,482.2 428.6,482.3 429.2,482.7 429.9,482.7 430.5,482.7 431.2,482.7 431.8,482.5 432.4,482.5 433.1,482.6 433.7,482.8 434.4,482.8 435.0,482.7 435.6,482.7 436.3,482.7 436.9,482.8 437.5,482.7 438.2,482.7 438.8,482.7 439.5,483.0 440.1,482.8 440.7,482.8 441.4,483.0 442.0,482.7 442.6,482.8 443.3,482.8 443.9,482.8 444.6,482.6 445.2,482.5 445.8,482.5 446.5,482.3 447.1,482.6 447.7,482.5 448.4,482.4 449.0,482.4 449.6,482.5 450.3,482.6 450.9,482.5 451.6,482.6 452.2,482.4 452.8,482.4 453.5,482.6 454.1,482.4 454.8,482.8 455.4,482.7 456.0,482.4 456.7,482.4 457.3,482.3 457.9,482.3 458.6,482.4 459.2,482.5 459.9,482.7 460.5,482.7 461.1,482.6 461.8,482.6 462.4,482.7 463.0,482.6 463.7,482.4 464.3,482.5" fill="none" stroke="#161616" stroke-width="1.85" stroke-linejoin="round" stroke-linecap="round" clip-path="url(#cG)"/>
<polyline points="282.6,472.8 283.3,472.9 283.9,471.5 284.5,470.6 285.2,470.0 285.8,470.0 286.4,470.2 287.1,469.6 287.7,469.0 288.4,468.3 289.0,467.2 289.6,466.6 290.3,466.6 290.9,467.3 291.6,466.8 292.2,467.7 292.8,466.3 293.5,465.8 294.1,466.3 294.7,466.2 295.4,467.1 296.0,466.3 296.7,467.9 297.3,467.9 297.9,467.1 298.6,467.5 299.2,467.2 299.8,467.7 300.5,467.6 301.1,468.1 301.8,468.9 302.4,469.6 303.0,470.3 303.7,470.7 304.3,471.3 304.9,472.6 305.6,473.0 306.2,472.9 306.9,473.4 307.5,474.6 308.1,475.3 308.8,476.4 309.4,477.5 310.0,478.3 310.7,478.7 311.3,478.8 311.9,480.2 312.6,480.4 313.2,480.8 313.9,481.0 314.5,482.3 315.1,482.6 315.8,483.0 316.4,484.5 317.1,485.6 317.7,486.6 318.3,486.8 319.0,487.6 319.6,488.4 320.2,489.1 320.9,489.8 321.5,490.6 322.2,491.5 322.8,492.2 323.4,492.8 324.1,493.5 324.7,494.4 325.3,495.4 326.0,496.1 326.6,496.9 327.2,497.9 327.9,498.5 328.5,499.5 329.2,500.3 329.8,501.3 330.4,502.3 331.1,503.2 331.7,504.1 332.4,505.2 333.0,505.9 333.6,506.7 334.3,507.7 334.9,509.0 335.5,509.9 336.2,510.9 336.8,511.7 337.4,512.3 338.1,513.2 338.7,514.0 339.4,514.8 340.0,515.9 340.6,516.6 341.3,517.2 341.9,517.8 342.6,518.5 343.2,519.3 343.8,520.1 344.5,520.4 345.1,520.8 345.7,521.2 346.4,521.6 347.0,521.7 347.7,522.0 348.3,522.0 348.9,522.3 349.6,522.4 350.2,522.3 350.8,522.4 351.5,522.3 352.1,521.9 352.8,521.6 353.4,521.3 354.0,520.7 354.7,520.1 355.3,519.7 355.9,519.1 356.6,518.3 357.2,517.5 357.9,516.7 358.5,515.7 359.1,514.8 359.8,513.8 360.4,512.5 361.0,511.1 361.7,510.2 362.3,509.2 362.9,508.4 363.6,507.3 364.2,506.1 364.9,505.0 365.5,503.7 366.1,502.5 366.8,501.2 367.4,500.2 368.1,499.4 368.7,498.4 369.3,497.7 370.0,496.4 370.6,495.8 371.2,494.6 371.9,493.8 372.5,492.9 373.1,492.5 373.8,491.7 374.4,491.1 375.1,490.5 375.7,489.9 376.3,489.2 377.0,488.5 377.6,487.9 378.2,487.6 378.9,487.1 379.5,486.5 380.2,486.4 380.8,485.6 381.4,485.5 382.1,485.3 382.7,485.1 383.4,484.5 384.0,484.5 384.6,484.4 385.3,484.3 385.9,484.1 386.5,483.7 387.2,483.6 387.8,483.4 388.5,483.1 389.1,483.2 389.7,483.2 390.4,482.9 391.0,483.0 391.6,482.9 392.3,483.1 392.9,483.1 393.6,483.2 394.2,483.1 394.8,482.9 395.5,482.9 396.1,482.6 396.7,482.7 397.4,482.6 398.0,482.7 398.6,482.7 399.3,482.4 399.9,482.5 400.6,482.4 401.2,482.4 401.8,482.6 402.5,482.5 403.1,482.5 403.8,482.4 404.4,482.4 405.0,482.4 405.7,482.4 406.3,482.7 406.9,482.8 407.6,482.7 408.2,482.6 408.9,482.6 409.5,482.3 410.1,482.5 410.8,482.7 411.4,482.5 412.0,482.8 412.7,482.6 413.3,482.8 413.9,482.6 414.6,482.4 415.2,482.4 415.9,482.8 416.5,482.5 417.1,482.5 417.8,482.5 418.4,482.6 419.1,482.7 419.7,482.6 420.3,482.6 421.0,482.8 421.6,482.6 422.2,482.8 422.9,482.8 423.5,482.6 424.2,482.5 424.8,482.5 425.4,482.5 426.1,482.5 426.7,482.5 427.3,482.3 428.0,482.7 428.6,482.7 429.2,482.7 429.9,482.8 430.5,482.6 431.2,482.7 431.8,482.8 432.4,482.8 433.1,482.8 433.7,482.7 434.4,482.7 435.0,482.6 435.6,482.7 436.3,482.4 436.9,482.6 437.5,482.5 438.2,482.6 438.8,482.6 439.5,482.7 440.1,482.9 440.7,482.7 441.4,482.9 442.0,482.6 442.6,482.5 443.3,482.5 443.9,482.3 444.6,482.2 445.2,482.5 445.8,482.7 446.5,482.8 447.1,482.7 447.7,482.5 448.4,482.5 449.0,482.7 449.6,482.5 450.3,482.6 450.9,482.7 451.6,482.6 452.2,482.6 452.8,482.5 453.5,482.9 454.1,482.8 454.8,482.6 455.4,482.5 456.0,482.4 456.7,482.8 457.3,482.8 457.9,482.7 458.6,482.5 459.2,482.5 459.9,482.6 460.5,482.3 461.1,482.6 461.8,482.6 462.4,482.7 463.0,482.9 463.7,482.8 464.3,482.8" fill="none" stroke="#2fa55a" stroke-width="1.85" stroke-linejoin="round" stroke-linecap="round" clip-path="url(#cG)"/>
<text x="312.8" y="570.5" font-size="14.2" text-anchor="middle" fill="#161616" stroke="#161616" stroke-width="0.3" >400</text>
<text x="355.3" y="570.5" font-size="14.2" text-anchor="middle" fill="#161616" stroke="#161616" stroke-width="0.3" >500</text>
<text x="397.8" y="570.5" font-size="14.2" text-anchor="middle" fill="#161616" stroke="#161616" stroke-width="0.3" >600</text>
<text x="440.3" y="570.5" font-size="14.2" text-anchor="middle" fill="#161616" stroke="#161616" stroke-width="0.3" >700</text>
<text x="278.1" y="420.8" font-size="14.2" text-anchor="end" fill="#161616" stroke="#161616" stroke-width="0.3" >0.10</text>
<text x="278.1" y="454.2" font-size="14.2" text-anchor="end" fill="#161616" stroke="#161616" stroke-width="0.3" >0.05</text>
<text x="278.1" y="487.6" font-size="14.2" text-anchor="end" fill="#161616" stroke="#161616" stroke-width="0.3" >0.00</text>
<text x="278.1" y="521.0" font-size="14.2" text-anchor="end" fill="#161616" stroke="#161616" stroke-width="0.3" >-<tspan dx="2.0">0.05</tspan></text>
<text x="278.1" y="554.4" font-size="14.2" text-anchor="end" fill="#161616" stroke="#161616" stroke-width="0.3" >-<tspan dx="2.0">0.10</tspan></text>
<text x="303.7" y="442.0" font-size="18.9" text-anchor="middle" fill="#161616" stroke="#161616" stroke-width="0.3" >(G)</text>
<text x="420.5" y="444.6" font-size="19.0" text-anchor="middle" fill="#161616" stroke="#161616" stroke-width="0.3" >G90T</text>
<text x="378.3" y="449.9" font-size="15.6" text-anchor="middle" fill="#d61d30" stroke="#d61d30" stroke-width="0.3" >2</text>
<line x1="360.8" y1="451.0" x2="373.3" y2="446.0" stroke="#d61d30" stroke-width="1.8"/>
<text x="386.7" y="462.9" font-size="15.6" text-anchor="middle" fill="#28368f" stroke="#28368f" stroke-width="0.3" >4</text>
<line x1="366.6" y1="463.1" x2="381.0" y2="457.7" stroke="#28368f" stroke-width="1.8"/>
<text x="380.3" y="523.3" font-size="15.6" text-anchor="middle" fill="#2fa55a" stroke="#2fa55a" stroke-width="0.3" >3</text>
<line x1="362.5" y1="511.8" x2="376.0" y2="516.8" stroke="#2fa55a" stroke-width="1.8"/>
<text x="377.6" y="539.1" font-size="15.6" text-anchor="middle" fill="#161616" stroke="#161616" stroke-width="0.3" >1</text>
<line x1="357.5" y1="526.9" x2="371.9" y2="531.9" stroke="#161616" stroke-width="1.8"/>
<text x="371.1" y="594.2" font-size="18.9" text-anchor="middle" fill="#161616" stroke="#161616" stroke-width="0.3" >Wavelength (nm)</text>
<rect x="501.8" y="414" width="182.7" height="137.79999999999995" fill="none" stroke="#161616" stroke-width="1.8"/>
<line x1="533.8" x2="533.8" y1="551.8" y2="541.8" stroke="#161616" stroke-width="1.7"/>
<line x1="533.8" x2="533.8" y1="414" y2="424" stroke="#161616" stroke-width="1.7"/>
<line x1="576.0" x2="576.0" y1="551.8" y2="541.8" stroke="#161616" stroke-width="1.7"/>
<line x1="576.0" x2="576.0" y1="414" y2="424" stroke="#161616" stroke-width="1.7"/>
<line x1="618.2" x2="618.2" y1="551.8" y2="541.8" stroke="#161616" stroke-width="1.7"/>
<line x1="618.2" x2="618.2" y1="414" y2="424" stroke="#161616" stroke-width="1.7"/>
<line x1="660.4" x2="660.4" y1="551.8" y2="541.8" stroke="#161616" stroke-width="1.7"/>
<line x1="660.4" x2="660.4" y1="414" y2="424" stroke="#161616" stroke-width="1.7"/>
<line x1="501.8" x2="512.8" y1="416.0" y2="416.0" stroke="#161616" stroke-width="1.7"/>
<line x1="684.5" x2="673.5" y1="416.0" y2="416.0" stroke="#161616" stroke-width="1.7"/>
<line x1="501.8" x2="512.8" y1="449.4" y2="449.4" stroke="#161616" stroke-width="1.7"/>
<line x1="684.5" x2="673.5" y1="449.4" y2="449.4" stroke="#161616" stroke-width="1.7"/>
<line x1="501.8" x2="512.8" y1="516.2" y2="516.2" stroke="#161616" stroke-width="1.7"/>
<line x1="684.5" x2="673.5" y1="516.2" y2="516.2" stroke="#161616" stroke-width="1.7"/>
<line x1="501.8" x2="512.8" y1="549.6" y2="549.6" stroke="#161616" stroke-width="1.7"/>
<line x1="684.5" x2="673.5" y1="549.6" y2="549.6" stroke="#161616" stroke-width="1.7"/>
<line x1="501.8" x2="684.5" y1="482.8" y2="482.8" stroke="#161616" stroke-width="1.5"/>
<polyline points="503.8,485.8 504.5,486.0 505.1,486.1 505.7,486.0 506.4,486.0 507.0,485.9 507.6,485.9 508.3,485.9 508.9,486.1 509.5,485.9 510.2,485.9 510.8,485.9 511.4,486.0 512.1,486.0 512.7,486.0 513.3,486.1 514.0,486.3 514.6,486.3 515.2,486.1 515.9,486.0 516.5,486.0 517.1,486.0 517.8,486.0 518.4,486.1 519.0,486.1 519.7,486.0 520.3,486.0 520.9,486.1 521.6,486.1 522.2,486.0 522.8,486.1 523.5,486.1 524.1,486.1 524.7,486.1 525.4,486.1 526.0,485.9 526.6,486.1 527.3,486.1 527.9,486.0 528.5,486.1 529.2,486.1 529.8,486.1 530.4,485.9 531.1,485.9 531.7,485.8 532.3,485.8 533.0,485.9 533.6,485.8 534.2,485.6 534.9,485.6 535.5,485.5 536.1,485.3 536.8,485.2 537.4,484.9 538.0,484.7 538.7,484.5 539.3,484.3 539.9,484.0 540.6,483.7 541.2,483.4 541.8,483.1 542.5,482.8 543.1,482.3 543.7,481.9 544.3,481.5 545.0,481.1 545.6,480.6 546.2,480.1 546.9,479.5 547.5,479.0 548.1,478.4 548.8,477.8 549.4,477.3 550.0,476.6 550.7,475.8 551.3,475.1 551.9,474.4 552.6,473.7 553.2,472.9 553.8,472.1 554.5,471.3 555.1,470.5 555.7,469.7 556.4,468.9 557.0,468.1 557.6,467.3 558.3,466.5 558.9,465.8 559.5,465.1 560.2,464.3 560.8,463.6 561.4,463.0 562.1,462.4 562.7,461.8 563.3,461.3 564.0,460.8 564.6,460.4 565.2,460.1 565.9,459.8 566.5,459.6 567.1,459.3 567.8,459.2 568.4,459.2 569.0,459.3 569.7,459.4 570.3,459.5 570.9,459.7 571.6,460.0 572.2,460.4 572.8,460.8 573.5,461.3 574.1,461.7 574.7,462.3 575.4,463.0 576.0,463.6 576.6,464.2 577.3,465.0 577.9,465.6 578.5,466.4 579.2,467.2 579.8,467.9 580.4,468.7 581.1,469.5 581.7,470.3 582.3,471.0 583.0,471.8 583.6,472.5 584.2,473.2 584.9,473.9 585.5,474.5 586.1,475.1 586.8,475.7 587.4,476.3 588.0,476.8 588.7,477.4 589.3,477.8 589.9,478.3 590.6,478.7 591.2,479.1 591.8,479.4 592.5,479.8 593.1,480.1 593.7,480.4 594.4,480.7 595.0,481.0 595.6,481.2 596.3,481.3 596.9,481.5 597.5,481.6 598.2,481.8 598.8,481.9 599.4,482.0 600.1,482.1 600.7,482.2 601.3,482.3 602.0,482.4 602.6,482.4 603.2,482.5 603.9,482.5 604.5,482.6 605.1,482.7 605.8,482.7 606.4,482.7 607.0,482.7 607.6,482.7 608.3,482.7 608.9,482.7 609.5,482.8 610.2,482.7 610.8,482.7 611.4,482.8 612.1,482.7 612.7,482.7 613.3,482.8 614.0,482.8 614.6,482.8 615.2,482.8 615.9,482.8 616.5,482.8 617.1,482.8 617.8,482.8 618.4,482.8 619.0,482.8 619.7,482.8 620.3,482.7 620.9,482.8 621.6,482.8 622.2,482.8 622.8,482.8 623.5,482.8 624.1,482.8 624.7,482.8 625.4,482.8 626.0,482.8 626.6,482.8 627.3,482.8 627.9,482.8 628.5,482.8 629.2,482.9 629.8,482.9 630.4,482.8 631.1,482.8 631.7,482.8 632.3,482.8 633.0,482.8 633.6,482.7 634.2,482.8 634.9,482.8 635.5,482.8 636.1,482.8 636.8,482.8 637.4,482.8 638.0,482.8 638.7,482.8 639.3,482.8 639.9,482.8 640.6,482.8 641.2,482.8 641.8,482.8 642.5,482.8 643.1,482.8 643.7,482.8 644.4,482.8 645.0,482.8 645.6,482.8 646.3,482.8 646.9,482.8 647.5,482.8 648.2,482.8 648.8,482.8 649.4,482.9 650.1,482.8 650.7,482.8 651.3,482.8 652.0,482.7 652.6,482.8 653.2,482.7 653.9,482.8 654.5,482.8 655.1,482.8 655.8,482.8 656.4,482.7 657.0,482.8 657.7,482.8 658.3,482.8 658.9,482.8 659.6,482.7 660.2,482.8 660.8,482.8 661.5,482.8 662.1,482.8 662.7,482.8 663.4,482.8 664.0,482.8 664.6,482.7 665.3,482.7 665.9,482.8 666.5,482.7 667.2,482.8 667.8,482.8 668.4,482.8 669.1,482.8 669.7,482.8 670.3,482.8 670.9,482.8 671.6,482.8 672.2,482.8 672.8,482.8 673.5,482.8 674.1,482.8 674.7,482.8 675.4,482.8 676.0,482.8 676.6,482.8 677.3,482.8 677.9,482.8 678.5,482.7 679.2,482.8 679.8,482.8 680.4,482.8 681.1,482.8 681.7,482.8 682.3,482.8 683.0,482.8 683.6,482.9 684.2,482.8 684.9,482.8" fill="none" stroke="#28368f" stroke-width="1.85" stroke-linejoin="round" stroke-linecap="round" clip-path="url(#cH)"/>
<polyline points="503.8,486.0 504.5,485.7 505.1,486.0 505.7,486.0 506.4,485.8 507.0,485.8 507.6,485.9 508.3,486.2 508.9,486.1 509.5,486.1 510.2,486.2 510.8,486.1 511.4,486.0 512.1,485.9 512.7,485.9 513.3,485.9 514.0,486.0 514.6,486.0 515.2,486.0 515.9,486.0 516.5,486.1 517.1,486.0 517.8,485.8 518.4,485.9 519.0,486.0 519.7,486.0 520.3,486.0 520.9,486.0 521.6,486.1 522.2,486.0 522.8,486.0 523.5,486.0 524.1,486.0 524.7,485.9 525.4,486.0 526.0,485.9 526.6,486.0 527.3,486.0 527.9,486.0 528.5,486.0 529.2,486.0 529.8,485.9 530.4,486.1 531.1,485.9 531.7,485.9 532.3,485.8 533.0,485.7 533.6,485.7 534.2,485.5 534.9,485.5 535.5,485.4 536.1,485.1 536.8,484.9 537.4,484.8 538.0,484.6 538.7,484.4 539.3,484.2 539.9,483.9 540.6,483.7 541.2,483.4 541.8,483.1 542.5,482.8 543.1,482.4 543.7,482.0 544.3,481.5 545.0,481.0 545.6,480.6 546.2,480.1 546.9,479.6 547.5,478.9 548.1,478.3 548.8,477.8 549.4,477.1 550.0,476.4 550.7,475.8 551.3,475.1 551.9,474.3 552.6,473.6 553.2,472.8 553.8,472.0 554.5,471.3 555.1,470.5 555.7,469.7 556.4,468.9 557.0,468.1 557.6,467.3 558.3,466.6 558.9,465.8 559.5,465.0 560.2,464.3 560.8,463.7 561.4,463.0 562.1,462.4 562.7,461.9 563.3,461.4 564.0,460.9 564.6,460.5 565.2,460.2 565.9,459.8 566.5,459.5 567.1,459.4 567.8,459.3 568.4,459.3 569.0,459.3 569.7,459.3 570.3,459.4 570.9,459.7 571.6,459.9 572.2,460.3 572.8,460.8 573.5,461.2 574.1,461.7 574.7,462.3 575.4,462.9 576.0,463.5 576.6,464.2 577.3,464.9 577.9,465.7 578.5,466.4 579.2,467.2 579.8,467.9 580.4,468.7 581.1,469.5 581.7,470.2 582.3,470.9 583.0,471.7 583.6,472.4 584.2,473.1 584.9,473.8 585.5,474.5 586.1,475.1 586.8,475.8 587.4,476.2 588.0,476.8 588.7,477.3 589.3,477.8 589.9,478.3 590.6,478.7 591.2,479.1 591.8,479.4 592.5,479.8 593.1,480.1 593.7,480.3 594.4,480.6 595.0,480.9 595.6,481.1 596.3,481.3 596.9,481.5 597.5,481.7 598.2,481.9 598.8,481.9 599.4,482.0 600.1,482.1 600.7,482.2 601.3,482.3 602.0,482.4 602.6,482.4 603.2,482.5 603.9,482.6 604.5,482.6 605.1,482.6 605.8,482.7 606.4,482.7 607.0,482.7 607.6,482.7 608.3,482.7 608.9,482.7 609.5,482.8 610.2,482.8 610.8,482.7 611.4,482.8 612.1,482.8 612.7,482.8 613.3,482.8 614.0,482.8 614.6,482.8 615.2,482.8 615.9,482.8 616.5,482.8 617.1,482.8 617.8,482.9 618.4,482.9 619.0,482.8 619.7,482.9 620.3,482.8 620.9,482.9 621.6,482.9 622.2,482.8 622.8,482.8 623.5,482.8 624.1,482.8 624.7,482.7 625.4,482.7 626.0,482.7 626.6,482.8 627.3,482.8 627.9,482.8 628.5,482.8 629.2,482.8 629.8,482.8 630.4,482.8 631.1,482.8 631.7,482.8 632.3,482.8 633.0,482.8 633.6,482.8 634.2,482.8 634.9,482.8 635.5,482.8 636.1,482.8 636.8,482.7 637.4,482.8 638.0,482.8 638.7,482.8 639.3,482.8 639.9,482.8 640.6,482.8 641.2,482.8 641.8,482.8 642.5,482.8 643.1,482.9 643.7,482.9 644.4,482.8 645.0,482.8 645.6,482.8 646.3,482.8 646.9,482.8 647.5,482.8 648.2,482.8 648.8,482.8 649.4,482.8 650.1,482.8 650.7,482.8 651.3,482.8 652.0,482.8 652.6,482.8 653.2,482.7 653.9,482.8 654.5,482.8 655.1,482.8 655.8,482.9 656.4,482.8 657.0,482.8 657.7,482.8 658.3,482.8 658.9,482.9 659.6,482.8 660.2,482.8 660.8,482.8 661.5,482.8 662.1,482.8 662.7,482.8 663.4,482.8 664.0,482.8 664.6,482.8 665.3,482.8 665.9,482.8 666.5,482.8 667.2,482.8 667.8,482.8 668.4,482.9 669.1,482.8 669.7,482.8 670.3,482.8 670.9,482.8 671.6,482.8 672.2,482.8 672.8,482.8 673.5,482.8 674.1,482.8 674.7,482.8 675.4,482.8 676.0,482.8 676.6,482.7 677.3,482.7 677.9,482.8 678.5,482.9 679.2,482.8 679.8,482.8 680.4,482.8 681.1,482.8 681.7,482.8 682.3,482.8 683.0,482.8 683.6,482.8 684.2,482.8 684.9,482.8" fill="none" stroke="#d61d30" stroke-width="1.85" stroke-linejoin="round" stroke-linecap="round" clip-path="url(#cH)"/>
<polyline points="503.8,479.4 504.5,479.4 505.1,479.2 505.7,478.8 506.4,478.8 507.0,478.7 507.6,478.6 508.3,478.7 508.9,478.5 509.5,478.0 510.2,478.0 510.8,477.8 511.4,477.5 512.1,477.6 512.7,477.5 513.3,477.4 514.0,477.4 514.6,477.2 515.2,477.0 515.9,476.8 516.5,476.6 517.1,476.6 517.8,476.2 518.4,476.2 519.0,476.0 519.7,475.8 520.3,475.8 520.9,475.8 521.6,475.8 522.2,475.7 522.8,475.5 523.5,475.4 524.1,475.4 524.7,475.4 525.4,475.3 526.0,475.2 526.6,475.1 527.3,475.1 527.9,475.2 528.5,475.3 529.2,475.3 529.8,475.2 530.4,475.3 531.1,475.5 531.7,475.6 532.3,475.8 533.0,475.9 533.6,476.3 534.2,476.6 534.9,476.8 535.5,477.0 536.1,477.3 536.8,477.8 537.4,478.3 538.0,478.6 538.7,479.1 539.3,479.6 539.9,480.2 540.6,480.8 541.2,481.6 541.8,482.3 542.5,483.1 543.1,483.9 543.7,484.8 544.3,485.7 545.0,486.8 545.6,487.8 546.2,489.0 546.9,490.1 547.5,491.4 548.1,492.6 548.8,493.9 549.4,495.3 550.0,496.8 550.7,498.3 551.3,499.8 551.9,501.4 552.6,503.0 553.2,504.7 553.8,506.4 554.5,508.1 555.1,509.8 555.7,511.5 556.4,513.2 557.0,514.9 557.6,516.6 558.3,518.2 558.9,519.8 559.5,521.4 560.2,522.9 560.8,524.5 561.4,525.9 562.1,527.2 562.7,528.4 563.3,529.5 564.0,530.4 564.6,531.4 565.2,532.1 565.9,532.7 566.5,533.2 567.1,533.6 567.8,533.8 568.4,533.9 569.0,533.9 569.7,533.7 570.3,533.3 570.9,532.8 571.6,532.2 572.2,531.4 572.8,530.5 573.5,529.5 574.1,528.4 574.7,527.2 575.4,525.9 576.0,524.4 576.6,523.0 577.3,521.5 577.9,519.8 578.5,518.2 579.2,516.6 579.8,514.9 580.4,513.3 581.1,511.7 581.7,510.0 582.3,508.4 583.0,506.8 583.6,505.2 584.2,503.7 584.9,502.2 585.5,500.7 586.1,499.4 586.8,498.1 587.4,496.9 588.0,495.7 588.7,494.5 589.3,493.5 589.9,492.6 590.6,491.6 591.2,490.8 591.8,490.0 592.5,489.2 593.1,488.5 593.7,487.9 594.4,487.4 595.0,486.9 595.6,486.4 596.3,485.9 596.9,485.6 597.5,485.2 598.2,484.9 598.8,484.6 599.4,484.4 600.1,484.2 600.7,484.0 601.3,483.8 602.0,483.7 602.6,483.6 603.2,483.5 603.9,483.4 604.5,483.3 605.1,483.1 605.8,483.1 606.4,483.0 607.0,483.0 607.6,483.0 608.3,483.0 608.9,483.0 609.5,483.0 610.2,482.9 610.8,482.9 611.4,482.8 612.1,482.8 612.7,482.8 613.3,482.9 614.0,482.8 614.6,482.8 615.2,482.8 615.9,482.8 616.5,482.8 617.1,482.8 617.8,482.8 618.4,482.8 619.0,482.8 619.7,482.8 620.3,482.8 620.9,482.8 621.6,482.8 622.2,482.8 622.8,482.8 623.5,482.8 624.1,482.8 624.7,482.8 625.4,482.8 626.0,482.8 626.6,482.7 627.3,482.8 627.9,482.9 628.5,482.8 629.2,482.8 629.8,482.7 630.4,482.8 631.1,482.8 631.7,482.8 632.3,482.8 633.0,482.8 633.6,482.8 634.2,482.8 634.9,482.7 635.5,482.7 636.1,482.8 636.8,482.8 637.4,482.8 638.0,482.8 638.7,482.8 639.3,482.8 639.9,482.8 640.6,482.9 641.2,482.8 641.8,482.8 642.5,482.8 643.1,482.8 643.7,482.8 644.4,482.8 645.0,482.8 645.6,482.8 646.3,482.7 646.9,482.8 647.5,482.8 648.2,482.8 648.8,482.8 649.4,482.8 650.1,482.8 650.7,482.8 651.3,482.8 652.0,482.8 652.6,482.8 653.2,482.8 653.9,482.8 654.5,482.8 655.1,482.8 655.8,482.8 656.4,482.8 657.0,482.8 657.7,482.8 658.3,482.8 658.9,482.8 659.6,482.8 660.2,482.8 660.8,482.8 661.5,482.7 662.1,482.8 662.7,482.8 663.4,482.8 664.0,482.8 664.6,482.9 665.3,482.9 665.9,482.8 666.5,482.8 667.2,482.8 667.8,482.8 668.4,482.8 669.1,482.8 669.7,482.8 670.3,482.8 670.9,482.8 671.6,482.8 672.2,482.8 672.8,482.8 673.5,482.8 674.1,482.8 674.7,482.8 675.4,482.8 676.0,482.8 676.6,482.8 677.3,482.8 677.9,482.8 678.5,482.8 679.2,482.8 679.8,482.8 680.4,482.8 681.1,482.8 681.7,482.8 682.3,482.8 683.0,482.7 683.6,482.8 684.2,482.8 684.9,482.8" fill="none" stroke="#161616" stroke-width="1.85" stroke-linejoin="round" stroke-linecap="round" clip-path="url(#cH)"/>
<polyline points="503.8,481.5 504.5,481.1 505.1,481.4 505.7,481.6 506.4,481.5 507.0,481.3 507.6,481.1 508.3,480.7 508.9,480.7 509.5,480.6 510.2,480.7 510.8,480.6 511.4,480.3 512.1,480.4 512.7,480.1 513.3,479.9 514.0,480.1 514.6,480.1 515.2,480.0 515.9,480.0 516.5,480.0 517.1,479.9 517.8,479.9 518.4,479.8 519.0,479.6 519.7,479.6 520.3,479.6 520.9,479.4 521.6,479.4 522.2,479.4 522.8,479.3 523.5,479.3 524.1,479.3 524.7,479.3 525.4,479.1 526.0,479.2 526.6,479.2 527.3,479.1 527.9,479.2 528.5,479.3 529.2,479.2 529.8,479.2 530.4,479.2 531.1,479.3 531.7,479.2 532.3,479.4 533.0,479.5 533.6,479.6 534.2,479.8 534.9,479.8 535.5,479.9 536.1,479.9 536.8,480.2 537.4,480.5 538.0,480.7 538.7,481.0 539.3,481.3 539.9,481.5 540.6,481.8 541.2,482.2 541.8,482.6 542.5,482.9 543.1,483.3 543.7,483.8 544.3,484.3 545.0,484.8 545.6,485.3 546.2,486.0 546.9,486.6 547.5,487.2 548.1,487.9 548.8,488.6 549.4,489.4 550.0,490.2 550.7,491.0 551.3,491.8 551.9,492.7 552.6,493.6 553.2,494.5 553.8,495.4 554.5,496.3 555.1,497.2 555.7,498.2 556.4,499.2 557.0,500.1 557.6,501.0 558.3,501.9 558.9,502.8 559.5,503.6 560.2,504.5 560.8,505.3 561.4,506.1 562.1,506.8 562.7,507.5 563.3,508.1 564.0,508.7 564.6,509.1 565.2,509.6 565.9,509.9 566.5,510.2 567.1,510.4 567.8,510.6 568.4,510.6 569.0,510.6 569.7,510.5 570.3,510.3 570.9,510.1 571.6,509.8 572.2,509.4 572.8,508.9 573.5,508.3 574.1,507.7 574.7,507.0 575.4,506.3 576.0,505.6 576.6,504.8 577.3,504.0 577.9,503.1 578.5,502.2 579.2,501.3 579.8,500.4 580.4,499.5 581.1,498.6 581.7,497.7 582.3,496.8 583.0,495.9 583.6,495.0 584.2,494.2 584.9,493.5 585.5,492.7 586.1,491.9 586.8,491.2 587.4,490.6 588.0,489.9 588.7,489.3 589.3,488.7 589.9,488.1 590.6,487.7 591.2,487.2 591.8,486.8 592.5,486.4 593.1,486.0 593.7,485.7 594.4,485.3 595.0,485.0 595.6,484.8 596.3,484.6 596.9,484.3 597.5,484.1 598.2,484.0 598.8,483.8 599.4,483.7 600.1,483.6 600.7,483.4 601.3,483.3 602.0,483.3 602.6,483.2 603.2,483.2 603.9,483.1 604.5,483.1 605.1,483.0 605.8,483.0 606.4,482.9 607.0,482.9 607.6,482.9 608.3,482.9 608.9,482.9 609.5,482.9 610.2,482.9 610.8,482.9 611.4,482.9 612.1,482.8 612.7,482.8 613.3,482.8 614.0,482.8 614.6,482.8 615.2,482.8 615.9,482.8 616.5,482.8 617.1,482.7 617.8,482.8 618.4,482.8 619.0,482.8 619.7,482.8 620.3,482.8 620.9,482.8 621.6,482.8 622.2,482.8 622.8,482.8 623.5,482.8 624.1,482.8 624.7,482.8 625.4,482.8 626.0,482.9 626.6,482.9 627.3,482.8 627.9,482.8 628.5,482.8 629.2,482.9 629.8,482.8 630.4,482.8 631.1,482.8 631.7,482.8 632.3,482.8 633.0,482.8 633.6,482.8 634.2,482.8 634.9,482.8 635.5,482.8 636.1,482.8 636.8,482.8 637.4,482.8 638.0,482.8 638.7,482.8 639.3,482.8 639.9,482.8 640.6,482.8 641.2,482.8 641.8,482.8 642.5,482.8 643.1,482.9 643.7,482.8 644.4,482.8 645.0,482.8 645.6,482.8 646.3,482.8 646.9,482.8 647.5,482.8 648.2,482.9 648.8,482.8 649.4,482.8 650.1,482.9 650.7,482.8 651.3,482.8 652.0,482.7 652.6,482.8 653.2,482.7 653.9,482.8 654.5,482.7 655.1,482.7 655.8,482.8 656.4,482.8 657.0,482.8 657.7,482.8 658.3,482.7 658.9,482.8 659.6,482.8 660.2,482.8 660.8,482.9 661.5,482.8 662.1,482.8 662.7,482.9 663.4,482.8 664.0,482.8 664.6,482.8 665.3,482.8 665.9,482.8 666.5,482.8 667.2,482.8 667.8,482.9 668.4,482.9 669.1,482.9 669.7,482.9 670.3,482.9 670.9,482.9 671.6,482.8 672.2,482.8 672.8,482.8 673.5,482.8 674.1,482.8 674.7,482.8 675.4,482.8 676.0,482.8 676.6,482.8 677.3,482.9 677.9,482.9 678.5,482.9 679.2,482.8 679.8,482.8 680.4,482.8 681.1,482.8 681.7,482.8 682.3,482.8 683.0,482.8 683.6,482.8 684.2,482.8 684.9,482.8" fill="none" stroke="#2fa55a" stroke-width="1.85" stroke-linejoin="round" stroke-linecap="round" clip-path="url(#cH)"/>
<text x="533.8" y="570.5" font-size="14.2" text-anchor="middle" fill="#161616" stroke="#161616" stroke-width="0.3" >400</text>
<text x="576.0" y="570.5" font-size="14.2" text-anchor="middle" fill="#161616" stroke="#161616" stroke-width="0.3" >500</text>
<text x="618.2" y="570.5" font-size="14.2" text-anchor="middle" fill="#161616" stroke="#161616" stroke-width="0.3" >600</text>
<text x="660.4" y="570.5" font-size="14.2" text-anchor="middle" fill="#161616" stroke="#161616" stroke-width="0.3" >700</text>
<text x="496.2" y="421.0" font-size="14.2" text-anchor="end" fill="#161616" stroke="#161616" stroke-width="0.3" >0.10</text>
<text x="496.2" y="454.4" font-size="14.2" text-anchor="end" fill="#161616" stroke="#161616" stroke-width="0.3" >0.05</text>
<text x="496.2" y="487.8" font-size="14.2" text-anchor="end" fill="#161616" stroke="#161616" stroke-width="0.3" >0.00</text>
<text x="496.2" y="521.2" font-size="14.2" text-anchor="end" fill="#161616" stroke="#161616" stroke-width="0.3" >-0.05</text>
<text x="496.2" y="554.6" font-size="14.2" text-anchor="end" fill="#161616" stroke="#161616" stroke-width="0.3" >-0.10</text>
<text x="525.7" y="441.3" font-size="18.9" text-anchor="middle" fill="#161616" stroke="#161616" stroke-width="0.3" >(H)</text>
<text x="643.5" y="445.1" font-size="19.3" text-anchor="middle" fill="#161616" stroke="#161616" stroke-width="0.3" >K91T</text>
<text x="592.5" y="460.1" font-size="15.6" text-anchor="middle" fill="#d61d30" stroke="#d61d30" stroke-width="0.3" >2</text>
<line x1="575.8" y1="462.2" x2="587.7" y2="456.4" stroke="#d61d30" stroke-width="1.8"/>
<text x="604.7" y="471.5" font-size="15.6" text-anchor="middle" fill="#28368f" stroke="#28368f" stroke-width="0.3" >4</text>
<line x1="585.4" y1="473.1" x2="598.3" y2="467.6" stroke="#28368f" stroke-width="1.8"/>
<text x="596.5" y="516.1" font-size="15.6" text-anchor="middle" fill="#2fa55a" stroke="#2fa55a" stroke-width="0.3" >3</text>
<line x1="577.4" y1="506.2" x2="590.9" y2="510.3" stroke="#2fa55a" stroke-width="1.8"/>
<text x="598.3" y="532.4" font-size="15.6" text-anchor="middle" fill="#161616" stroke="#161616" stroke-width="0.3" >1</text>
<line x1="579.6" y1="520.6" x2="592.5" y2="524.8" stroke="#161616" stroke-width="1.8"/>
<text x="600.1" y="594.2" font-size="18.9" text-anchor="middle" fill="#161616" stroke="#161616" stroke-width="0.3" >Wavelength (nm)</text>
<text x="14.8" y="315.0" font-size="19.7" text-anchor="middle" fill="#161616" stroke="#161616" stroke-width="0.3" transform="rotate(-90 14.8 315)">Diff. Abs.</text>
<text x="14.8" y="482.0" font-size="19.7" text-anchor="middle" fill="#161616" stroke="#161616" stroke-width="0.3" transform="rotate(-90 14.8 482)">Diff. Abs.</text>
</g>
</svg>
</body></html>
